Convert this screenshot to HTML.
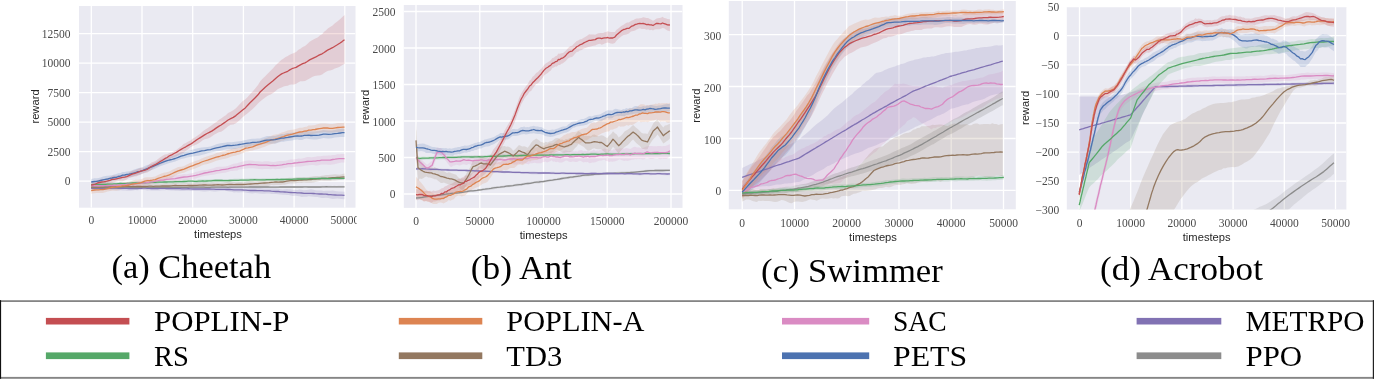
<!DOCTYPE html>
<html><head><meta charset="utf-8"><title>figure</title>
<style>html,body{margin:0;padding:0;background:#fff;width:1376px;height:383px;overflow:hidden}svg{display:block;filter:blur(0.6px)}</style>
</head><body>
<svg width="1376" height="383" viewBox="0 0 1376 383"><defs>
<clipPath id="clipa"><rect x="79.0" y="6.0" width="276.5" height="201.7"/></clipPath>
<clipPath id="clipb"><rect x="403.8" y="5.0" width="278.7" height="202.9"/></clipPath>
<clipPath id="clipc"><rect x="728.8" y="1.0" width="287.0" height="208.3"/></clipPath>
<clipPath id="clipd"><rect x="1066.8" y="7.0" width="279.6" height="202.6"/></clipPath>
<clipPath id="cliptxt"><rect x="0" y="0" width="356.8" height="383"/></clipPath>
</defs>
<rect x="79.0" y="6.0" width="276.5" height="201.7" fill="#EAEAF2"/>
<g clip-path="url(#clipa)">
<line x1="91.3" y1="6.0" x2="91.3" y2="207.7" stroke="#fff" stroke-width="1.3"/>
<line x1="142.0" y1="6.0" x2="142.0" y2="207.7" stroke="#fff" stroke-width="1.3"/>
<line x1="192.7" y1="6.0" x2="192.7" y2="207.7" stroke="#fff" stroke-width="1.3"/>
<line x1="243.4" y1="6.0" x2="243.4" y2="207.7" stroke="#fff" stroke-width="1.3"/>
<line x1="294.1" y1="6.0" x2="294.1" y2="207.7" stroke="#fff" stroke-width="1.3"/>
<line x1="344.8" y1="6.0" x2="344.8" y2="207.7" stroke="#fff" stroke-width="1.3"/>
<line x1="79.0" y1="181.1" x2="355.5" y2="181.1" stroke="#fff" stroke-width="1.3"/>
<line x1="79.0" y1="151.6" x2="355.5" y2="151.6" stroke="#fff" stroke-width="1.3"/>
<line x1="79.0" y1="122.1" x2="355.5" y2="122.1" stroke="#fff" stroke-width="1.3"/>
<line x1="79.0" y1="92.6" x2="355.5" y2="92.6" stroke="#fff" stroke-width="1.3"/>
<line x1="79.0" y1="63.1" x2="355.5" y2="63.1" stroke="#fff" stroke-width="1.3"/>
<line x1="79.0" y1="33.6" x2="355.5" y2="33.6" stroke="#fff" stroke-width="1.3"/>
<polygon points="91.2,186.9 94.4,187.0 96.5,186.9 98.6,186.7 100.7,186.4 103.1,186.0 105.4,186.1 107.8,185.9 110.2,185.9 112.3,185.6 114.4,185.7 116.5,185.8 118.6,185.9 120.7,185.8 122.8,185.6 124.9,185.6 126.9,186.0 129.0,186.0 131.0,186.3 133.1,186.5 135.1,186.4 137.2,186.2 139.2,185.9 141.2,186.1 143.2,185.9 145.2,186.2 147.3,186.6 149.3,186.8 151.3,186.7 153.3,186.2 155.5,186.1 157.8,186.0 160.0,186.0 162.2,186.3 164.4,186.2 166.7,186.2 168.9,186.4 171.1,186.6 173.3,186.7 175.5,186.5 177.6,186.2 179.8,186.5 182.0,186.8 184.2,187.2 186.3,187.3 188.5,186.9 190.7,186.8 192.8,186.6 194.9,186.8 197.0,187.0 199.2,187.2 201.3,187.0 203.4,186.8 205.5,186.9 207.7,187.3 209.7,187.5 211.8,187.7 213.9,187.7 215.9,187.8 218.0,187.5 220.1,187.3 222.1,187.1 224.5,187.0 226.9,186.8 229.3,186.8 231.6,187.0 234.0,187.4 236.4,187.8 238.7,187.9 241.0,187.9 243.4,188.0 245.7,188.4 248.0,188.3 250.4,188.0 252.7,187.6 255.1,187.5 257.4,187.5 259.7,187.7 262.1,188.2 264.4,188.5 266.7,188.5 269.1,188.4 271.4,188.6 273.7,188.5 276.0,188.6 278.4,188.7 280.7,189.3 282.7,189.4 284.8,189.2 286.8,188.9 288.8,189.2 290.8,189.3 293.0,189.8 295.2,189.8 297.4,189.9 299.5,189.6 301.7,189.8 304.0,190.2 306.4,190.1 308.7,189.7 311.0,189.3 313.4,189.8 315.4,190.3 317.5,190.5 319.6,190.5 321.7,190.6 323.8,190.9 325.8,190.8 328.2,190.7 330.5,190.7 332.8,190.6 335.2,190.9 337.2,191.2 339.3,191.6 341.4,191.6 344.5,191.7 344.5,199.3 341.4,199.0 339.3,198.7 337.2,198.6 335.2,198.8 332.8,199.1 330.5,198.5 328.2,198.1 325.8,197.8 323.8,198.0 321.7,198.0 319.6,197.6 317.5,197.1 315.4,197.0 313.4,196.8 311.0,196.6 308.7,196.2 306.4,196.7 304.0,196.8 301.7,197.0 299.5,196.2 297.4,196.0 295.2,195.8 293.0,195.9 290.8,195.4 288.8,195.1 286.8,194.9 284.8,194.8 282.7,194.8 280.7,194.6 278.4,194.3 276.0,194.0 273.7,193.9 271.4,193.9 269.1,193.5 266.7,193.6 264.4,193.7 262.1,193.8 259.7,193.5 257.4,193.3 255.1,193.1 252.7,193.4 250.4,193.3 248.0,193.1 245.7,192.6 243.4,192.3 241.0,192.2 238.7,192.4 236.4,192.3 234.0,192.5 231.6,191.8 229.3,191.4 226.9,191.0 224.5,191.1 222.1,191.0 220.1,190.9 218.0,191.2 215.9,191.5 213.9,191.6 211.8,191.2 209.7,191.1 207.7,191.3 205.5,191.5 203.4,191.5 201.3,191.3 199.2,191.1 197.0,191.0 194.9,191.0 192.8,191.0 190.7,191.0 188.5,190.8 186.3,190.8 184.2,191.0 182.0,191.1 179.8,191.1 177.6,190.8 175.5,190.8 173.3,190.6 171.1,190.5 168.9,190.3 166.7,190.1 164.4,190.3 162.2,190.3 160.0,190.6 157.8,190.5 155.5,190.4 153.3,190.5 151.3,190.6 149.3,190.3 147.3,190.4 145.2,190.0 143.2,190.0 141.2,189.9 139.2,189.9 137.2,190.2 135.1,190.1 133.1,190.5 131.0,190.7 129.0,190.7 126.9,190.8 124.9,190.5 122.8,190.5 120.7,190.3 118.6,190.5 116.5,190.2 114.4,190.2 112.3,189.9 110.2,190.2 107.8,190.0 105.4,190.1 103.1,190.0 100.7,190.0 98.6,190.3 96.5,190.6 94.4,190.7 91.2,190.5" fill="#8172B3" fill-opacity="0.18"/>
<polygon points="91.2,186.5 93.2,186.6 95.2,186.7 97.2,186.6 99.2,186.6 101.3,186.5 103.3,186.6 105.3,186.5 107.3,186.5 109.3,186.4 111.3,186.5 113.3,186.5 115.3,186.5 117.3,186.5 119.3,186.5 121.4,186.5 123.4,186.4 125.4,186.4 127.4,186.4 129.4,186.5 131.4,186.5 133.4,186.4 135.4,186.4 137.4,186.3 139.4,186.3 141.5,186.4 143.5,186.4 145.5,186.3 147.5,186.2 149.5,186.2 151.5,186.3 153.5,186.4 155.5,186.4 157.5,186.4 159.6,186.4 161.6,186.4 163.6,186.4 165.6,186.3 167.6,186.4 169.6,186.3 171.6,186.4 173.6,186.4 175.6,186.5 177.6,186.4 179.7,186.4 181.7,186.5 183.7,186.5 185.7,186.4 187.7,186.2 189.7,186.2 191.7,186.2 193.7,186.2 195.7,186.1 197.7,186.2 199.8,186.2 201.8,186.2 203.8,186.3 205.8,186.3 207.8,186.4 209.8,186.3 211.8,186.2 213.8,186.2 215.8,186.2 217.9,186.1 219.9,186.0 221.9,186.0 223.9,186.1 225.9,186.2 227.9,186.2 229.9,186.1 231.9,186.1 233.9,186.2 235.9,186.1 238.0,186.1 240.0,186.1 242.0,186.1 244.0,186.2 246.0,186.1 248.0,186.2 250.0,186.1 252.0,186.0 254.0,185.9 256.0,186.0 258.1,186.0 260.1,186.0 262.1,185.9 264.1,185.9 266.1,185.9 268.1,185.9 270.1,186.0 272.1,186.0 274.1,186.2 276.1,186.1 278.2,186.1 280.2,185.9 282.2,185.9 284.2,185.9 286.2,186.0 288.2,186.1 290.2,186.1 292.2,186.1 294.2,186.1 296.3,186.2 298.3,186.1 300.3,186.1 302.3,185.9 304.3,185.9 306.3,185.9 308.3,186.0 310.3,186.0 312.3,186.0 314.3,185.9 316.4,185.9 318.4,185.9 320.4,186.0 322.4,185.8 324.4,185.8 326.4,185.7 328.4,185.8 330.4,185.8 332.4,185.9 334.4,185.8 336.5,185.9 338.5,185.8 340.5,185.8 342.5,185.7 344.5,185.7 344.5,187.6 342.5,187.7 340.5,187.8 338.5,187.8 336.5,187.9 334.4,187.7 332.4,187.8 330.4,187.8 328.4,187.8 326.4,187.7 324.4,187.7 322.4,187.8 320.4,188.0 318.4,188.0 316.4,188.0 314.3,187.9 312.3,188.0 310.3,187.9 308.3,187.9 306.3,188.0 304.3,187.9 302.3,188.0 300.3,188.0 298.3,188.1 296.3,188.1 294.2,188.0 292.2,187.9 290.2,188.0 288.2,187.9 286.2,187.9 284.2,187.9 282.2,188.1 280.2,188.1 278.2,188.0 276.1,188.1 274.1,188.1 272.1,188.0 270.1,188.0 268.1,188.0 266.1,188.1 264.1,188.0 262.1,187.9 260.1,187.9 258.1,188.0 256.0,188.1 254.0,188.1 252.0,188.1 250.0,188.0 248.0,188.0 246.0,188.0 244.0,188.0 242.0,188.0 240.0,188.0 238.0,188.1 235.9,188.1 233.9,188.0 231.9,188.1 229.9,188.2 227.9,188.3 225.9,188.2 223.9,188.1 221.9,188.1 219.9,188.2 217.9,188.2 215.8,188.2 213.8,188.1 211.8,188.2 209.8,188.2 207.8,188.4 205.8,188.3 203.8,188.3 201.8,188.3 199.8,188.3 197.7,188.3 195.7,188.2 193.7,188.1 191.7,188.1 189.7,188.2 187.7,188.4 185.7,188.5 183.7,188.5 181.7,188.4 179.7,188.4 177.6,188.3 175.6,188.3 173.6,188.4 171.6,188.4 169.6,188.4 167.6,188.3 165.6,188.3 163.6,188.4 161.6,188.6 159.6,188.5 157.5,188.4 155.5,188.3 153.5,188.3 151.5,188.3 149.5,188.3 147.5,188.3 145.5,188.4 143.5,188.3 141.5,188.4 139.4,188.4 137.4,188.4 135.4,188.3 133.4,188.4 131.4,188.4 129.4,188.4 127.4,188.4 125.4,188.4 123.4,188.5 121.4,188.5 119.3,188.5 117.3,188.4 115.3,188.4 113.3,188.4 111.3,188.4 109.3,188.4 107.3,188.4 105.3,188.4 103.3,188.6 101.3,188.6 99.2,188.7 97.2,188.6 95.2,188.7 93.2,188.6 91.2,188.5" fill="#8C8C8C" fill-opacity="0.18"/>
<polygon points="91.2,185.6 94.4,185.3 96.5,185.2 98.6,185.3 100.7,185.7 103.1,185.2 105.4,184.8 107.8,184.7 110.2,185.2 112.3,185.3 114.4,184.8 116.5,184.4 118.6,184.0 120.7,184.0 122.8,184.3 124.9,184.4 126.9,184.7 129.0,184.4 131.0,184.8 133.1,184.5 135.1,184.5 137.2,184.2 139.2,184.5 141.2,184.4 143.2,184.4 145.2,184.2 147.3,184.0 149.3,183.7 151.3,183.4 153.3,183.6 155.5,183.4 157.8,183.6 160.0,183.8 162.2,183.7 164.4,183.3 166.7,183.1 168.9,183.5 171.1,183.4 173.3,183.1 175.5,182.6 177.6,183.1 179.8,183.3 182.0,183.3 184.2,182.9 186.3,182.8 188.5,182.9 190.7,183.1 192.8,183.0 194.9,182.7 197.0,182.6 199.2,182.6 201.3,182.7 203.4,182.2 205.5,182.6 207.7,182.7 209.7,182.9 211.8,182.6 213.9,182.4 215.9,182.4 218.0,182.5 220.1,182.7 222.1,182.5 224.5,182.3 226.9,181.9 229.3,181.6 231.6,181.7 234.0,181.9 236.4,182.2 238.7,182.0 241.0,182.1 243.4,182.0 245.7,181.8 248.0,181.2 250.4,181.0 252.7,181.0 255.1,181.3 257.4,181.0 259.7,180.8 262.1,180.3 264.4,180.3 266.7,179.9 269.1,179.7 271.4,179.3 273.7,179.6 276.0,179.3 278.4,179.4 280.7,179.2 282.7,179.6 284.8,179.1 286.8,178.3 288.8,177.9 290.8,178.2 293.0,178.4 295.2,177.8 297.4,177.5 299.5,177.2 301.7,177.5 304.0,177.3 306.4,177.5 308.7,176.9 311.0,176.8 313.4,176.2 315.4,176.1 317.5,175.9 319.6,176.2 321.7,175.8 323.8,175.4 325.8,175.0 328.2,174.9 330.5,174.7 332.8,174.4 335.2,174.2 337.2,174.4 339.3,174.7 341.4,174.3 344.5,173.6 344.5,179.1 341.4,179.7 339.3,180.1 337.2,180.3 335.2,180.4 332.8,180.6 330.5,180.9 328.2,181.0 325.8,181.0 323.8,181.1 321.7,180.7 319.6,181.1 317.5,181.4 315.4,182.0 313.4,182.5 311.0,182.8 308.7,182.8 306.4,182.8 304.0,182.6 301.7,182.9 299.5,182.7 297.4,183.1 295.2,183.4 293.0,183.5 290.8,183.6 288.8,183.8 286.8,184.2 284.8,184.7 282.7,184.7 280.7,184.9 278.4,185.1 276.0,184.9 273.7,185.2 271.4,185.1 269.1,185.7 266.7,185.9 264.4,185.9 262.1,186.1 259.7,186.1 257.4,186.1 255.1,186.2 252.7,186.2 250.4,186.8 248.0,187.0 245.7,187.5 243.4,187.2 241.0,186.8 238.7,186.4 236.4,186.5 234.0,186.8 231.6,186.8 229.3,186.7 226.9,187.1 224.5,187.5 222.1,187.5 220.1,187.3 218.0,187.0 215.9,187.6 213.9,187.3 211.8,187.9 209.7,187.6 207.7,187.4 205.5,187.4 203.4,187.5 201.3,187.8 199.2,187.8 197.0,188.0 194.9,188.3 192.8,188.4 190.7,187.9 188.5,188.1 186.3,188.2 184.2,188.6 182.0,188.7 179.8,188.2 177.6,188.2 175.5,187.7 173.3,188.1 171.1,187.9 168.9,188.1 166.7,188.1 164.4,188.5 162.2,188.3 160.0,188.3 157.8,188.0 155.5,188.3 153.3,188.3 151.3,188.1 149.3,188.1 147.3,188.0 145.2,188.3 143.2,188.3 141.2,188.2 139.2,188.4 137.2,188.6 135.1,189.1 133.1,188.8 131.0,188.7 129.0,188.4 126.9,188.3 124.9,188.3 122.8,188.3 120.7,188.7 118.6,188.8 116.5,188.8 114.4,188.8 112.3,188.8 110.2,188.9 107.8,188.9 105.4,189.0 103.1,189.0 100.7,189.3 98.6,189.0 96.5,189.3 94.4,189.1 91.2,189.3" fill="#937860" fill-opacity="0.18"/>
<polygon points="91.2,183.4 94.3,183.3 96.4,183.2 98.5,183.3 100.6,183.1 103.0,182.9 105.3,182.6 107.7,182.5 110.0,182.5 112.1,182.6 114.2,182.6 116.3,182.5 118.4,182.2 120.5,182.1 122.6,182.0 124.6,181.9 126.7,181.9 128.7,181.7 130.8,181.5 132.8,181.4 134.9,181.4 136.9,181.3 138.9,181.2 140.9,181.3 142.9,181.4 145.0,181.3 147.0,181.3 149.0,181.2 151.0,181.1 153.0,181.0 155.2,180.8 157.5,180.6 159.7,180.4 161.9,180.6 164.2,180.5 166.4,180.5 168.6,180.5 170.9,180.4 173.1,180.3 175.2,180.1 177.4,180.2 179.6,180.1 181.8,180.1 184.0,179.8 186.2,179.8 188.3,179.8 190.5,179.7 192.6,179.7 194.6,179.7 196.7,179.9 198.7,179.6 200.8,179.6 202.8,179.4 204.9,179.6 206.9,179.5 208.9,179.5 211.0,179.3 213.0,179.1 215.2,179.0 217.3,178.9 219.4,178.9 221.5,179.0 223.6,179.0 225.7,179.1 227.9,179.1 230.0,179.1 232.1,179.0 234.2,178.8 236.3,178.8 238.4,178.7 240.4,178.7 242.5,178.6 244.5,178.7 246.5,178.5 248.5,178.5 250.5,178.2 252.6,178.3 254.6,178.2 256.6,178.3 258.6,178.4 260.6,178.4 262.7,178.3 264.7,178.2 266.7,178.2 268.8,178.2 270.8,178.2 272.9,178.1 275.0,178.1 277.1,177.9 279.1,178.0 281.2,178.0 283.3,178.1 285.4,177.9 287.4,177.9 289.5,177.8 291.6,177.8 293.7,177.7 295.7,177.6 297.8,177.5 299.9,177.5 302.1,177.3 304.2,177.3 306.3,177.3 308.4,177.4 310.5,177.1 312.7,177.1 314.8,177.0 316.9,177.0 319.0,176.9 321.2,176.8 323.4,176.8 325.6,176.9 327.8,177.1 330.0,177.2 332.3,177.0 334.5,176.9 336.7,176.7 339.3,176.8 341.9,176.8 344.5,177.1 344.5,179.8 341.9,179.7 339.3,179.7 336.7,179.6 334.5,179.7 332.3,179.8 330.0,180.0 327.8,180.1 325.6,180.0 323.4,180.1 321.2,179.8 319.0,180.0 316.9,180.1 314.8,180.2 312.7,180.2 310.5,180.2 308.4,180.4 306.3,180.4 304.2,180.6 302.1,180.4 299.9,180.5 297.8,180.4 295.7,180.7 293.7,180.8 291.6,180.9 289.5,180.9 287.4,180.9 285.4,180.7 283.3,181.0 281.2,181.0 279.1,181.1 277.1,181.1 275.0,181.3 272.9,181.2 270.8,181.0 268.8,181.0 266.7,181.1 264.7,181.3 262.7,181.3 260.6,181.3 258.6,181.3 256.6,181.1 254.6,181.0 252.6,181.2 250.5,181.4 248.5,181.6 246.5,181.7 244.5,181.6 242.5,181.7 240.4,181.6 238.4,181.8 236.3,181.8 234.2,181.8 232.1,181.9 230.0,182.1 227.9,182.2 225.7,182.2 223.6,182.1 221.5,182.1 219.4,181.9 217.3,181.9 215.2,182.0 213.0,182.3 211.0,182.4 208.9,182.4 206.9,182.4 204.9,182.6 202.8,182.5 200.8,182.7 198.7,182.7 196.7,182.9 194.6,182.8 192.6,182.8 190.5,182.7 188.3,182.8 186.2,182.9 184.0,183.0 181.8,183.2 179.6,183.1 177.4,183.1 175.2,183.2 173.1,183.4 170.9,183.5 168.6,183.4 166.4,183.4 164.2,183.4 161.9,183.5 159.7,183.5 157.5,183.8 155.2,183.9 153.0,184.1 151.0,184.1 149.0,184.3 147.0,184.4 145.0,184.4 142.9,184.4 140.9,184.3 138.9,184.5 136.9,184.6 134.9,184.6 132.8,184.7 130.8,184.7 128.7,184.9 126.7,184.9 124.6,185.1 122.6,185.0 120.5,185.1 118.4,185.1 116.3,185.4 114.2,185.5 112.1,185.5 110.0,185.4 107.7,185.5 105.3,185.7 103.0,185.8 100.6,185.9 98.5,186.1 96.4,186.1 94.3,186.3 91.2,186.5" fill="#55A868" fill-opacity="0.18"/>
<polygon points="91.2,183.7 94.4,183.6 96.5,183.7 98.6,184.0 100.7,183.6 103.1,183.2 105.4,182.9 107.8,183.0 110.2,183.0 112.3,183.2 114.4,183.4 116.5,183.5 118.6,183.3 120.7,183.1 122.8,182.8 125.0,182.5 127.2,182.0 129.3,182.0 131.5,182.2 133.7,181.9 135.9,181.3 138.2,180.7 140.4,180.7 142.7,180.5 145.1,180.1 147.5,179.3 149.9,179.4 152.7,179.4 155.4,179.1 158.1,178.3 160.9,177.7 163.7,177.5 166.6,177.1 169.4,176.5 172.3,175.8 175.2,175.5 178.2,174.9 181.1,174.5 184.1,174.1 187.0,174.2 189.9,173.4 192.9,173.0 195.8,171.9 198.8,171.2 201.7,170.5 204.6,169.9 207.6,169.8 210.5,168.9 213.4,168.2 216.4,167.1 219.3,166.8 222.2,166.7 225.2,166.6 227.8,166.1 230.5,165.0 232.8,164.1 235.2,163.5 237.2,163.2 239.2,162.6 242.8,161.5 246.1,160.7 249.4,160.6 252.5,160.7 255.5,161.3 258.8,161.3 262.5,161.7 264.5,161.3 266.6,161.3 268.8,161.2 270.9,161.7 273.1,161.9 275.3,161.7 277.5,161.2 279.6,161.1 281.8,161.1 284.0,161.0 286.1,160.7 288.2,159.9 290.4,159.6 292.5,159.4 294.6,159.2 296.7,159.1 298.8,158.5 300.9,158.7 303.0,158.2 305.0,157.8 307.1,157.0 309.2,156.9 311.3,157.3 313.4,157.0 315.4,156.8 317.5,156.3 319.6,156.3 321.7,156.1 323.8,155.8 325.8,155.8 328.2,155.5 330.5,155.4 332.8,155.1 335.2,154.9 337.2,154.2 339.3,154.3 341.4,154.1 344.5,154.1 344.5,162.5 341.4,162.6 339.3,163.0 337.2,163.5 335.2,164.1 332.8,164.5 330.5,164.7 328.2,164.8 325.8,164.4 323.8,164.4 321.7,164.4 319.6,165.1 317.5,165.4 315.4,165.5 313.4,165.1 311.3,165.1 309.2,165.2 307.1,165.6 305.0,165.7 303.0,166.2 300.9,166.5 298.8,166.5 296.7,166.6 294.6,167.0 292.5,167.3 290.4,167.3 288.2,167.2 286.1,167.8 284.0,168.3 281.8,168.6 279.6,169.1 277.5,168.9 275.3,169.2 273.1,168.8 270.9,169.2 268.8,168.9 266.6,168.9 264.5,169.0 262.5,169.2 258.8,169.1 255.5,168.4 252.5,168.2 249.4,168.2 246.1,168.5 242.8,168.9 239.2,169.6 237.2,170.5 235.2,170.6 232.8,170.9 230.5,171.1 227.8,172.1 225.2,172.7 222.2,172.9 219.3,173.6 216.4,174.0 213.4,174.7 210.5,175.1 207.6,175.6 204.6,176.0 201.7,176.5 198.8,177.6 195.8,178.5 192.9,179.3 189.9,179.6 187.0,179.9 184.1,180.0 181.1,180.5 178.2,181.2 175.2,181.9 172.3,181.6 169.4,182.0 166.6,182.2 163.7,183.0 160.9,182.9 158.1,183.2 155.4,183.4 152.7,183.9 149.9,184.5 147.5,185.2 145.1,185.8 142.7,185.9 140.4,185.5 138.2,185.9 135.9,186.2 133.7,186.7 131.5,186.6 129.3,186.6 127.2,186.9 125.0,187.4 122.8,187.3 120.7,187.4 118.6,187.5 116.5,188.2 114.4,187.6 112.3,187.4 110.2,187.3 107.8,187.9 105.4,188.2 103.1,188.3 100.7,188.1 98.6,187.8 96.5,187.7 94.4,187.8 91.2,187.9" fill="#DA8BC3" fill-opacity="0.18"/>
<polygon points="91.2,187.7 94.3,187.3 96.4,186.7 98.5,187.0 100.6,186.5 103.0,186.3 105.3,185.5 107.7,185.2 110.0,184.8 112.1,184.3 114.2,183.8 116.3,183.8 118.4,183.4 120.5,183.3 122.6,182.4 124.7,182.3 126.9,182.1 129.1,181.9 131.2,181.2 133.4,180.2 135.6,179.7 137.9,179.7 140.1,179.5 142.4,178.7 144.8,177.6 147.3,177.2 149.7,177.3 152.4,177.1 155.2,176.6 158.0,175.1 160.8,173.7 163.7,172.8 166.5,172.2 169.4,171.6 172.3,169.8 175.2,168.6 178.2,167.1 181.1,166.8 184.1,165.9 187.0,164.6 189.9,162.9 192.9,161.9 195.8,160.7 198.8,160.0 201.7,158.4 204.6,157.2 207.6,156.3 210.5,155.3 213.4,154.4 216.4,153.1 219.3,152.5 222.2,151.4 225.2,150.9 227.2,150.0 229.2,149.6 231.2,148.9 233.3,148.4 235.3,148.3 237.4,148.1 239.5,147.5 241.6,146.4 243.8,145.3 245.9,144.4 248.1,143.8 250.2,143.5 252.6,143.1 254.9,142.4 257.3,141.2 259.8,140.2 262.4,139.4 264.9,138.5 266.9,137.7 268.9,136.8 271.0,135.9 273.0,135.1 275.2,134.6 277.4,134.2 279.5,133.6 281.7,132.6 283.7,132.1 285.8,131.2 287.8,130.6 289.8,130.1 292.3,129.7 294.9,129.3 297.4,128.5 299.7,127.7 302.1,127.7 304.4,127.0 306.6,126.8 308.7,125.6 310.9,125.5 313.0,125.2 315.1,125.0 317.2,124.3 319.3,123.8 321.4,123.5 323.5,123.4 325.5,123.5 327.5,123.7 329.6,123.9 332.6,124.0 335.5,123.4 337.8,123.1 340.0,123.1 343.0,123.1 344.5,122.7 344.5,131.2 343.0,131.6 340.0,132.0 337.8,132.2 335.5,132.2 332.6,132.6 329.6,132.6 327.5,132.5 325.5,131.9 323.5,132.0 321.4,132.6 319.3,132.8 317.2,133.1 315.1,133.6 313.0,133.9 310.9,134.8 308.7,134.6 306.6,135.5 304.4,135.3 302.1,136.0 299.7,136.3 297.4,136.8 294.9,137.4 292.3,138.0 289.8,138.6 287.8,139.2 285.8,139.6 283.7,140.5 281.7,140.8 279.5,141.8 277.4,142.6 275.2,143.3 273.0,143.8 271.0,144.3 268.9,145.0 266.9,145.8 264.9,146.7 262.4,147.6 259.8,148.5 257.3,149.2 254.9,149.8 252.6,150.5 250.2,150.8 248.1,151.5 245.9,151.8 243.8,152.8 241.6,153.5 239.5,154.4 237.4,154.9 235.3,155.8 233.3,156.0 231.2,156.6 229.2,157.4 227.2,158.2 225.2,158.8 222.2,159.2 219.3,160.0 216.4,160.7 213.4,162.0 210.5,162.9 207.6,164.0 204.6,164.5 201.7,165.6 198.8,167.1 195.8,168.3 192.9,169.3 189.9,170.2 187.0,171.3 184.1,172.8 181.1,173.3 178.2,174.3 175.2,175.7 172.3,177.5 169.4,178.7 166.5,179.7 163.7,180.4 160.8,181.5 158.0,182.0 155.2,182.8 152.4,183.1 149.7,183.7 147.3,183.8 144.8,184.3 142.4,185.1 140.1,186.3 137.9,186.6 135.6,186.7 133.4,187.1 131.2,188.0 129.1,188.7 126.9,188.7 124.7,189.0 122.6,189.2 120.5,190.1 118.4,190.2 116.3,190.7 114.2,190.6 112.1,190.7 110.0,190.9 107.7,191.4 105.3,192.2 103.0,192.9 100.6,193.1 98.5,193.1 96.4,193.0 94.3,193.2 91.2,193.7" fill="#DD8452" fill-opacity="0.18"/>
<polygon points="91.2,178.9 94.3,178.3 96.4,178.2 98.5,177.9 100.6,177.6 103.0,176.6 105.3,176.1 107.7,175.8 110.0,175.4 112.1,175.2 114.2,174.4 116.3,174.1 118.4,173.2 120.5,172.9 122.6,172.1 124.7,171.9 126.9,171.6 129.1,171.3 131.2,170.8 133.4,169.8 135.6,168.9 137.9,168.3 140.1,167.8 142.4,167.2 144.8,165.9 147.3,165.0 149.7,164.5 152.4,163.7 155.2,162.5 158.0,160.9 160.8,159.3 163.7,158.3 166.5,157.3 169.4,156.9 172.3,155.9 175.2,155.0 178.2,153.7 181.1,152.3 184.1,151.8 187.0,151.0 189.9,150.5 192.9,149.6 195.8,148.7 198.8,148.0 201.7,147.4 204.6,147.2 207.6,146.9 210.5,146.4 213.4,145.5 216.4,144.3 219.3,143.5 222.2,143.1 225.2,142.7 227.2,142.3 229.2,142.2 231.2,142.3 233.3,142.1 235.3,141.7 237.4,141.5 239.5,141.2 241.6,141.1 243.8,140.3 245.9,139.9 248.1,139.4 250.2,139.1 252.6,138.7 254.9,138.7 257.3,138.6 259.8,138.6 262.4,137.4 264.9,136.7 266.9,136.1 268.9,136.0 271.0,136.2 273.0,136.1 275.2,136.1 277.4,135.2 279.5,134.7 281.7,134.1 283.7,134.2 285.8,133.6 287.8,133.1 289.8,133.0 292.3,132.7 294.9,132.3 297.4,131.8 299.7,131.9 302.1,131.8 304.4,131.0 306.6,131.1 308.7,131.1 310.9,131.5 313.7,131.4 316.6,131.2 319.0,131.0 321.4,130.5 323.4,130.1 325.4,130.2 328.7,130.4 331.8,130.6 334.8,129.9 337.6,129.3 340.4,128.9 342.4,128.7 343.8,128.9 344.5,129.1 344.5,137.1 343.8,136.9 342.4,137.1 340.4,137.0 337.6,137.2 334.8,137.5 331.8,138.3 328.7,138.6 325.4,138.3 323.4,138.0 321.4,138.5 319.0,139.1 316.6,139.5 313.7,139.5 310.9,139.2 308.7,138.9 306.6,138.5 304.4,138.9 302.1,139.9 299.7,140.0 297.4,139.6 294.9,139.8 292.3,140.6 289.8,140.8 287.8,141.0 285.8,141.3 283.7,141.8 281.7,141.8 279.5,142.3 277.4,143.0 275.2,143.7 273.0,143.6 271.0,143.7 268.9,143.6 266.9,143.6 264.9,143.8 262.4,144.3 259.8,145.2 257.3,145.4 254.9,145.5 252.6,145.4 250.2,146.0 248.1,146.7 245.9,147.5 243.8,147.5 241.6,147.6 239.5,147.8 237.4,148.3 235.3,148.9 233.3,149.0 231.2,149.3 229.2,149.1 227.2,149.2 225.2,149.5 222.2,150.2 219.3,150.9 216.4,151.3 213.4,151.9 210.5,152.5 207.6,153.2 204.6,154.3 201.7,154.9 198.8,155.7 195.8,156.0 192.9,156.5 189.9,157.0 187.0,157.5 184.1,158.4 181.1,159.1 178.2,160.3 175.2,161.4 172.3,162.3 169.4,163.1 166.5,164.1 163.7,165.0 160.8,166.1 158.0,167.2 155.2,168.8 152.4,169.8 149.7,170.7 147.3,171.4 144.8,172.5 142.4,173.8 140.1,174.5 137.9,175.0 135.6,175.8 133.4,176.3 131.2,176.9 129.1,177.2 126.9,177.3 124.7,178.2 122.6,178.2 120.5,179.4 118.4,179.4 116.3,180.2 114.2,180.4 112.1,181.2 110.0,181.6 107.7,182.3 105.3,182.2 103.0,182.9 100.6,183.2 98.5,183.8 96.4,184.5 94.3,184.6 91.2,185.0" fill="#4C72B0" fill-opacity="0.18"/>
<polygon points="91.2,182.3 93.3,181.5 95.4,180.9 97.5,179.9 99.6,179.8 101.7,178.8 103.8,178.9 105.8,178.8 107.9,178.0 110.0,177.3 112.1,175.7 114.2,175.6 116.3,175.8 118.4,174.9 120.5,175.0 122.6,174.7 124.7,175.2 126.8,174.2 128.9,172.7 130.9,171.5 132.9,170.7 134.9,170.2 136.9,169.3 138.9,168.4 140.9,167.8 142.9,167.8 144.9,167.8 146.9,166.6 149.1,164.5 151.3,162.5 153.6,161.7 155.8,160.8 158.0,159.1 160.3,157.2 162.5,155.7 164.8,154.5 167.1,154.2 169.4,153.1 171.7,152.5 174.1,151.1 176.4,150.0 178.8,148.0 181.1,146.5 183.5,144.1 185.8,142.9 188.2,141.4 190.5,140.4 192.9,138.6 195.2,137.2 197.6,135.5 199.9,134.1 202.3,131.7 204.6,129.9 207.0,128.5 209.3,127.0 211.7,125.3 214.0,123.4 216.4,121.9 218.7,120.1 221.1,118.6 223.4,116.7 225.8,115.3 228.1,113.1 230.7,111.8 233.3,110.2 235.9,108.2 239.9,104.1 242.6,101.2 245.3,99.3 247.7,97.0 250.0,94.3 252.4,91.8 255.2,88.4 258.0,85.0 260.1,81.5 262.3,79.1 265.2,76.2 268.1,73.3 270.6,70.8 273.1,68.3 275.6,65.2 277.6,63.4 279.6,61.6 281.6,59.8 283.6,58.5 285.6,56.9 287.7,56.0 289.8,54.8 291.9,53.8 294.0,53.0 296.1,52.0 298.1,50.0 300.4,48.7 302.7,47.1 305.0,45.9 307.3,44.0 309.6,41.8 311.7,40.6 313.8,39.3 315.9,38.2 318.0,37.3 320.1,35.2 322.1,34.2 324.1,31.8 326.1,30.3 328.1,28.2 330.1,27.0 332.5,25.6 334.9,23.3 337.3,21.5 339.7,19.4 342.1,17.3 344.5,15.0 344.5,63.7 342.1,65.3 339.7,66.7 337.3,67.8 334.9,68.5 332.5,69.8 330.1,70.4 328.1,70.8 326.1,71.8 324.1,73.0 322.1,74.6 320.1,75.3 318.0,75.4 315.9,75.8 313.8,76.2 311.7,77.3 309.6,78.4 307.3,79.8 305.0,81.1 302.7,81.3 300.4,81.3 298.1,82.4 296.1,83.8 294.0,84.6 291.9,84.6 289.8,84.7 287.7,85.8 285.6,86.0 283.6,86.6 281.6,87.4 279.6,88.3 277.6,89.3 275.6,90.9 273.1,93.0 270.6,94.6 268.1,95.5 265.2,97.5 262.3,99.7 260.1,101.4 258.0,103.6 255.2,106.5 252.4,109.2 250.0,111.3 247.7,113.2 245.3,115.1 242.6,117.3 239.9,120.1 235.9,123.2 233.3,124.5 230.7,124.8 228.1,126.3 225.8,128.3 223.4,130.2 221.1,131.8 218.7,132.3 216.4,133.6 214.0,134.7 211.7,136.5 209.3,138.0 207.0,138.7 204.6,139.3 202.3,140.5 199.9,142.5 197.6,144.1 195.2,145.0 192.9,146.1 190.5,147.2 188.2,149.2 185.8,150.9 183.5,152.7 181.1,153.8 178.8,155.1 176.4,156.2 174.1,157.1 171.7,158.3 169.4,159.3 167.1,161.1 164.8,161.8 162.5,163.7 160.3,164.6 158.0,165.9 155.8,166.6 153.6,167.9 151.3,169.9 149.1,171.6 146.9,172.8 144.9,172.9 142.9,173.5 140.9,174.6 138.9,175.3 136.9,176.2 134.9,176.4 132.9,176.9 130.9,177.5 128.9,178.0 126.8,179.5 124.7,180.4 122.6,181.3 120.5,181.3 118.4,181.0 116.3,181.5 114.2,182.2 112.1,183.0 110.0,183.5 107.9,183.9 105.8,183.9 103.8,184.8 101.7,185.1 99.6,186.0 97.5,186.4 95.4,187.1 93.3,188.0 91.2,188.6" fill="#C44E52" fill-opacity="0.18"/>
<polyline points="91.2,188.4 94.4,188.4 96.5,188.4 98.6,188.4 100.7,188.4 103.1,188.3 105.4,188.3 107.8,188.3 110.2,188.3 112.3,188.2 114.4,188.2 116.5,188.2 118.6,188.4 120.7,188.4 122.8,188.3 124.9,188.3 126.9,188.4 129.0,188.5 131.0,188.5 133.1,188.5 135.1,188.4 137.2,188.5 139.2,188.3 141.2,188.4 143.2,188.2 145.2,188.2 147.3,188.4 149.3,188.4 151.3,188.5 153.3,188.4 155.5,188.5 157.8,188.5 160.0,188.4 162.2,188.4 164.4,188.3 166.7,188.5 168.9,188.5 171.1,188.6 173.3,188.6 175.5,188.6 177.6,188.6 179.8,188.7 182.0,188.8 184.2,188.8 186.3,188.8 188.5,188.7 190.7,188.9 192.8,189.0 194.9,188.9 197.0,189.0 199.2,188.9 201.3,189.0 203.4,188.9 205.5,189.0 207.7,189.0 209.7,188.9 211.8,189.1 213.9,189.1 215.9,189.3 218.0,189.4 220.1,189.3 222.1,189.4 224.5,189.4 226.9,189.5 229.3,189.5 231.6,189.6 234.0,189.8 236.4,189.9 238.7,189.9 241.0,189.8 243.4,190.0 245.7,190.1 248.0,190.3 250.4,190.5 252.7,190.5 255.1,190.5 257.4,190.6 259.7,190.6 262.1,190.7 264.4,190.8 266.7,190.9 269.1,190.9 271.4,191.2 273.7,191.3 276.0,191.5 278.4,191.5 280.7,191.8 282.7,191.9 284.8,192.0 286.8,192.1 288.8,192.3 290.8,192.5 293.0,192.7 295.2,192.7 297.4,192.8 299.5,192.8 301.7,193.0 304.0,193.3 306.4,193.4 308.7,193.3 311.0,193.3 313.4,193.5 315.4,193.7 317.5,193.8 319.6,194.0 321.7,194.0 323.8,194.1 325.8,194.2 328.2,194.5 330.5,194.7 332.8,194.9 335.2,195.0 337.2,195.1 339.3,195.2 341.4,195.2 344.5,195.3" fill="none" stroke="#8172B3" stroke-width="1.30" stroke-linejoin="round"/>
<polyline points="91.2,187.6 93.2,187.6 95.2,187.7 97.2,187.6 99.2,187.6 101.3,187.5 103.3,187.6 105.3,187.5 107.3,187.6 109.3,187.5 111.3,187.6 113.3,187.6 115.3,187.5 117.3,187.5 119.3,187.5 121.4,187.4 123.4,187.4 125.4,187.4 127.4,187.4 129.4,187.4 131.4,187.4 133.4,187.5 135.4,187.4 137.4,187.5 139.4,187.4 141.5,187.4 143.5,187.3 145.5,187.3 147.5,187.3 149.5,187.4 151.5,187.4 153.5,187.4 155.5,187.4 157.5,187.4 159.6,187.4 161.6,187.4 163.6,187.4 165.6,187.4 167.6,187.4 169.6,187.4 171.6,187.4 173.6,187.3 175.6,187.4 177.6,187.4 179.7,187.4 181.7,187.4 183.7,187.4 185.7,187.3 187.7,187.3 189.7,187.2 191.7,187.2 193.7,187.2 195.7,187.2 197.7,187.2 199.8,187.2 201.8,187.2 203.8,187.2 205.8,187.3 207.8,187.3 209.8,187.3 211.8,187.2 213.8,187.1 215.8,187.2 217.9,187.1 219.9,187.1 221.9,187.1 223.9,187.2 225.9,187.2 227.9,187.3 229.9,187.2 231.9,187.2 233.9,187.2 235.9,187.2 238.0,187.1 240.0,187.1 242.0,187.1 244.0,187.1 246.0,187.1 248.0,187.1 250.0,187.0 252.0,187.0 254.0,187.0 256.0,187.0 258.1,187.0 260.1,187.0 262.1,186.9 264.1,187.0 266.1,187.0 268.1,187.0 270.1,187.1 272.1,187.1 274.1,187.1 276.1,187.1 278.2,187.1 280.2,187.0 282.2,187.0 284.2,187.0 286.2,187.0 288.2,187.0 290.2,187.0 292.2,187.0 294.2,187.0 296.3,187.0 298.3,187.0 300.3,187.0 302.3,187.0 304.3,186.9 306.3,186.9 308.3,187.0 310.3,187.0 312.3,187.0 314.3,187.0 316.4,187.0 318.4,186.9 320.4,187.0 322.4,186.9 324.4,186.8 326.4,186.7 328.4,186.8 330.4,186.8 332.4,186.8 334.4,186.8 336.5,186.9 338.5,186.9 340.5,186.9 342.5,186.8 344.5,186.8" fill="none" stroke="#8C8C8C" stroke-width="1.30" stroke-linejoin="round"/>
<polyline points="91.2,187.0 94.4,187.1 96.5,187.2 98.6,187.2 100.7,187.2 103.1,187.1 105.4,186.8 107.8,186.8 110.2,186.9 112.3,186.8 114.4,186.8 116.5,186.6 118.6,186.7 120.7,186.6 122.8,186.5 124.9,186.4 126.9,186.4 129.0,186.4 131.0,186.6 133.1,186.5 135.1,186.7 137.2,186.4 139.2,186.5 141.2,186.4 143.2,186.5 145.2,186.5 147.3,186.3 149.3,186.1 151.3,186.1 153.3,186.3 155.5,186.2 157.8,186.1 160.0,186.1 162.2,186.0 164.4,186.0 166.7,185.9 168.9,186.0 171.1,185.9 173.3,185.6 175.5,185.4 177.6,185.6 179.8,185.6 182.0,185.7 184.2,185.7 186.3,185.7 188.5,185.5 190.7,185.5 192.8,185.5 194.9,185.4 197.0,185.3 199.2,185.2 201.3,185.2 203.4,184.9 205.5,185.0 207.7,185.1 209.7,185.2 211.8,185.2 213.9,185.0 215.9,184.8 218.0,184.6 220.1,184.8 222.1,185.0 224.5,184.9 226.9,184.7 229.3,184.5 231.6,184.4 234.0,184.6 236.4,184.4 238.7,184.5 241.0,184.4 243.4,184.5 245.7,184.4 248.0,184.2 250.4,184.0 252.7,183.8 255.1,183.6 257.4,183.6 259.7,183.4 262.1,183.2 264.4,183.0 266.7,182.9 269.1,182.7 271.4,182.3 273.7,182.2 276.0,182.0 278.4,182.1 280.7,182.0 282.7,182.0 284.8,181.6 286.8,181.2 288.8,180.8 290.8,180.7 293.0,180.7 295.2,180.6 297.4,180.4 299.5,180.1 301.7,180.0 304.0,179.9 306.4,179.9 308.7,179.7 311.0,179.6 313.4,179.2 315.4,179.1 317.5,178.8 319.6,178.8 321.7,178.5 323.8,178.5 325.8,178.3 328.2,178.1 330.5,177.8 332.8,177.6 335.2,177.6 337.2,177.5 339.3,177.4 341.4,177.2 344.5,176.9" fill="none" stroke="#937860" stroke-width="1.30" stroke-linejoin="round"/>
<polyline points="91.2,184.9 94.3,184.7 96.4,184.6 98.5,184.6 100.6,184.5 103.0,184.4 105.3,184.3 107.7,184.2 110.0,184.1 112.1,184.1 114.2,183.9 116.3,183.8 118.4,183.6 120.5,183.5 122.6,183.6 124.6,183.6 126.7,183.5 128.7,183.3 130.8,183.1 132.8,183.0 134.9,183.0 136.9,183.0 138.9,182.9 140.9,182.8 142.9,182.9 145.0,182.8 147.0,182.7 149.0,182.6 151.0,182.4 153.0,182.4 155.2,182.3 157.5,182.2 159.7,182.1 161.9,182.1 164.2,182.0 166.4,182.0 168.6,181.9 170.9,181.9 173.1,181.8 175.2,181.6 177.4,181.7 179.6,181.7 181.8,181.7 184.0,181.5 186.2,181.4 188.3,181.2 190.5,181.2 192.6,181.2 194.6,181.3 196.7,181.4 198.7,181.1 200.8,181.1 202.8,181.0 204.9,181.1 206.9,181.0 208.9,180.9 211.0,180.8 213.0,180.6 215.2,180.5 217.3,180.5 219.4,180.4 221.5,180.5 223.6,180.6 225.7,180.6 227.9,180.6 230.0,180.5 232.1,180.4 234.2,180.3 236.3,180.3 238.4,180.3 240.4,180.2 242.5,180.1 244.5,180.2 246.5,180.1 248.5,180.1 250.5,179.9 252.6,179.9 254.6,179.7 256.6,179.8 258.6,179.9 260.6,179.9 262.7,179.8 264.7,179.8 266.7,179.6 268.8,179.6 270.8,179.6 272.9,179.6 275.0,179.6 277.1,179.5 279.1,179.6 281.2,179.5 283.3,179.5 285.4,179.4 287.4,179.4 289.5,179.3 291.6,179.3 293.7,179.2 295.7,179.1 297.8,179.0 299.9,179.0 302.1,178.9 304.2,179.0 306.3,178.8 308.4,178.8 310.5,178.6 312.7,178.7 314.8,178.7 316.9,178.7 319.0,178.5 321.2,178.4 323.4,178.4 325.6,178.5 327.8,178.6 330.0,178.6 332.3,178.4 334.5,178.4 336.7,178.2 339.3,178.4 341.9,178.3 344.5,178.4" fill="none" stroke="#55A868" stroke-width="1.30" stroke-linejoin="round"/>
<polyline points="91.2,185.7 94.4,185.7 96.5,185.7 98.6,185.7 100.7,185.7 103.1,185.6 105.4,185.6 107.8,185.6 110.2,185.4 112.3,185.3 114.4,185.2 116.5,185.5 118.6,185.1 120.7,185.0 122.8,184.8 125.0,184.6 127.2,184.1 129.3,184.1 131.5,184.3 133.7,184.2 135.9,183.6 138.2,183.2 140.4,183.0 142.7,183.1 145.1,182.8 147.5,182.5 149.9,182.2 152.7,181.8 155.4,181.2 158.1,180.7 160.9,180.1 163.7,180.0 166.6,179.4 169.4,179.2 172.3,178.8 175.2,178.6 178.2,178.0 181.1,177.5 184.1,177.0 187.0,176.8 189.9,176.3 192.9,175.9 195.8,175.3 198.8,174.6 201.7,173.8 204.6,173.0 207.6,172.5 210.5,171.8 213.4,171.4 216.4,170.6 219.3,170.3 222.2,169.7 225.2,169.3 227.8,168.9 230.5,168.1 232.8,167.7 235.2,167.1 237.2,166.8 239.2,166.3 242.8,165.6 246.1,164.9 249.4,164.5 252.5,164.6 255.5,164.7 258.8,165.1 262.5,165.1 264.5,165.2 266.6,165.2 268.8,165.3 270.9,165.7 273.1,165.5 275.3,165.6 277.5,165.3 279.6,165.2 281.8,164.9 284.0,164.4 286.1,164.2 288.2,163.7 290.4,163.6 292.5,163.4 294.6,163.0 296.7,162.8 298.8,162.5 300.9,162.4 303.0,162.1 305.0,161.8 307.1,161.5 309.2,161.4 311.3,161.4 313.4,161.2 315.4,161.1 317.5,160.7 319.6,160.7 321.7,160.2 323.8,160.1 325.8,160.1 328.2,160.1 330.5,160.0 332.8,159.5 335.2,159.2 337.2,158.8 339.3,158.7 341.4,158.7 344.5,158.6" fill="none" stroke="#DA8BC3" stroke-width="1.30" stroke-linejoin="round"/>
<polyline points="91.2,190.6 94.3,190.0 96.4,189.9 98.5,189.9 100.6,189.7 103.0,189.5 105.3,189.1 107.7,188.6 110.0,188.0 112.1,187.4 114.2,187.1 116.3,186.9 118.4,186.5 120.5,186.4 122.6,185.9 124.7,185.8 126.9,185.5 129.1,185.0 131.2,184.4 133.4,183.8 135.6,183.6 137.9,183.4 140.1,183.0 142.4,182.1 144.8,181.2 147.3,180.7 149.7,180.6 152.4,180.2 155.2,179.6 158.0,178.4 160.8,177.5 163.7,176.5 166.5,175.8 169.4,174.8 172.3,173.5 175.2,172.1 178.2,170.8 181.1,170.0 184.1,169.2 187.0,167.8 189.9,166.6 192.9,165.6 195.8,164.4 198.8,163.3 201.7,162.0 204.6,161.0 207.6,160.1 210.5,159.1 213.4,158.2 216.4,157.1 219.3,156.5 222.2,155.5 225.2,154.9 227.2,154.0 229.2,153.5 231.2,152.9 233.3,152.3 235.3,152.1 237.4,151.4 239.5,151.1 241.6,150.1 243.8,149.2 245.9,148.2 248.1,147.8 250.2,147.3 252.6,146.9 254.9,145.9 257.3,144.9 259.8,144.2 262.4,143.4 264.9,142.7 266.9,141.8 268.9,141.0 271.0,140.1 273.0,139.7 275.2,139.2 277.4,138.5 279.5,137.9 281.7,137.1 283.7,136.6 285.8,135.7 287.8,135.1 289.8,134.7 292.3,134.1 294.9,133.4 297.4,132.6 299.7,132.0 302.1,131.8 304.4,131.1 306.6,131.0 308.7,130.2 310.9,130.2 313.0,129.7 315.1,129.5 317.2,129.0 319.3,128.6 321.4,128.3 323.5,128.0 325.5,127.9 327.5,128.0 329.6,128.3 332.6,128.4 335.5,127.9 337.8,127.5 340.0,127.4 343.0,127.2 344.5,127.1" fill="none" stroke="#DD8452" stroke-width="1.30" stroke-linejoin="round"/>
<polyline points="91.2,182.0 94.3,181.5 96.4,181.3 98.5,181.0 100.6,180.5 103.0,179.9 105.3,179.4 107.7,179.0 110.0,178.4 112.1,178.0 114.2,177.5 116.3,177.3 118.4,176.5 120.5,176.1 122.6,175.2 124.7,175.0 126.9,174.4 129.1,174.1 131.2,173.7 133.4,173.2 135.6,172.5 137.9,171.7 140.1,171.3 142.4,170.7 144.8,169.7 147.3,168.6 149.7,167.7 152.4,166.7 155.2,165.4 158.0,164.2 160.8,163.0 163.7,161.9 166.5,160.9 169.4,160.0 172.3,159.3 175.2,158.5 178.2,157.4 181.1,156.2 184.1,155.3 187.0,154.3 189.9,153.7 192.9,153.1 195.8,152.3 198.8,151.7 201.7,150.9 204.6,150.6 207.6,149.9 210.5,149.6 213.4,148.7 216.4,147.9 219.3,147.3 222.2,146.7 225.2,146.0 227.2,145.5 229.2,145.5 231.2,145.6 233.3,145.4 235.3,145.2 237.4,144.9 239.5,144.5 241.6,144.2 243.8,143.8 245.9,143.4 248.1,143.1 250.2,142.8 252.6,142.4 254.9,142.4 257.3,142.2 259.8,141.9 262.4,141.1 264.9,140.5 266.9,140.2 268.9,140.1 271.0,139.9 273.0,139.8 275.2,139.7 277.4,139.2 279.5,138.6 281.7,138.1 283.7,138.1 285.8,137.7 287.8,137.4 289.8,137.0 292.3,136.6 294.9,136.2 297.4,136.0 299.7,136.1 302.1,136.0 304.4,135.3 306.6,135.3 308.7,135.2 310.9,135.5 313.7,135.4 316.6,135.4 319.0,135.1 321.4,134.6 323.4,134.2 325.4,134.2 328.7,134.4 331.8,134.2 334.8,133.7 337.6,133.4 340.4,133.0 342.4,132.7 343.8,132.6 344.5,132.6" fill="none" stroke="#4C72B0" stroke-width="1.30" stroke-linejoin="round"/>
<polyline points="91.2,185.2 93.3,184.6 95.4,184.0 97.5,183.0 99.6,182.5 101.7,182.0 103.8,181.8 105.8,181.5 107.9,180.8 110.0,180.4 112.1,179.4 114.2,179.3 116.3,178.8 118.4,178.4 120.5,177.8 122.6,177.4 124.7,177.2 126.8,176.7 128.9,175.7 130.9,174.7 132.9,173.9 134.9,173.3 136.9,172.7 138.9,171.9 140.9,171.1 142.9,170.7 144.9,170.2 146.9,169.5 149.1,167.9 151.3,166.5 153.6,165.3 155.8,164.4 158.0,163.0 160.3,161.5 162.5,160.2 164.8,158.7 167.1,157.5 169.4,155.8 171.7,154.9 174.1,153.5 176.4,152.4 178.8,150.7 181.1,149.4 183.5,148.0 185.8,146.8 188.2,145.4 190.5,144.2 192.9,142.6 195.2,140.9 197.6,139.3 199.9,137.9 202.3,136.4 204.6,134.9 207.0,133.5 209.3,132.4 211.7,131.1 214.0,129.6 216.4,127.9 218.7,126.4 221.1,125.0 223.4,123.4 225.8,121.7 228.1,120.0 230.7,118.7 233.3,117.4 235.9,115.6 239.9,112.3 242.6,110.0 245.3,107.9 247.7,105.3 250.0,102.8 252.4,100.5 255.2,97.7 258.0,94.8 260.1,92.0 262.3,90.0 265.2,87.3 268.1,84.8 270.6,82.8 273.1,80.8 275.6,78.5 277.6,76.8 279.6,75.3 281.6,73.9 283.6,73.0 285.6,72.2 287.7,71.3 289.8,69.9 291.9,68.7 294.0,68.0 296.1,67.4 298.1,66.1 300.4,64.9 302.7,63.7 305.0,62.9 307.3,61.5 309.6,59.9 311.7,58.9 313.8,57.9 315.9,56.9 318.0,55.7 320.1,54.7 322.1,53.8 324.1,52.5 326.1,51.1 328.1,49.8 330.1,48.9 332.5,47.7 334.9,46.2 337.3,44.8 339.7,43.3 342.1,41.6 344.5,39.8" fill="none" stroke="#C44E52" stroke-width="1.30" stroke-linejoin="round"/>
</g>
<g clip-path="url(#cliptxt)">
<text x="91.3" y="224.3" text-anchor="middle" fill="#4a4a4a" font-family="Liberation Serif, serif" font-size="11.5">0</text>
<text x="142.0" y="224.3" text-anchor="middle" fill="#4a4a4a" font-family="Liberation Serif, serif" font-size="11.5">10000</text>
<text x="192.7" y="224.3" text-anchor="middle" fill="#4a4a4a" font-family="Liberation Serif, serif" font-size="11.5">20000</text>
<text x="243.4" y="224.3" text-anchor="middle" fill="#4a4a4a" font-family="Liberation Serif, serif" font-size="11.5">30000</text>
<text x="294.1" y="224.3" text-anchor="middle" fill="#4a4a4a" font-family="Liberation Serif, serif" font-size="11.5">40000</text>
<text x="344.8" y="224.3" text-anchor="middle" fill="#4a4a4a" font-family="Liberation Serif, serif" font-size="11.5">50000</text>
</g>
<text x="70.5" y="185.1" text-anchor="end" fill="#4a4a4a" font-family="Liberation Serif, serif" font-size="11.5">0</text>
<text x="70.5" y="155.6" text-anchor="end" fill="#4a4a4a" font-family="Liberation Serif, serif" font-size="11.5">2500</text>
<text x="70.5" y="126.1" text-anchor="end" fill="#4a4a4a" font-family="Liberation Serif, serif" font-size="11.5">5000</text>
<text x="70.5" y="96.6" text-anchor="end" fill="#4a4a4a" font-family="Liberation Serif, serif" font-size="11.5">7500</text>
<text x="70.5" y="67.1" text-anchor="end" fill="#4a4a4a" font-family="Liberation Serif, serif" font-size="11.5">10000</text>
<text x="70.5" y="37.6" text-anchor="end" fill="#4a4a4a" font-family="Liberation Serif, serif" font-size="11.5">12500</text>
<text x="218.0" y="238.3" text-anchor="middle" fill="#262626" font-family="Liberation Sans, sans-serif" font-size="11.2">timesteps</text>
<text transform="translate(34.7,106.5) rotate(-90)" text-anchor="middle" fill="#262626" font-family="Liberation Sans, sans-serif" font-size="11.2" y="4">reward</text>
<rect x="403.8" y="5.0" width="278.7" height="202.9" fill="#EAEAF2"/>
<g clip-path="url(#clipb)">
<line x1="416.0" y1="5.0" x2="416.0" y2="207.9" stroke="#fff" stroke-width="1.3"/>
<line x1="479.8" y1="5.0" x2="479.8" y2="207.9" stroke="#fff" stroke-width="1.3"/>
<line x1="543.5" y1="5.0" x2="543.5" y2="207.9" stroke="#fff" stroke-width="1.3"/>
<line x1="607.2" y1="5.0" x2="607.2" y2="207.9" stroke="#fff" stroke-width="1.3"/>
<line x1="671.0" y1="5.0" x2="671.0" y2="207.9" stroke="#fff" stroke-width="1.3"/>
<line x1="403.8" y1="194.0" x2="682.5" y2="194.0" stroke="#fff" stroke-width="1.3"/>
<line x1="403.8" y1="157.5" x2="682.5" y2="157.5" stroke="#fff" stroke-width="1.3"/>
<line x1="403.8" y1="121.0" x2="682.5" y2="121.0" stroke="#fff" stroke-width="1.3"/>
<line x1="403.8" y1="84.5" x2="682.5" y2="84.5" stroke="#fff" stroke-width="1.3"/>
<line x1="403.8" y1="48.0" x2="682.5" y2="48.0" stroke="#fff" stroke-width="1.3"/>
<line x1="403.8" y1="11.5" x2="682.5" y2="11.5" stroke="#fff" stroke-width="1.3"/>
<polygon points="416.0,196.9 418.1,196.6 420.2,196.2 422.4,196.1 424.5,195.8 426.6,195.5 428.8,195.3 430.9,194.9 433.0,194.6 435.1,194.3 437.2,194.0 439.4,193.7 441.5,193.4 443.6,193.2 445.8,192.9 447.9,192.6 450.0,192.4 452.1,192.1 454.2,192.0 456.4,191.6 458.5,191.5 460.6,191.3 462.6,191.1 464.7,190.7 466.8,190.3 468.8,189.9 470.9,189.8 472.9,189.7 475.0,189.5 477.0,189.2 479.0,188.9 481.0,188.7 483.0,188.3 485.0,188.0 487.0,187.7 489.0,187.6 491.0,187.1 493.2,186.7 495.4,186.3 497.6,186.2 499.9,185.9 502.1,185.7 504.3,185.3 506.5,185.1 508.6,185.0 510.8,184.8 512.9,184.5 515.1,184.0 517.2,183.6 519.4,183.4 521.5,183.2 523.7,182.7 525.8,182.5 528.0,182.3 530.2,182.1 532.4,181.7 534.5,181.2 536.8,181.0 539.0,180.6 541.2,180.5 543.4,180.4 545.6,180.0 547.9,179.5 550.2,179.2 552.5,178.9 554.8,178.5 557.2,178.1 559.5,177.8 561.9,177.3 564.2,177.0 566.4,176.6 568.6,176.4 570.6,176.1 572.7,175.9 574.7,175.6 577.5,175.2 580.3,174.7 582.8,174.4 585.3,174.1 587.9,173.8 590.5,173.7 593.2,173.4 595.9,173.2 598.7,172.8 601.5,172.5 604.4,172.4 607.3,172.2 610.1,172.2 613.0,172.0 615.9,172.0 618.8,171.8 621.6,171.6 624.5,171.5 627.4,171.3 630.3,171.2 632.8,171.1 635.3,171.0 637.5,170.9 639.6,170.8 643.2,170.2 646.1,169.8 649.5,169.4 653.3,169.5 655.5,169.3 657.7,169.2 660.1,169.2 662.6,169.3 666.2,169.1 668.7,169.0 669.9,168.9 669.9,171.4 668.7,171.5 666.2,171.7 662.6,172.0 660.1,171.9 657.7,171.8 655.5,171.8 653.3,171.8 649.5,171.9 646.1,172.1 643.2,172.5 639.6,173.0 637.5,173.1 635.3,173.4 632.8,173.5 630.3,173.6 627.4,173.7 624.5,174.0 621.6,174.1 618.8,174.4 615.9,174.5 613.0,174.5 610.1,174.5 607.3,174.6 604.4,174.9 601.5,175.1 598.7,175.2 595.9,175.5 593.2,175.7 590.5,176.1 587.9,176.2 585.3,176.5 582.8,176.6 580.3,177.2 577.5,177.6 574.7,178.0 572.7,178.3 570.6,178.5 568.6,178.9 566.4,179.1 564.2,179.5 561.9,179.7 559.5,180.2 557.2,180.5 554.8,181.0 552.5,181.3 550.2,181.5 547.9,181.9 545.6,182.2 543.4,182.7 541.2,183.0 539.0,183.4 536.8,183.4 534.5,183.5 532.4,183.8 530.2,184.3 528.0,184.6 525.8,184.9 523.7,185.3 521.5,185.8 519.4,185.9 517.2,186.2 515.1,186.4 512.9,186.8 510.8,186.9 508.6,187.2 506.5,187.5 504.3,187.9 502.1,188.1 499.9,188.3 497.6,188.5 495.4,188.9 493.2,189.4 491.0,189.8 489.0,190.1 487.0,190.2 485.0,190.4 483.0,190.7 481.0,191.0 479.0,191.1 477.0,191.5 475.0,191.8 472.9,192.0 470.9,192.0 468.8,192.2 466.8,192.6 464.7,192.9 462.6,193.3 460.6,193.6 458.5,194.1 456.4,194.4 454.2,194.5 452.1,194.5 450.0,194.8 447.9,195.1 445.8,195.5 443.6,195.6 441.5,195.9 439.4,196.3 437.2,196.5 435.1,196.8 433.0,196.8 430.9,197.2 428.8,197.4 426.6,197.7 424.5,198.0 422.4,198.5 420.2,198.8 418.1,199.2 416.0,199.4" fill="#8C8C8C" fill-opacity="0.18"/>
<polygon points="416.0,167.6 418.1,167.5 420.2,167.5 422.4,167.6 424.5,167.8 426.6,167.8 428.8,167.9 430.9,167.9 433.0,168.1 435.1,168.0 437.2,168.2 439.4,168.4 441.5,168.6 443.6,168.7 445.8,168.7 447.9,168.7 450.0,169.0 452.1,169.0 454.2,169.0 456.4,168.9 458.5,169.0 460.6,169.1 462.6,169.2 464.7,169.2 466.8,169.3 468.8,169.3 470.9,169.4 472.9,169.6 475.0,169.7 477.0,169.8 479.0,169.8 481.0,170.0 483.0,170.1 485.0,170.1 487.0,170.1 489.0,170.1 491.0,170.3 493.2,170.3 495.4,170.5 497.6,170.4 499.9,170.6 502.1,170.6 504.3,170.9 506.5,170.8 508.6,170.9 510.8,170.9 512.9,171.2 515.1,171.2 517.2,171.2 519.4,171.2 521.5,171.4 523.6,171.4 525.7,171.5 527.9,171.4 530.0,171.6 532.1,171.4 534.2,171.6 536.4,171.8 538.5,172.0 540.6,171.9 542.7,171.7 544.8,171.8 547.0,171.9 549.1,171.9 551.2,171.8 553.3,171.8 555.4,171.9 557.5,172.1 559.6,172.0 561.7,172.0 563.9,171.9 566.0,172.0 568.1,172.2 570.2,172.1 572.3,172.2 574.4,172.2 576.5,172.4 578.6,172.2 580.7,172.3 582.8,172.4 584.9,172.5 587.0,172.4 589.1,172.2 591.2,172.2 593.3,172.2 595.4,172.3 597.5,172.3 599.6,172.4 601.7,172.4 603.8,172.3 605.9,172.2 608.0,172.3 610.1,172.3 612.2,172.2 614.3,172.4 616.4,172.5 618.5,172.7 620.6,172.6 622.7,172.5 624.8,172.5 627.0,172.4 629.1,172.5 631.3,172.6 633.4,172.6 635.6,172.6 637.7,172.7 639.9,172.9 642.0,172.7 644.1,172.5 646.3,172.3 648.5,172.3 650.8,172.6 653.0,172.7 655.3,172.7 657.5,172.6 659.8,172.5 662.0,172.7 664.7,172.7 667.3,172.9 669.9,172.7 669.9,175.2 667.3,175.3 664.7,175.2 662.0,175.0 659.8,174.9 657.5,174.8 655.3,175.1 653.0,175.0 650.8,175.2 648.5,174.9 646.3,174.9 644.1,175.0 642.0,175.2 639.9,175.4 637.7,175.3 635.6,175.1 633.4,175.0 631.3,175.0 629.1,175.1 627.0,175.0 624.8,175.0 622.7,174.7 620.6,174.6 618.5,174.7 616.4,174.7 614.3,174.7 612.2,174.7 610.1,174.7 608.0,174.6 605.9,174.4 603.8,174.6 601.7,174.9 599.6,174.9 597.5,174.9 595.4,174.7 593.3,174.8 591.2,174.7 589.1,174.9 587.0,174.9 584.9,174.9 582.8,174.7 580.7,174.7 578.6,174.7 576.5,174.7 574.4,174.5 572.3,174.5 570.2,174.6 568.1,174.7 566.0,174.5 563.9,174.4 561.7,174.3 559.6,174.5 557.5,174.5 555.4,174.5 553.3,174.3 551.2,174.2 549.1,174.1 547.0,174.0 544.8,174.1 542.7,174.1 540.6,174.2 538.5,174.2 536.4,174.3 534.2,174.2 532.1,174.2 530.0,174.0 527.9,173.9 525.7,173.8 523.6,174.0 521.5,173.8 519.4,173.6 517.2,173.4 515.1,173.4 512.9,173.3 510.8,173.2 508.6,173.1 506.5,173.1 504.3,173.2 502.1,173.1 499.9,172.9 497.6,172.9 495.4,172.8 493.2,172.7 491.0,172.7 489.0,172.5 487.0,172.5 485.0,172.2 483.0,172.4 481.0,172.4 479.0,172.3 477.0,172.2 475.0,172.0 472.9,171.9 470.9,171.7 468.8,171.7 466.8,171.7 464.7,171.6 462.6,171.5 460.6,171.5 458.5,171.4 456.4,171.3 454.2,171.2 452.1,171.2 450.0,171.2 447.9,171.2 445.8,171.1 443.6,171.1 441.5,170.9 439.4,170.6 437.2,170.5 435.1,170.5 433.0,170.6 430.9,170.5 428.8,170.3 426.6,170.1 424.5,169.9 422.4,169.8 420.2,169.9 418.1,170.1 416.0,170.3" fill="#8172B3" fill-opacity="0.18"/>
<polygon points="416.0,156.6 418.1,156.7 420.2,156.7 422.4,156.5 424.5,156.6 426.6,156.7 428.8,156.6 430.9,156.4 433.0,156.3 435.1,156.2 437.2,156.3 439.4,156.1 441.5,156.2 443.6,156.1 445.8,156.2 447.9,155.8 450.0,156.0 452.1,155.8 454.2,155.9 456.4,155.9 458.5,155.7 460.6,155.6 462.6,155.4 464.7,155.4 466.8,155.4 468.8,155.6 470.9,155.5 472.9,155.4 475.0,155.2 477.0,155.3 479.0,155.4 481.0,155.4 483.0,155.2 485.0,155.1 487.0,155.1 489.0,154.8 491.0,154.8 493.2,154.7 495.4,154.7 497.6,154.5 499.9,154.5 502.1,154.6 504.3,154.6 506.5,154.5 508.6,154.2 510.8,154.1 512.9,154.1 515.1,154.2 517.2,154.3 519.4,154.0 521.5,153.9 523.6,153.7 525.7,153.7 527.9,153.8 530.0,154.0 532.1,153.9 534.2,153.7 536.4,153.5 538.5,153.6 540.6,153.8 542.7,153.8 544.8,153.9 547.0,153.6 549.1,153.5 551.2,153.3 553.3,153.4 555.4,153.3 557.5,153.3 559.6,153.4 561.7,153.4 563.9,153.2 566.0,153.2 568.1,153.3 570.2,153.4 572.3,153.2 574.4,153.1 576.5,153.2 578.6,153.1 580.7,153.3 582.8,153.0 584.9,153.1 587.0,152.9 589.1,152.9 591.2,152.6 593.3,152.4 595.4,152.5 597.5,152.7 599.6,153.0 601.7,152.7 603.8,152.7 605.9,152.4 608.0,152.4 610.1,152.5 612.2,152.7 614.3,152.7 616.4,152.7 618.5,152.7 620.6,152.7 622.7,152.5 624.8,152.4 627.0,152.3 629.1,152.4 631.3,152.3 633.4,152.4 635.6,152.2 637.7,152.2 639.9,152.2 642.0,152.2 644.1,152.3 646.3,152.3 648.5,152.1 650.8,152.0 653.0,151.7 655.3,151.9 657.5,151.8 659.8,152.1 662.0,152.0 664.7,152.0 667.3,151.9 669.9,152.0 669.9,155.2 667.3,155.0 664.7,154.8 662.0,154.7 659.8,154.8 657.5,154.9 655.3,155.1 653.0,155.0 650.8,155.0 648.5,154.9 646.3,155.1 644.1,155.3 642.0,155.3 639.9,155.2 637.7,155.1 635.6,155.0 633.4,155.2 631.3,155.3 629.1,155.6 627.0,155.4 624.8,155.5 622.7,155.6 620.6,155.9 618.5,155.8 616.4,155.6 614.3,155.5 612.2,155.6 610.1,155.5 608.0,155.4 605.9,155.3 603.8,155.7 601.7,155.7 599.6,155.8 597.5,155.6 595.4,155.5 593.3,155.5 591.2,155.5 589.1,155.9 587.0,155.9 584.9,156.1 582.8,156.0 580.7,156.2 578.6,156.0 576.5,156.2 574.4,156.1 572.3,156.4 570.2,156.5 568.1,156.5 566.0,156.5 563.9,156.4 561.7,156.4 559.6,156.3 557.5,156.3 555.4,156.3 553.3,156.5 551.2,156.4 549.1,156.5 547.0,156.5 544.8,156.6 542.7,156.6 540.6,156.6 538.5,156.5 536.4,156.5 534.2,156.6 532.1,157.0 530.0,157.0 527.9,157.0 525.7,156.8 523.6,156.9 521.5,157.0 519.4,157.1 517.2,157.2 515.1,157.1 512.9,157.0 510.8,157.0 508.6,157.0 506.5,157.4 504.3,157.5 502.1,157.8 499.9,157.6 497.6,157.6 495.4,157.6 493.2,157.7 491.0,157.6 489.0,157.7 487.0,158.0 485.0,158.2 483.0,158.3 481.0,158.2 479.0,158.3 477.0,158.4 475.0,158.5 472.9,158.5 470.9,158.4 468.8,158.2 466.8,158.2 464.7,158.3 462.6,158.4 460.6,158.5 458.5,158.4 456.4,158.6 454.2,158.9 452.1,159.0 450.0,158.9 447.9,158.9 445.8,159.2 443.6,159.2 441.5,159.3 439.4,159.4 437.2,159.6 435.1,159.5 433.0,159.4 430.9,159.4 428.8,159.5 426.6,159.6 424.5,159.7 422.4,159.9 420.2,159.9 418.1,159.7 416.0,159.5" fill="#55A868" fill-opacity="0.18"/>
<polygon points="416.0,154.3 418.0,156.3 420.0,158.7 421.8,159.7 423.5,161.6 425.2,162.9 427.0,164.7 428.7,163.4 430.3,162.0 432.0,160.7 433.7,156.2 435.3,151.7 437.0,147.6 439.0,148.0 441.0,148.1 442.7,150.3 444.3,151.7 446.0,154.4 448.0,156.3 450.0,158.5 451.5,158.0 453.1,156.9 454.6,156.4 456.2,155.6 457.7,155.8 459.2,156.3 460.8,157.0 462.3,156.4 463.8,155.7 465.4,155.9 466.9,156.6 468.5,156.5 470.0,156.3 471.5,155.8 473.0,156.2 474.5,155.3 476.0,155.9 477.5,155.4 479.0,155.6 480.5,155.5 482.0,155.3 483.5,155.9 485.0,155.7 486.5,156.0 488.0,155.8 489.5,155.4 491.0,155.9 492.5,155.8 494.0,156.2 495.5,155.0 497.0,154.3 498.5,153.7 500.0,154.3 501.5,154.4 503.0,154.6 504.6,154.5 506.1,155.2 507.6,154.6 509.1,154.2 510.6,153.5 512.1,154.2 513.7,154.2 515.2,154.6 516.7,154.2 518.2,153.5 519.7,152.7 521.2,153.0 522.8,153.0 524.3,152.7 525.8,153.0 527.3,153.5 528.8,153.6 530.3,152.7 531.9,152.8 533.4,152.9 534.9,152.6 536.4,151.8 537.9,151.5 539.4,151.3 541.0,151.5 542.5,150.8 544.0,150.4 545.5,150.6 547.0,152.0 548.5,152.5 550.1,151.5 551.6,150.9 553.1,151.0 554.6,150.9 556.1,150.8 557.6,151.0 559.1,151.9 560.6,152.2 562.2,151.9 563.7,150.9 565.2,150.6 566.7,150.6 568.2,151.3 569.7,151.1 571.2,151.5 572.8,150.9 574.3,151.6 575.8,151.1 577.3,151.8 578.8,150.6 580.3,150.3 581.8,150.0 583.4,151.3 584.9,150.8 586.4,151.2 587.9,150.5 589.4,151.7 590.9,150.9 592.4,150.4 593.9,149.6 595.5,150.7 597.0,150.4 598.5,150.5 600.0,149.9 601.5,149.8 603.0,149.3 604.6,148.2 606.1,149.1 607.6,148.8 609.1,150.3 610.6,149.7 612.2,150.6 613.7,149.1 615.2,149.3 616.7,148.5 618.2,148.9 619.8,148.1 621.3,148.4 622.8,148.3 624.3,148.7 625.8,148.0 627.4,148.2 628.9,148.4 630.4,148.9 631.9,148.1 633.4,147.0 635.0,146.7 636.5,147.3 638.0,147.4 639.5,147.6 641.0,148.2 642.5,148.0 644.1,147.6 645.6,146.7 647.1,146.3 648.6,146.1 650.1,146.0 651.7,146.1 653.2,146.2 654.7,146.3 656.2,146.2 657.7,145.9 659.3,146.0 660.8,146.0 662.3,146.2 663.8,146.0 665.3,145.9 666.9,145.6 668.4,144.7 669.9,144.2 669.9,156.5 668.4,157.6 666.9,158.9 665.3,159.0 663.8,158.9 662.3,158.7 660.8,159.2 659.3,159.0 657.7,158.0 656.2,158.1 654.7,158.3 653.2,159.0 651.7,159.1 650.1,158.9 648.6,158.2 647.1,157.8 645.6,158.2 644.1,159.3 642.5,159.4 641.0,158.7 639.5,159.0 638.0,158.8 636.5,159.3 635.0,159.1 633.4,159.5 631.9,159.6 630.4,160.3 628.9,160.6 627.4,160.9 625.8,160.5 624.3,161.0 622.8,160.4 621.3,159.9 619.8,159.2 618.2,160.1 616.7,160.7 615.2,161.3 613.7,161.4 612.2,161.7 610.6,161.4 609.1,161.9 607.6,161.2 606.1,161.0 604.6,159.8 603.0,160.1 601.5,160.6 600.0,160.5 598.5,161.0 597.0,161.5 595.5,162.2 593.9,162.5 592.4,162.6 590.9,163.0 589.4,163.2 587.9,162.1 586.4,162.2 584.9,162.0 583.4,162.4 581.8,161.5 580.3,160.7 578.8,160.9 577.3,161.9 575.8,162.1 574.3,161.8 572.8,161.5 571.2,161.9 569.7,162.0 568.2,161.3 566.7,160.5 565.2,160.7 563.7,161.8 562.2,162.5 560.6,162.6 559.1,162.5 557.6,161.7 556.1,162.3 554.6,161.5 553.1,161.8 551.6,160.3 550.1,161.3 548.5,162.0 547.0,162.4 545.5,161.5 544.0,161.9 542.5,162.3 541.0,163.2 539.4,163.3 537.9,163.2 536.4,163.2 534.9,162.7 533.4,163.1 531.9,163.2 530.3,163.2 528.8,164.2 527.3,163.9 525.8,163.8 524.3,163.1 522.8,164.0 521.2,163.4 519.7,164.0 518.2,163.6 516.7,164.7 515.2,164.5 513.7,164.5 512.1,164.1 510.6,163.4 509.1,163.5 507.6,163.4 506.1,164.0 504.6,163.9 503.0,164.7 501.5,164.8 500.0,164.7 498.5,164.0 497.0,164.3 495.5,164.6 494.0,165.6 492.5,165.5 491.0,166.0 489.5,165.7 488.0,165.3 486.5,165.6 485.0,165.4 483.5,165.6 482.0,164.5 480.5,164.4 479.0,165.1 477.5,165.3 476.0,164.8 474.5,164.5 473.0,165.3 471.5,164.9 470.0,164.3 468.5,163.9 466.9,165.1 465.4,164.7 463.8,164.3 462.3,164.5 460.8,165.2 459.2,165.4 457.7,165.1 456.2,164.7 454.6,165.6 453.1,165.8 451.5,166.9 450.0,166.4 448.0,163.8 446.0,161.2 444.3,159.2 442.7,157.6 441.0,155.9 439.0,156.0 437.0,156.9 435.3,161.0 433.7,165.6 432.0,170.1 430.3,171.7 428.7,172.7 427.0,173.0 425.2,171.1 423.5,168.8 421.8,167.2 420.0,166.2 418.0,164.3 416.0,162.0" fill="#DA8BC3" fill-opacity="0.18"/>
<polygon points="416.0,122.0 416.1,124.2 416.2,126.8 416.3,129.4 416.4,130.0 416.6,131.1 416.7,132.6 416.8,135.0 416.9,136.3 417.0,138.4 417.1,140.8 417.2,142.4 417.3,143.7 417.4,145.0 417.6,147.1 417.7,148.5 417.8,150.8 417.9,153.2 418.0,155.7 419.8,159.4 421.5,161.7 423.2,163.6 425.0,167.0 426.6,166.8 428.2,167.3 429.8,167.2 431.4,167.4 432.9,167.9 434.5,167.1 436.1,167.7 437.7,168.8 439.3,170.5 440.8,171.3 442.4,171.1 443.9,171.3 445.4,172.0 447.0,172.9 448.5,172.2 450.0,172.5 451.5,173.3 453.1,173.8 454.6,174.3 456.2,174.8 457.7,176.8 459.3,178.2 460.9,178.4 462.4,178.6 464.0,178.2 465.5,175.3 467.0,172.3 468.5,169.9 470.0,167.5 471.5,163.9 473.0,160.4 474.7,160.3 476.4,159.4 478.2,159.3 479.9,157.3 481.6,157.1 483.3,157.2 485.0,157.4 486.8,158.3 488.5,158.4 490.2,159.8 491.9,156.9 493.7,154.5 495.4,152.0 497.2,150.1 498.9,148.2 500.8,146.7 502.7,146.3 504.6,146.0 506.3,146.8 508.0,146.5 509.8,147.2 511.5,148.4 513.2,150.8 515.1,149.3 517.1,147.1 519.0,145.1 520.7,145.8 522.4,146.4 524.2,146.2 525.9,146.8 527.6,147.8 529.3,145.8 531.0,142.9 532.8,140.8 534.5,139.7 536.2,138.4 537.8,139.5 539.3,140.6 540.9,142.0 542.4,142.2 544.0,142.9 545.8,141.8 547.6,142.5 549.4,141.6 551.2,141.2 553.1,140.2 555.0,138.6 556.9,137.9 558.7,138.2 560.5,139.7 562.3,139.4 564.1,140.3 565.9,138.9 567.7,139.3 569.5,138.1 571.3,138.2 573.1,136.3 574.9,135.4 576.7,132.9 578.5,130.9 580.3,132.3 582.1,134.1 583.9,135.3 585.7,135.7 587.4,136.0 589.1,135.7 590.9,136.2 592.6,134.8 594.3,134.6 596.1,135.2 597.9,136.3 599.7,135.8 601.5,135.2 603.4,135.7 605.3,136.9 607.2,138.2 609.1,135.6 611.1,134.1 613.0,131.2 614.9,133.2 616.8,134.6 618.7,137.5 620.6,135.9 622.6,134.1 624.5,131.6 626.2,130.6 627.9,129.6 629.7,128.3 631.4,126.6 633.1,125.0 634.8,126.4 636.5,128.0 638.3,129.5 640.0,131.2 641.7,133.0 643.6,133.4 645.6,133.6 647.5,134.0 649.4,130.5 651.3,127.4 653.2,123.6 655.4,121.1 657.5,119.6 659.4,122.8 661.4,125.2 663.3,127.4 664.9,125.4 666.6,125.3 668.2,124.6 669.9,123.8 669.9,138.6 668.2,140.3 666.6,141.2 664.9,142.4 663.3,143.4 661.4,140.4 659.4,137.1 657.5,134.4 655.4,137.2 653.2,139.2 651.3,142.0 649.4,145.0 647.5,149.3 645.6,149.5 643.6,148.9 641.7,148.4 640.0,146.0 638.3,144.7 636.5,143.2 634.8,141.6 633.1,139.5 631.4,141.1 629.7,143.1 627.9,144.9 626.2,146.0 624.5,147.2 622.6,148.8 620.6,150.9 618.7,153.5 616.8,151.5 614.9,149.0 613.0,146.8 611.1,149.7 609.1,151.7 607.2,153.7 605.3,152.4 603.4,151.2 601.5,149.6 599.7,149.3 597.9,149.3 596.1,148.9 594.3,148.3 592.6,148.8 590.9,150.1 589.1,150.7 587.4,150.3 585.7,149.1 583.9,147.0 582.1,146.1 580.3,145.0 578.5,143.9 576.7,146.4 574.9,148.2 573.1,150.5 571.3,151.7 569.5,152.3 567.7,152.2 565.9,152.6 564.1,153.1 562.3,152.4 560.5,151.4 558.7,150.5 556.9,149.6 555.0,150.4 553.1,151.8 551.2,152.9 549.4,153.0 547.6,153.0 545.8,153.1 544.0,155.0 542.4,154.5 540.9,154.7 539.3,153.6 537.8,152.6 536.2,150.9 534.5,152.5 532.8,154.7 531.0,156.5 529.3,158.2 527.6,159.8 525.9,160.1 524.2,158.8 522.4,158.9 520.7,158.1 519.0,157.4 517.1,159.0 515.1,160.6 513.2,163.0 511.5,161.8 509.8,160.4 508.0,158.7 506.3,158.2 504.6,157.6 502.7,158.7 500.8,159.2 498.9,159.7 497.2,161.7 495.4,163.9 493.7,166.8 491.9,169.3 490.2,170.3 488.5,168.5 486.8,168.4 485.0,169.2 483.3,169.5 481.6,168.4 479.9,168.4 478.2,169.8 476.4,170.8 474.7,172.3 473.0,172.8 471.5,175.1 470.0,177.9 468.5,181.3 467.0,184.2 465.5,187.1 464.0,189.7 462.4,190.2 460.9,189.4 459.3,187.7 457.7,186.1 456.2,185.7 454.6,185.3 453.1,185.7 451.5,184.9 450.0,185.1 448.5,184.6 447.0,183.7 445.4,183.3 443.9,182.4 442.4,183.1 440.8,183.0 439.3,181.7 437.7,180.5 436.1,179.3 434.5,179.2 432.9,178.4 431.4,178.0 429.8,177.6 428.2,177.5 426.6,176.5 425.0,177.0 423.2,178.2 421.5,179.0 419.8,178.5 418.0,180.8 417.9,180.1 417.8,178.6 417.7,176.8 417.6,175.3 417.4,174.1 417.3,172.3 417.2,171.1 417.1,171.0 417.0,170.2 416.9,168.2 416.8,166.4 416.7,165.1 416.6,164.6 416.4,163.8 416.3,161.7 416.2,160.6 416.1,158.7 416.0,158.0" fill="#937860" fill-opacity="0.18"/>
<polygon points="416.0,176.8 417.2,178.3 419.5,181.0 421.2,182.7 423.0,185.1 424.5,187.1 426.1,189.4 427.6,190.7 429.4,191.3 431.1,192.2 432.9,193.1 434.8,194.1 436.8,193.4 438.7,194.0 440.3,193.8 442.0,194.2 443.6,193.2 445.2,192.2 446.9,191.1 448.7,189.8 450.5,190.1 452.2,188.9 453.9,188.5 455.5,186.1 457.2,186.5 458.8,186.7 460.4,186.5 461.9,185.9 463.5,184.8 465.0,184.7 466.9,184.0 468.8,181.9 470.8,181.4 472.5,179.2 474.3,177.9 476.0,176.5 477.7,175.8 479.3,175.0 481.0,172.9 482.5,172.1 484.0,171.4 485.5,171.4 487.5,170.2 489.6,168.7 491.5,165.9 493.3,164.1 495.2,162.4 497.1,162.8 498.9,161.9 500.4,162.3 501.9,160.9 503.4,159.8 504.9,159.2 506.4,159.1 508.0,159.1 509.6,157.8 511.1,157.6 512.7,156.9 514.2,157.1 515.8,155.6 517.4,154.1 519.0,154.0 520.6,154.3 522.3,155.1 523.9,154.3 525.5,152.2 527.1,150.8 528.6,150.0 530.1,150.3 531.6,149.1 533.2,148.2 534.7,147.7 536.2,147.5 537.7,147.1 539.4,146.4 541.0,146.4 542.7,146.3 544.3,146.1 546.0,145.0 547.6,144.4 549.2,143.0 550.7,143.6 552.3,143.5 553.8,143.1 555.4,141.6 556.9,140.2 558.7,138.9 560.4,137.8 562.1,136.7 563.8,135.3 565.6,134.5 567.3,133.5 569.1,133.5 570.8,132.4 572.6,132.1 574.4,131.9 576.2,131.8 578.0,130.5 579.8,130.0 581.6,128.9 583.4,128.6 584.9,128.1 586.4,127.9 587.9,126.7 589.5,125.0 591.0,123.3 592.5,123.0 594.1,122.5 595.6,123.0 597.2,121.8 598.8,120.7 600.3,119.7 601.9,119.1 603.6,118.5 605.4,117.0 607.2,116.6 608.9,116.3 610.7,115.7 612.3,115.7 614.0,115.4 615.6,114.9 617.3,114.1 618.9,111.8 620.5,111.2 622.0,110.2 623.6,110.9 625.1,110.6 626.7,110.0 628.5,109.1 630.2,108.6 632.0,108.3 633.8,108.6 635.6,108.1 637.3,107.0 639.1,105.3 640.8,104.3 642.5,104.3 644.2,104.6 645.9,105.4 647.6,105.0 649.2,105.1 650.8,104.7 652.5,104.4 654.1,104.2 655.7,103.6 657.2,104.0 658.8,102.9 660.4,103.5 662.0,103.2 663.6,103.3 665.2,103.3 666.7,103.0 668.3,103.6 669.9,102.8 669.9,122.6 668.3,122.8 666.7,122.6 665.2,121.3 663.6,121.4 662.0,121.2 660.4,121.7 658.8,120.5 657.2,119.4 655.7,119.7 654.1,120.4 652.5,120.8 650.8,121.1 649.2,121.5 647.6,122.3 645.9,121.8 644.2,121.9 642.5,122.0 640.8,122.2 639.1,121.3 637.3,122.1 635.6,123.1 633.8,124.3 632.0,125.0 630.2,124.8 628.5,125.8 626.7,125.0 625.1,126.1 623.6,126.5 622.0,126.5 620.5,126.7 618.9,125.9 617.3,127.7 615.6,128.6 614.0,128.9 612.3,129.8 610.7,129.6 608.9,131.6 607.2,131.6 605.4,132.1 603.6,132.7 601.9,133.2 600.3,134.3 598.8,135.1 597.2,136.8 595.6,136.7 594.1,136.9 592.5,136.4 591.0,137.8 589.5,138.3 587.9,139.5 586.4,140.3 584.9,140.3 583.4,141.2 581.6,142.2 579.8,143.7 578.0,143.2 576.2,143.2 574.4,143.1 572.6,144.7 570.8,145.8 569.1,147.1 567.3,147.3 565.6,147.8 563.8,148.3 562.1,149.7 560.4,150.4 558.7,151.0 556.9,151.6 555.4,152.6 553.8,153.7 552.3,153.6 550.7,154.3 549.2,154.4 547.6,156.3 546.0,156.5 544.3,157.8 542.7,157.7 541.0,158.4 539.4,158.6 537.7,159.8 536.2,159.9 534.7,159.9 533.2,160.2 531.6,160.5 530.1,161.4 528.6,161.0 527.1,162.0 525.5,163.3 523.9,164.6 522.3,165.2 520.6,164.4 519.0,164.5 517.4,165.2 515.8,166.8 514.2,167.9 512.7,167.9 511.1,168.1 509.6,168.3 508.0,169.8 506.4,170.0 504.9,170.2 503.4,169.7 501.9,171.0 500.4,171.9 498.9,172.3 497.1,172.1 495.2,172.4 493.3,173.3 491.5,176.2 489.6,179.1 487.5,181.7 485.5,182.9 484.0,183.3 482.5,184.1 481.0,184.9 479.3,186.5 477.7,186.9 476.0,187.7 474.3,188.6 472.5,189.3 470.8,190.7 468.8,191.8 466.9,193.8 465.0,195.5 463.5,195.7 461.9,196.5 460.4,195.8 458.8,195.6 457.2,196.0 455.5,197.0 453.9,199.2 452.2,199.8 450.5,200.7 448.7,200.1 446.9,201.7 445.2,202.5 443.6,203.6 442.0,202.8 440.3,202.6 438.7,202.7 436.8,204.0 434.8,204.1 432.9,204.1 431.1,202.6 429.4,201.7 427.6,202.0 426.1,201.3 424.5,201.6 423.0,200.8 421.2,200.1 419.5,199.0 417.2,197.6 416.0,196.8" fill="#DD8452" fill-opacity="0.18"/>
<polygon points="416.0,144.3 417.7,144.3 419.4,143.7 421.0,143.7 422.7,143.4 424.4,143.7 426.0,144.5 427.7,145.0 429.4,145.8 431.1,146.4 432.8,146.9 434.4,146.9 436.1,147.6 437.8,147.7 439.5,148.1 441.2,147.9 442.9,147.9 444.5,148.3 446.2,147.9 447.9,148.7 449.6,148.3 451.3,148.8 453.0,148.3 454.7,147.8 456.4,147.6 458.1,147.0 459.8,147.1 461.5,146.3 463.2,145.9 464.8,145.6 466.5,145.8 468.2,145.6 469.9,145.0 471.5,144.2 473.2,143.8 474.8,143.0 476.5,142.7 478.1,142.1 479.8,141.9 481.4,141.0 483.0,140.5 484.6,139.6 486.2,139.2 488.0,138.8 489.7,138.2 491.4,137.7 493.1,137.2 494.9,136.6 496.7,135.2 498.5,134.5 500.3,133.0 501.8,133.1 503.3,133.0 504.8,133.5 506.3,133.4 507.8,132.7 509.4,131.7 511.0,130.2 512.6,128.9 514.2,129.0 515.8,129.2 517.5,129.2 519.2,128.3 521.0,127.1 522.7,126.9 524.2,126.6 525.7,127.2 527.2,127.0 528.7,127.3 530.4,126.5 532.1,126.3 533.8,125.8 535.8,126.6 537.8,126.6 539.7,126.9 541.5,127.0 543.2,128.2 544.9,129.2 547.8,129.9 550.2,130.1 552.2,129.6 554.2,129.7 556.0,128.9 557.8,128.6 559.6,127.7 561.3,126.9 563.0,126.6 564.7,126.4 566.4,126.2 568.1,124.5 569.7,123.5 571.4,122.0 573.0,121.8 574.7,121.5 576.5,121.4 578.2,120.2 580.0,119.8 581.8,119.0 583.6,119.1 585.2,118.2 586.8,117.4 588.4,116.4 589.9,115.9 591.5,116.4 593.1,116.0 594.8,115.2 596.5,115.0 598.2,114.7 599.9,114.5 601.6,113.4 603.3,112.5 604.8,111.8 606.3,110.7 607.9,110.2 609.4,110.4 611.0,110.5 612.5,110.4 614.0,109.3 615.5,108.8 617.1,109.0 618.6,109.4 620.1,109.7 621.6,110.0 623.1,109.1 624.6,109.3 626.3,107.9 628.1,108.7 629.8,107.8 631.5,108.2 633.2,107.0 635.0,106.0 636.6,106.1 638.3,106.6 640.0,107.1 641.7,106.8 643.4,106.0 645.1,106.6 646.7,105.5 648.4,105.9 650.0,104.9 651.7,105.1 653.4,105.5 655.0,105.8 656.9,106.1 658.7,105.6 660.6,105.4 662.5,104.9 664.1,104.4 665.8,104.2 667.4,104.1 669.9,103.9 669.9,111.3 667.4,111.7 665.8,111.6 664.1,111.2 662.5,111.2 660.6,112.1 658.7,112.7 656.9,113.2 655.0,112.7 653.4,112.5 651.7,112.5 650.0,112.4 648.4,112.4 646.7,112.5 645.1,113.4 643.4,113.1 641.7,113.3 640.0,113.4 638.3,113.6 636.6,113.5 635.0,113.4 633.2,114.1 631.5,114.6 629.8,114.4 628.1,114.9 626.3,114.9 624.6,116.2 623.1,115.9 621.6,116.1 620.1,115.7 618.6,116.3 617.1,116.0 615.5,116.3 614.0,116.5 612.5,118.0 611.0,118.3 609.4,118.4 607.9,117.8 606.3,118.2 604.8,119.2 603.3,120.1 601.6,121.2 599.9,121.2 598.2,121.3 596.5,120.7 594.8,121.0 593.1,121.7 591.5,122.5 589.9,123.1 588.4,123.8 586.8,124.7 585.2,124.9 583.6,125.4 581.8,125.8 580.0,126.0 578.2,126.3 576.5,126.6 574.7,127.4 573.0,127.8 571.4,129.3 569.7,130.8 568.1,131.7 566.4,132.6 564.7,132.7 563.0,133.3 561.3,133.8 559.6,134.5 557.8,135.0 556.0,135.4 554.2,136.2 552.2,136.8 550.2,137.1 547.8,136.4 544.9,135.9 543.2,134.7 541.5,134.2 539.7,134.0 537.8,134.0 535.8,133.7 533.8,133.3 532.1,133.4 530.4,133.5 528.7,134.1 527.2,134.2 525.7,134.6 524.2,133.9 522.7,134.2 521.0,134.4 519.2,135.2 517.5,135.8 515.8,136.0 514.2,135.9 512.6,135.9 511.0,136.9 509.4,138.5 507.8,139.4 506.3,139.5 504.8,139.7 503.3,139.8 501.8,140.2 500.3,139.6 498.5,140.9 496.7,142.3 494.9,143.6 493.1,144.5 491.4,145.1 489.7,146.1 488.0,146.4 486.2,146.4 484.6,146.9 483.0,147.4 481.4,148.4 479.8,148.6 478.1,149.1 476.5,149.9 474.8,150.0 473.2,151.1 471.5,150.9 469.9,152.0 468.2,152.0 466.5,152.8 464.8,152.6 463.2,152.9 461.5,153.4 459.8,154.2 458.1,154.0 456.4,154.4 454.7,154.6 453.0,155.7 451.3,155.6 449.6,155.6 447.9,155.3 446.2,155.1 444.5,155.5 442.9,155.0 441.2,155.2 439.5,154.6 437.8,154.6 436.1,154.3 434.4,154.1 432.8,153.7 431.1,153.1 429.4,152.9 427.7,152.9 426.0,152.9 424.4,151.7 422.7,151.2 421.0,150.9 419.4,151.2 417.7,151.5 416.0,151.5" fill="#4C72B0" fill-opacity="0.18"/>
<polygon points="416.0,189.0 417.6,189.4 419.1,188.8 420.6,189.2 422.2,189.4 423.8,190.9 425.3,191.1 426.9,190.8 428.4,191.2 430.0,190.8 431.6,191.4 433.3,190.5 435.0,191.0 436.6,190.8 438.3,190.3 440.0,189.6 441.7,188.2 443.2,188.1 444.8,186.5 446.4,186.1 447.9,185.0 449.5,184.8 451.1,184.1 452.6,183.3 454.2,182.2 455.8,180.5 457.3,179.6 458.8,178.7 460.4,179.0 461.9,177.6 463.5,176.9 465.0,175.5 466.6,175.4 468.1,175.0 469.6,174.3 471.1,173.7 472.6,172.4 474.2,171.6 475.7,169.6 477.2,168.1 478.7,166.5 480.4,165.3 482.1,164.9 483.8,164.1 485.5,162.8 487.0,160.5 488.5,158.5 490.0,155.6 491.5,153.2 493.0,150.0 494.5,148.3 496.3,146.0 498.1,143.2 500.3,139.5 502.5,135.0 504.6,130.5 506.7,126.8 508.8,123.2 510.9,119.8 513.0,114.8 515.2,109.3 517.4,103.1 519.5,97.0 521.1,93.8 522.7,91.1 524.3,88.4 526.1,86.0 527.8,83.9 529.6,80.5 531.1,79.4 532.6,76.8 534.2,75.4 536.1,73.1 538.0,71.9 539.7,70.1 541.4,68.7 544.1,65.0 546.0,63.3 547.8,62.3 549.3,61.3 550.8,60.3 552.3,58.1 553.8,57.7 555.4,56.3 556.9,55.7 558.4,53.4 559.9,53.8 561.4,53.2 563.0,53.0 564.5,51.8 566.0,50.4 567.5,48.7 569.1,47.0 570.6,46.0 572.1,45.7 573.6,44.0 575.2,42.5 576.7,40.9 578.2,40.6 579.7,39.5 581.8,38.9 583.8,37.7 585.6,36.7 587.5,35.4 589.1,34.2 590.7,34.4 593.4,34.5 595.2,34.8 597.1,33.7 598.6,33.3 600.1,33.0 601.6,33.1 603.1,32.9 604.7,32.2 606.2,32.0 607.7,31.3 609.3,31.7 610.8,31.9 612.8,32.0 614.8,31.9 616.5,29.7 618.3,28.5 621.2,25.9 623.6,24.7 625.3,23.6 627.0,22.6 628.8,22.5 630.3,21.6 631.9,20.6 633.5,20.1 635.1,19.0 636.7,18.6 638.3,18.6 639.9,18.3 641.5,18.1 643.1,17.2 644.8,17.5 646.5,17.9 648.2,18.0 649.8,19.1 651.4,19.7 653.0,20.8 654.6,19.9 656.1,18.7 657.7,18.3 659.3,17.9 660.9,17.8 662.5,16.7 664.1,17.9 665.8,18.2 667.4,19.0 669.9,19.2 669.9,31.2 667.4,30.5 665.8,29.6 664.1,28.3 662.5,27.9 660.9,28.8 659.3,29.3 657.7,29.2 656.1,29.2 654.6,29.6 653.0,30.5 651.4,29.7 649.8,30.3 648.2,29.3 646.5,29.7 644.8,29.1 643.1,28.9 641.5,29.0 639.9,28.3 638.3,28.8 636.7,29.6 635.1,30.5 633.5,31.1 631.9,31.3 630.3,32.1 628.8,33.6 627.0,34.2 625.3,34.7 623.6,35.1 621.2,36.4 618.3,39.0 616.5,40.8 614.8,43.0 612.8,43.8 610.8,43.4 609.3,43.1 607.7,42.6 606.2,42.9 604.7,43.5 603.1,44.2 601.6,44.7 600.1,43.8 598.6,44.0 597.1,44.4 595.2,45.6 593.4,45.8 590.7,46.5 589.1,46.7 587.5,47.3 585.6,48.1 583.8,48.5 581.8,49.9 579.7,50.6 578.2,51.7 576.7,51.9 575.2,53.4 573.6,55.4 572.1,57.0 570.6,57.3 569.1,57.8 567.5,59.1 566.0,60.7 564.5,62.1 563.0,63.3 561.4,63.8 559.9,65.0 558.4,65.0 556.9,66.5 555.4,66.4 553.8,67.6 552.3,68.1 550.8,70.5 549.3,71.6 547.8,73.1 546.0,74.1 544.1,75.5 541.4,79.6 539.7,81.2 538.0,83.2 536.1,84.0 534.2,86.4 532.6,88.5 531.1,91.1 529.6,91.5 527.8,94.4 526.1,96.3 524.3,98.8 522.7,101.8 521.1,104.5 519.5,108.7 517.4,114.2 515.2,120.9 513.0,125.9 510.9,130.4 508.8,134.1 506.7,137.8 504.6,142.2 502.5,146.1 500.3,150.1 498.1,153.7 496.3,157.5 494.5,160.4 493.0,161.8 491.5,164.2 490.0,166.4 488.5,169.8 487.0,171.5 485.5,173.7 483.8,175.1 482.1,176.6 480.4,177.5 478.7,178.4 477.2,179.9 475.7,181.3 474.2,183.2 472.6,184.2 471.1,184.9 469.6,185.6 468.1,185.4 466.6,186.8 465.0,187.0 463.5,189.5 461.9,189.8 460.4,191.1 458.8,190.6 457.3,191.4 455.8,192.0 454.2,193.3 452.6,193.7 451.1,194.2 449.5,195.2 447.9,195.7 446.4,197.6 444.8,197.9 443.2,200.1 441.7,199.3 440.0,200.5 438.3,200.6 436.6,201.0 435.0,201.4 433.3,201.6 431.6,203.1 430.0,202.6 428.4,201.6 426.9,201.0 425.3,201.1 423.8,201.4 422.2,200.0 420.6,199.8 419.1,199.6 417.6,200.2 416.0,199.9" fill="#C44E52" fill-opacity="0.18"/>
<polyline points="416.0,198.0 418.1,197.9 420.2,197.6 422.4,197.4 424.5,196.9 426.6,196.6 428.8,196.3 430.9,196.0 433.0,195.7 435.1,195.6 437.2,195.3 439.4,195.2 441.5,194.8 443.6,194.5 445.8,194.2 447.9,193.8 450.0,193.6 452.1,193.3 454.2,193.2 456.4,193.0 458.5,192.8 460.6,192.5 462.6,192.3 464.7,191.9 466.8,191.6 468.8,191.2 470.9,190.9 472.9,190.8 475.0,190.6 477.0,190.4 479.0,190.0 481.0,189.9 483.0,189.4 485.0,189.2 487.0,188.9 489.0,188.7 491.0,188.4 493.2,187.9 495.4,187.6 497.6,187.3 499.9,187.2 502.1,186.9 504.3,186.6 506.5,186.2 508.6,186.0 510.8,185.8 512.9,185.6 515.1,185.2 517.2,184.9 519.4,184.7 521.5,184.5 523.7,184.1 525.8,183.7 528.0,183.5 530.2,183.3 532.4,182.8 534.5,182.4 536.8,182.1 539.0,182.0 541.2,181.7 543.4,181.5 545.6,181.1 547.9,180.7 550.2,180.3 552.5,180.1 554.8,179.7 557.2,179.4 559.5,179.0 561.9,178.5 564.2,178.1 566.4,177.8 568.6,177.5 570.6,177.2 572.7,177.0 574.7,176.7 577.5,176.3 580.3,175.9 582.8,175.4 585.3,175.2 587.9,175.0 590.5,174.9 593.2,174.5 595.9,174.2 598.7,174.0 601.5,173.9 604.4,173.7 607.3,173.5 610.1,173.3 613.0,173.3 615.9,173.1 618.8,173.1 621.6,172.9 624.5,172.8 627.4,172.6 630.3,172.5 632.8,172.3 635.3,172.1 637.5,171.9 639.6,171.7 643.2,171.3 646.1,171.0 649.5,170.7 653.3,170.6 655.5,170.5 657.7,170.5 660.1,170.5 662.6,170.5 666.2,170.4 668.7,170.4 669.9,170.4" fill="none" stroke="#8C8C8C" stroke-width="1.30" stroke-linejoin="round"/>
<polyline points="416.0,168.9 418.1,168.8 420.2,168.8 422.4,168.7 424.5,168.8 426.6,168.9 428.8,169.1 430.9,169.3 433.0,169.4 435.1,169.3 437.2,169.4 439.4,169.6 441.5,169.8 443.6,169.9 445.8,169.9 447.9,170.0 450.0,170.1 452.1,170.1 454.2,170.2 456.4,170.2 458.5,170.3 460.6,170.3 462.6,170.4 464.7,170.4 466.8,170.5 468.8,170.6 470.9,170.6 472.9,170.7 475.0,170.8 477.0,170.9 479.0,171.0 481.0,171.1 483.0,171.2 485.0,171.2 487.0,171.3 489.0,171.4 491.0,171.5 493.2,171.6 495.4,171.7 497.6,171.7 499.9,171.8 502.1,172.0 504.3,172.0 506.5,172.0 508.6,172.0 510.8,172.1 512.9,172.3 515.1,172.3 517.2,172.4 519.4,172.4 521.5,172.6 523.6,172.7 525.7,172.7 527.9,172.7 530.0,172.8 532.1,172.8 534.2,172.9 536.4,172.9 538.5,173.0 540.6,173.0 542.7,173.0 544.8,172.9 547.0,173.0 549.1,173.0 551.2,173.1 553.3,173.1 555.4,173.3 557.5,173.3 559.6,173.3 561.7,173.2 563.9,173.2 566.0,173.3 568.1,173.4 570.2,173.4 572.3,173.4 574.4,173.4 576.5,173.5 578.6,173.5 580.7,173.4 582.8,173.5 584.9,173.6 587.0,173.6 589.1,173.6 591.2,173.5 593.3,173.5 595.4,173.5 597.5,173.7 599.6,173.7 601.7,173.6 603.8,173.5 605.9,173.4 608.0,173.5 610.1,173.5 612.2,173.5 614.3,173.5 616.4,173.6 618.5,173.6 620.6,173.6 622.7,173.7 624.8,173.8 627.0,173.6 629.1,173.7 631.3,173.6 633.4,173.8 635.6,173.8 637.7,173.9 639.9,174.0 642.0,173.8 644.1,173.7 646.3,173.7 648.5,173.7 650.8,173.8 653.0,173.8 655.3,173.8 657.5,173.7 659.8,173.7 662.0,173.8 664.7,173.9 667.3,174.0 669.9,173.9" fill="none" stroke="#8172B3" stroke-width="1.30" stroke-linejoin="round"/>
<polyline points="416.0,158.0 418.1,158.2 420.2,158.3 422.4,158.2 424.5,158.2 426.6,158.1 428.8,158.0 430.9,157.8 433.0,157.8 435.1,157.8 437.2,157.9 439.4,157.7 441.5,157.7 443.6,157.5 445.8,157.7 447.9,157.4 450.0,157.4 452.1,157.3 454.2,157.3 456.4,157.3 458.5,157.1 460.6,157.0 462.6,156.8 464.7,156.8 466.8,156.8 468.8,156.9 470.9,157.0 472.9,157.0 475.0,156.8 477.0,156.8 479.0,156.7 481.0,156.8 483.0,156.8 485.0,156.7 487.0,156.6 489.0,156.3 491.0,156.2 493.2,156.3 495.4,156.3 497.6,156.2 499.9,156.2 502.1,156.2 504.3,156.0 506.5,155.9 508.6,155.6 510.8,155.6 512.9,155.6 515.1,155.7 517.2,155.8 519.4,155.6 521.5,155.5 523.6,155.4 525.7,155.3 527.9,155.4 530.0,155.5 532.1,155.4 534.2,155.2 536.4,155.0 538.5,155.1 540.6,155.1 542.7,155.2 544.8,155.2 547.0,155.1 549.1,155.0 551.2,154.8 553.3,155.0 555.4,154.8 557.5,154.8 559.6,154.8 561.7,154.8 563.9,154.8 566.0,154.7 568.1,154.7 570.2,154.9 572.3,154.7 574.4,154.7 576.5,154.7 578.6,154.6 580.7,154.7 582.8,154.5 584.9,154.6 587.0,154.3 589.1,154.4 591.2,154.1 593.3,154.1 595.4,154.2 597.5,154.3 599.6,154.4 601.7,154.2 603.8,154.1 605.9,153.9 608.0,154.0 610.1,154.1 612.2,154.1 614.3,154.1 616.4,154.1 618.5,154.1 620.6,154.2 622.7,153.9 624.8,153.8 627.0,153.7 629.1,153.9 631.3,153.8 633.4,153.8 635.6,153.7 637.7,153.7 639.9,153.6 642.0,153.6 644.1,153.7 646.3,153.7 648.5,153.6 650.8,153.6 653.0,153.4 655.3,153.5 657.5,153.4 659.8,153.5 662.0,153.4 664.7,153.3 667.3,153.4 669.9,153.5" fill="none" stroke="#55A868" stroke-width="1.30" stroke-linejoin="round"/>
<polyline points="416.0,157.6 418.0,159.8 420.0,162.1 421.8,163.8 423.5,165.2 425.2,167.0 427.0,168.2 428.7,167.6 430.3,166.4 432.0,165.5 433.7,160.9 435.3,156.6 437.0,152.4 439.0,152.2 441.0,151.8 442.7,153.6 444.3,155.2 446.0,157.7 448.0,159.6 450.0,161.9 451.5,161.9 453.1,161.6 454.6,161.4 456.2,160.9 457.7,161.2 459.2,161.2 460.8,161.0 462.3,160.3 463.8,159.7 465.4,160.1 466.9,160.3 468.5,160.1 470.0,160.3 471.5,160.6 473.0,160.9 474.5,160.3 476.0,160.3 477.5,160.3 479.0,160.3 480.5,159.9 482.0,159.9 483.5,160.5 485.0,160.6 486.5,160.6 488.0,160.1 489.5,159.8 491.0,160.0 492.5,160.2 494.0,160.0 495.5,159.7 497.0,159.5 498.5,159.6 500.0,159.4 501.5,159.7 503.0,159.9 504.6,160.0 506.1,159.8 507.6,159.3 509.1,159.2 510.6,158.8 512.1,159.0 513.7,158.6 515.2,159.0 516.7,159.1 518.2,158.9 519.7,158.7 521.2,158.6 522.8,158.7 524.3,158.2 525.8,158.3 527.3,158.3 528.8,158.1 530.3,157.5 531.9,157.7 533.4,157.7 534.9,157.7 536.4,157.4 537.9,157.8 539.4,157.9 541.0,157.8 542.5,157.0 544.0,156.5 545.5,156.7 547.0,157.2 548.5,157.2 550.1,156.4 551.6,155.9 553.1,156.6 554.6,156.7 556.1,157.0 557.6,157.0 559.1,157.3 560.6,157.5 562.2,156.9 563.7,156.5 565.2,155.8 566.7,156.1 568.2,156.1 569.7,156.8 571.2,156.7 572.8,156.8 574.3,156.6 575.8,156.2 577.3,156.4 578.8,155.8 580.3,156.3 581.8,156.6 583.4,157.2 584.9,156.5 586.4,156.5 587.9,156.1 589.4,156.8 590.9,156.5 592.4,156.5 593.9,156.3 595.5,156.5 597.0,156.0 598.5,155.6 600.0,155.3 601.5,155.4 603.0,155.6 604.6,155.1 606.1,155.3 607.6,154.9 609.1,155.5 610.6,155.4 612.2,155.7 613.7,155.0 615.2,154.8 616.7,154.5 618.2,154.7 619.8,154.1 621.3,154.6 622.8,154.6 624.3,154.7 625.8,153.9 627.4,154.0 628.9,154.3 630.4,154.8 631.9,154.2 633.4,153.7 635.0,153.2 636.5,153.6 638.0,153.3 639.5,153.5 641.0,153.5 642.5,153.9 644.1,153.4 645.6,152.5 647.1,151.9 648.6,152.4 650.1,152.7 651.7,152.9 653.2,152.6 654.7,152.4 656.2,152.4 657.7,152.4 659.3,152.7 660.8,152.7 662.3,152.7 663.8,152.6 665.3,152.6 666.9,152.5 668.4,151.7 669.9,150.9" fill="none" stroke="#DA8BC3" stroke-width="1.30" stroke-linejoin="round"/>
<polyline points="416.0,140.4 416.1,141.6 416.2,143.2 416.3,145.2 416.4,146.6 416.6,148.0 416.7,149.2 416.8,151.1 416.9,152.6 417.0,154.0 417.1,155.3 417.2,156.5 417.3,158.1 417.4,159.6 417.6,161.1 417.7,162.7 417.8,164.5 417.9,166.0 418.0,167.7 419.8,169.1 421.5,170.4 423.2,171.3 425.0,172.1 426.6,172.4 428.2,172.6 429.8,172.8 431.4,172.9 432.9,173.6 434.5,173.8 436.1,174.4 437.7,174.9 439.3,175.7 440.8,176.5 442.4,176.7 443.9,177.1 445.4,177.5 447.0,178.2 448.5,178.4 450.0,178.9 451.5,178.9 453.1,179.4 454.6,179.9 456.2,180.7 457.7,181.7 459.3,182.3 460.9,182.9 462.4,183.0 464.0,183.0 465.5,180.3 467.0,178.0 468.5,175.5 470.0,172.5 471.5,169.4 473.0,166.7 474.7,166.2 476.4,165.4 478.2,164.5 479.9,163.4 481.6,163.0 483.3,163.8 485.0,163.9 486.8,163.8 488.5,164.1 490.2,165.0 491.9,163.0 493.7,160.6 495.4,158.3 497.2,156.4 498.9,154.4 500.8,153.4 502.7,152.4 504.6,151.2 506.3,151.8 508.0,152.6 509.8,153.5 511.5,154.7 513.2,155.9 515.1,154.2 517.1,152.4 519.0,150.5 520.7,151.4 522.4,152.1 524.2,152.6 525.9,153.8 527.6,154.7 529.3,152.6 531.0,150.1 532.8,148.2 534.5,146.4 536.2,144.8 537.8,145.3 539.3,146.5 540.9,147.4 542.4,148.2 544.0,148.9 545.8,147.8 547.6,147.4 549.4,146.9 551.2,146.5 553.1,145.8 555.0,144.8 556.9,144.3 558.7,145.2 560.5,145.9 562.3,146.3 564.1,147.0 565.9,146.3 567.7,145.9 569.5,145.0 571.3,144.4 573.1,142.4 574.9,140.8 576.7,139.3 578.5,137.3 580.3,138.8 582.1,139.9 583.9,141.5 585.7,142.9 587.4,142.9 589.1,142.8 590.9,142.7 592.6,142.1 594.3,141.6 596.1,141.8 597.9,142.2 599.7,142.5 601.5,142.5 603.4,143.8 605.3,145.2 607.2,146.5 609.1,144.3 611.1,141.8 613.0,139.2 614.9,141.1 616.8,143.5 618.7,145.7 620.6,144.0 622.6,141.6 624.5,139.7 626.2,137.9 627.9,136.2 629.7,135.1 631.4,133.6 633.1,132.1 634.8,133.3 636.5,134.6 638.3,136.3 640.0,138.2 641.7,140.1 643.6,140.8 645.6,141.3 647.5,142.0 649.4,138.3 651.3,134.6 653.2,131.0 655.4,129.1 657.5,127.0 659.4,130.1 661.4,132.8 663.3,135.7 664.9,134.2 666.6,133.1 668.2,131.9 669.9,130.7" fill="none" stroke="#937860" stroke-width="1.30" stroke-linejoin="round"/>
<polyline points="416.0,186.9 417.2,187.5 419.5,188.9 421.2,190.2 423.0,191.9 424.5,193.7 426.1,195.0 427.6,196.1 429.4,196.5 431.1,197.4 432.9,198.7 434.8,199.1 436.8,199.2 438.7,198.8 440.3,198.8 442.0,198.4 443.6,198.4 445.2,197.3 446.9,196.6 448.7,195.3 450.5,195.3 452.2,194.5 453.9,193.9 455.5,192.4 457.2,191.8 458.8,191.6 460.4,191.4 461.9,191.3 463.5,190.8 465.0,189.8 466.9,188.8 468.8,186.8 470.8,186.2 472.5,184.6 474.3,183.6 476.0,182.4 477.7,181.7 479.3,180.9 481.0,179.2 482.5,178.1 484.0,177.5 485.5,177.0 487.5,175.6 489.6,173.4 491.5,171.4 493.3,169.1 495.2,168.1 497.1,167.7 498.9,167.2 500.4,166.7 501.9,165.5 503.4,164.4 504.9,164.3 506.4,164.1 508.0,164.4 509.6,163.6 511.1,163.3 512.7,162.2 514.2,161.7 515.8,160.4 517.4,159.7 519.0,159.8 520.6,160.0 522.3,160.0 523.9,158.7 525.5,157.4 527.1,156.3 528.6,155.9 530.1,156.0 531.6,155.4 533.2,155.0 534.7,154.5 536.2,153.9 537.7,153.3 539.4,152.8 541.0,152.7 542.7,152.1 544.3,151.5 546.0,150.9 547.6,150.2 549.2,149.0 550.7,148.7 552.3,148.6 553.8,148.5 555.4,147.4 556.9,146.1 558.7,144.5 560.4,143.6 562.1,143.3 563.8,142.3 565.6,141.9 567.3,141.2 569.1,140.9 570.8,139.3 572.6,138.6 574.4,137.6 576.2,137.5 578.0,136.5 579.8,136.0 581.6,134.9 583.4,134.5 584.9,134.1 586.4,134.0 587.9,133.0 589.5,131.7 591.0,130.4 592.5,129.4 594.1,129.4 595.6,129.1 597.2,129.0 598.8,128.2 600.3,127.8 601.9,127.0 603.6,125.8 605.4,124.9 607.2,123.8 608.9,123.4 610.7,122.1 612.3,122.2 614.0,121.5 615.6,121.0 617.3,120.5 618.9,119.5 620.5,119.7 622.0,119.1 623.6,118.7 625.1,118.0 626.7,117.4 628.5,117.7 630.2,117.1 632.0,116.5 633.8,116.0 635.6,115.2 637.3,115.2 639.1,114.0 640.8,113.8 642.5,112.9 644.2,113.4 645.9,113.3 647.6,113.6 649.2,112.8 650.8,112.9 652.5,112.7 654.1,112.4 655.7,112.0 657.2,112.0 658.8,112.0 660.4,112.1 662.0,111.6 663.6,111.7 665.2,111.8 666.7,112.4 668.3,112.9 669.9,112.9" fill="none" stroke="#DD8452" stroke-width="1.30" stroke-linejoin="round"/>
<polyline points="416.0,147.3 417.7,147.7 419.4,147.8 421.0,147.8 422.7,147.9 424.4,148.2 426.0,148.7 427.7,149.0 429.4,149.5 431.1,150.1 432.8,150.4 434.4,150.4 436.1,150.6 437.8,151.1 439.5,151.4 441.2,151.7 442.9,151.5 444.5,151.7 446.2,151.4 447.9,151.8 449.6,151.9 451.3,152.2 453.0,151.9 454.7,151.3 456.4,151.2 458.1,150.9 459.8,150.8 461.5,149.9 463.2,149.4 464.8,149.4 466.5,149.5 468.2,149.1 469.9,148.7 471.5,147.7 473.2,147.3 474.8,146.4 476.5,146.0 478.1,145.4 479.8,145.2 481.4,144.9 483.0,144.2 484.6,143.1 486.2,142.5 488.0,142.3 489.7,142.0 491.4,141.3 493.1,140.7 494.9,139.7 496.7,138.6 498.5,137.6 500.3,136.8 501.8,137.1 503.3,136.7 504.8,136.7 506.3,136.2 507.8,136.0 509.4,135.1 511.0,134.0 512.6,132.9 514.2,132.9 515.8,132.7 517.5,132.6 519.2,131.8 521.0,130.9 522.7,130.5 524.2,130.6 525.7,130.9 527.2,130.9 528.7,130.9 530.4,130.4 532.1,130.0 533.8,129.5 535.8,130.3 537.8,130.5 539.7,130.7 541.5,130.4 543.2,131.4 544.9,132.3 547.8,133.0 550.2,133.5 552.2,133.3 554.2,133.2 556.0,132.1 557.8,131.6 559.6,131.0 561.3,130.4 563.0,129.9 564.7,129.3 566.4,128.9 568.1,128.0 569.7,127.1 571.4,126.1 573.0,125.2 574.7,124.7 576.5,124.0 578.2,123.3 580.0,123.0 581.8,122.7 583.6,122.3 585.2,121.7 586.8,121.1 588.4,120.0 589.9,119.5 591.5,119.4 593.1,119.1 594.8,118.3 596.5,118.0 598.2,118.1 599.9,117.7 601.6,117.0 603.3,116.2 604.8,115.9 606.3,115.1 607.9,114.5 609.4,114.4 611.0,114.6 612.5,114.4 614.0,113.6 615.5,112.9 617.1,112.5 618.6,112.4 620.1,112.3 621.6,112.5 623.1,112.0 624.6,112.2 626.3,111.4 628.1,111.8 629.8,110.9 631.5,110.9 633.2,110.3 635.0,109.8 636.6,109.8 638.3,110.0 640.0,110.1 641.7,109.9 643.4,109.4 645.1,109.9 646.7,109.2 648.4,109.0 650.0,108.3 651.7,108.7 653.4,108.9 655.0,109.4 656.9,109.2 658.7,108.8 660.6,108.7 662.5,108.2 664.1,108.0 665.8,107.9 667.4,108.1 669.9,108.1" fill="none" stroke="#4C72B0" stroke-width="1.30" stroke-linejoin="round"/>
<polyline points="416.0,194.6 417.6,194.9 419.1,194.5 420.6,194.5 422.2,194.4 423.8,195.4 425.3,195.6 426.9,195.6 428.4,196.0 430.0,196.2 431.6,196.6 433.3,195.8 435.0,195.8 436.6,195.4 438.3,194.8 440.0,194.6 441.7,193.4 443.2,193.6 444.8,191.9 446.4,191.9 447.9,190.5 449.5,189.9 451.1,188.7 452.6,188.1 454.2,187.6 455.8,186.5 457.3,185.7 458.8,184.7 460.4,184.8 461.9,183.8 463.5,183.1 465.0,181.4 466.6,181.3 468.1,180.3 469.6,179.9 471.1,178.8 472.6,178.0 474.2,177.2 475.7,175.6 477.2,174.3 478.7,172.5 480.4,171.4 482.1,171.0 483.8,169.8 485.5,168.5 487.0,166.2 488.5,164.1 490.0,161.4 491.5,158.8 493.0,156.4 494.5,154.7 496.3,152.1 498.1,148.8 500.3,144.8 502.5,140.6 504.6,136.4 506.7,132.3 508.8,128.6 510.9,124.5 513.0,119.7 515.2,114.4 517.4,108.3 519.5,103.0 521.1,99.3 522.7,96.5 524.3,93.3 526.1,91.0 527.8,88.9 529.6,86.0 531.1,84.9 532.6,82.8 534.2,81.2 536.1,79.2 538.0,77.5 539.7,75.6 541.4,73.7 544.1,70.1 546.0,68.3 547.8,67.3 549.3,66.1 550.8,65.2 552.3,63.4 553.8,62.9 555.4,61.7 556.9,61.3 558.4,59.5 559.9,59.6 561.4,58.3 563.0,57.8 564.5,56.7 566.0,55.2 567.5,53.4 569.1,52.0 570.6,51.3 572.1,51.1 573.6,49.5 575.2,48.3 576.7,46.8 578.2,46.0 579.7,44.9 581.8,44.2 583.8,42.9 585.6,42.0 587.5,41.2 589.1,40.3 590.7,40.4 593.4,39.8 595.2,39.6 597.1,38.4 598.6,38.1 600.1,38.1 601.6,38.6 603.1,38.2 604.7,37.8 606.2,37.8 607.7,37.5 609.3,38.1 610.8,37.9 612.8,38.0 614.8,37.1 616.5,35.0 618.3,33.4 621.2,30.9 623.6,29.5 625.3,29.1 627.0,28.4 628.8,28.4 630.3,27.3 631.9,26.1 633.5,25.6 635.1,24.5 636.7,24.2 638.3,23.7 639.9,23.5 641.5,23.6 643.1,23.5 644.8,23.9 646.5,24.6 648.2,24.3 649.8,24.8 651.4,24.8 653.0,25.5 654.6,24.5 656.1,23.5 657.7,23.3 659.3,23.6 660.9,23.8 662.5,23.0 664.1,23.6 665.8,24.2 667.4,24.8 669.9,25.0" fill="none" stroke="#C44E52" stroke-width="1.30" stroke-linejoin="round"/>
</g>
<g>
<text x="416.0" y="224.6" text-anchor="middle" fill="#4a4a4a" font-family="Liberation Serif, serif" font-size="11.5">0</text>
<text x="479.8" y="224.6" text-anchor="middle" fill="#4a4a4a" font-family="Liberation Serif, serif" font-size="11.5">50000</text>
<text x="543.5" y="224.6" text-anchor="middle" fill="#4a4a4a" font-family="Liberation Serif, serif" font-size="11.5">100000</text>
<text x="607.2" y="224.6" text-anchor="middle" fill="#4a4a4a" font-family="Liberation Serif, serif" font-size="11.5">150000</text>
<text x="671.0" y="224.6" text-anchor="middle" fill="#4a4a4a" font-family="Liberation Serif, serif" font-size="11.5">200000</text>
</g>
<text x="395.5" y="198.4" text-anchor="end" fill="#4a4a4a" font-family="Liberation Serif, serif" font-size="11.5">0</text>
<text x="395.5" y="161.9" text-anchor="end" fill="#4a4a4a" font-family="Liberation Serif, serif" font-size="11.5">500</text>
<text x="395.5" y="125.5" text-anchor="end" fill="#4a4a4a" font-family="Liberation Serif, serif" font-size="11.5">1000</text>
<text x="395.5" y="89.0" text-anchor="end" fill="#4a4a4a" font-family="Liberation Serif, serif" font-size="11.5">1500</text>
<text x="395.5" y="52.5" text-anchor="end" fill="#4a4a4a" font-family="Liberation Serif, serif" font-size="11.5">2000</text>
<text x="395.5" y="15.9" text-anchor="end" fill="#4a4a4a" font-family="Liberation Serif, serif" font-size="11.5">2500</text>
<text x="543.6" y="238.9" text-anchor="middle" fill="#262626" font-family="Liberation Sans, sans-serif" font-size="11.2">timesteps</text>
<text transform="translate(364.6,107.0) rotate(-90)" text-anchor="middle" fill="#262626" font-family="Liberation Sans, sans-serif" font-size="11.2" y="4">reward</text>
<rect x="728.8" y="1.0" width="287.0" height="208.3" fill="#EAEAF2"/>
<g clip-path="url(#clipc)">
<line x1="742.2" y1="1.0" x2="742.2" y2="209.3" stroke="#fff" stroke-width="1.3"/>
<line x1="794.5" y1="1.0" x2="794.5" y2="209.3" stroke="#fff" stroke-width="1.3"/>
<line x1="846.7" y1="1.0" x2="846.7" y2="209.3" stroke="#fff" stroke-width="1.3"/>
<line x1="899.0" y1="1.0" x2="899.0" y2="209.3" stroke="#fff" stroke-width="1.3"/>
<line x1="951.2" y1="1.0" x2="951.2" y2="209.3" stroke="#fff" stroke-width="1.3"/>
<line x1="1003.5" y1="1.0" x2="1003.5" y2="209.3" stroke="#fff" stroke-width="1.3"/>
<line x1="728.8" y1="190.4" x2="1015.8" y2="190.4" stroke="#fff" stroke-width="1.3"/>
<line x1="728.8" y1="138.5" x2="1015.8" y2="138.5" stroke="#fff" stroke-width="1.3"/>
<line x1="728.8" y1="86.5" x2="1015.8" y2="86.5" stroke="#fff" stroke-width="1.3"/>
<line x1="728.8" y1="34.6" x2="1015.8" y2="34.6" stroke="#fff" stroke-width="1.3"/>
<polygon points="742.2,185.6 744.3,183.9 746.3,182.1 748.4,181.2 750.4,180.0 752.5,179.0 754.5,177.0 756.6,175.9 758.7,174.3 760.7,173.1 762.8,171.1 764.8,169.6 766.9,167.6 768.9,166.7 771.0,165.3 773.1,164.6 775.1,163.2 777.2,161.6 779.3,160.3 781.4,158.8 783.4,158.5 785.5,157.1 787.6,156.2 789.6,155.2 791.7,154.9 793.8,154.1 795.9,152.4 797.9,150.8 800.0,149.7 802.0,148.6 804.0,148.0 806.0,146.6 808.0,145.9 810.0,144.7 812.0,144.0 814.0,143.2 816.0,141.9 818.0,141.0 820.0,138.9 822.0,138.3 824.0,136.2 826.0,135.7 828.0,134.1 830.0,133.7 832.0,132.4 834.0,131.1 836.0,130.0 838.0,129.1 840.0,128.6 842.0,126.7 844.1,124.7 846.1,123.1 848.1,121.3 850.2,120.2 852.2,117.9 854.2,116.3 856.3,115.0 858.3,114.2 860.3,113.0 862.4,111.2 864.4,109.6 866.4,108.1 868.5,106.3 870.5,104.6 872.5,103.0 874.6,101.9 876.6,100.0 878.6,97.9 880.7,95.8 882.7,93.9 884.7,92.1 886.8,90.7 888.8,89.4 890.8,87.5 892.9,85.7 894.9,83.4 897.0,84.2 899.0,83.7 901.1,83.9 903.2,83.5 905.2,84.1 907.3,84.4 909.4,85.2 911.5,85.8 913.5,86.0 915.6,86.0 917.7,85.9 919.7,86.3 921.8,86.0 923.9,86.4 925.9,87.0 928.0,86.9 930.1,86.4 932.2,86.0 934.2,86.3 936.3,86.6 938.4,87.3 940.4,87.3 942.5,87.9 944.5,86.7 946.5,86.2 948.5,85.7 950.5,85.1 952.5,84.7 954.6,83.4 956.6,82.9 958.6,82.3 960.6,81.8 962.6,81.1 964.6,81.1 966.6,80.8 968.6,80.3 970.6,79.7 972.6,79.5 974.7,79.3 976.7,78.6 978.7,78.2 980.7,77.7 982.7,77.4 984.7,76.4 986.7,75.4 988.7,74.4 990.7,74.2 992.8,74.0 994.8,73.4 996.8,72.9 998.8,72.6 1000.8,72.0 1002.8,70.6 1002.8,97.1 1000.8,97.7 998.7,98.6 996.7,98.8 994.6,100.1 992.6,101.0 990.6,101.9 988.5,102.9 986.5,104.5 984.5,106.0 982.4,107.4 980.4,108.3 978.3,109.3 976.3,110.5 974.3,111.1 972.2,111.8 970.2,112.4 968.2,113.4 966.1,115.0 964.1,115.9 962.0,117.3 960.0,117.9 958.0,118.8 955.9,119.3 953.9,120.1 951.9,121.5 949.8,121.9 947.8,122.9 945.8,123.9 943.7,125.7 941.7,125.9 939.6,126.8 937.6,126.8 935.6,127.9 933.5,127.8 931.5,129.5 929.5,128.0 927.4,126.7 925.4,125.0 923.4,123.8 921.3,123.1 919.3,121.3 917.3,119.4 915.2,117.8 913.2,117.2 911.2,119.0 909.1,120.1 907.1,121.2 905.1,123.9 903.0,125.7 901.0,127.5 899.0,129.3 896.9,131.7 894.9,133.6 892.9,135.6 890.8,136.8 888.8,138.8 886.8,140.5 884.7,143.0 882.7,144.3 880.7,146.4 878.6,148.5 876.6,151.2 874.6,152.5 872.5,154.1 870.5,155.8 868.5,157.3 866.4,158.9 864.4,160.0 862.4,162.3 860.3,163.9 858.3,166.6 856.3,168.3 854.2,170.7 852.2,172.1 850.2,174.4 848.1,175.5 846.1,177.7 844.1,179.0 842.0,181.5 840.0,182.9 838.0,183.3 836.0,183.5 834.0,183.4 832.0,183.7 830.0,183.2 828.0,183.8 826.0,183.7 824.0,184.4 822.0,184.8 820.0,184.2 818.0,184.5 816.0,184.3 814.0,184.5 812.0,184.5 810.0,185.1 808.0,185.3 806.0,185.5 804.0,185.0 802.0,185.1 800.0,185.2 797.9,185.6 795.9,186.4 793.8,186.0 791.7,186.0 789.6,186.5 787.6,187.3 785.5,187.6 783.4,187.9 781.4,187.8 779.3,188.6 777.2,188.3 775.1,188.6 773.1,188.7 771.0,188.9 768.9,190.0 766.9,190.3 764.8,191.7 762.8,191.8 760.7,192.7 758.7,192.3 756.6,193.0 754.5,193.3 752.5,193.9 750.4,194.5 748.4,194.9 746.3,195.3 744.3,195.5 742.2,196.1" fill="#DA8BC3" fill-opacity="0.18"/>
<polygon points="742.2,168.0 744.2,167.0 746.2,166.1 748.3,164.9 750.3,164.1 752.3,163.3 754.4,162.3 756.4,161.4 758.4,160.1 760.4,159.3 762.5,158.1 764.5,157.4 766.5,156.0 768.5,154.9 770.5,153.6 772.6,152.9 774.6,151.9 776.6,151.2 778.6,150.0 780.7,149.1 782.7,147.8 784.7,146.7 786.8,145.6 788.8,144.8 790.8,144.0 792.8,142.9 794.9,141.9 796.9,140.8 798.9,139.8 801.0,137.8 803.0,135.9 805.1,134.5 807.1,132.8 809.2,131.1 811.2,129.0 813.3,127.1 815.3,125.2 817.4,123.5 819.5,122.0 821.5,120.4 823.6,118.8 825.6,117.1 827.7,115.2 829.7,113.1 831.8,110.8 833.8,108.8 835.9,107.0 837.9,105.5 840.0,104.1 842.0,102.5 844.1,100.7 846.1,98.7 848.1,97.2 850.2,95.6 852.2,93.9 854.2,91.7 856.3,90.1 858.3,88.3 860.3,87.0 862.4,84.8 864.4,83.3 866.4,81.3 868.5,80.0 870.5,78.1 872.5,76.2 874.6,74.1 876.6,72.7 878.6,72.4 880.7,72.0 882.7,71.2 884.7,70.1 886.8,69.2 888.8,68.2 890.8,67.8 892.9,67.0 894.9,66.6 896.9,65.5 899.0,64.9 901.0,64.1 903.0,63.7 905.1,63.0 907.1,62.1 909.1,61.3 911.2,60.8 913.2,60.3 915.2,59.6 917.3,59.3 919.3,58.7 921.3,58.3 923.4,57.6 925.4,57.4 927.4,57.1 929.5,56.9 931.5,56.6 933.5,56.4 935.6,56.0 937.6,55.2 939.6,54.7 941.7,54.1 943.7,53.8 945.7,53.1 947.8,53.0 949.8,52.8 951.8,52.5 953.9,52.0 955.9,51.7 958.0,51.7 960.0,51.3 962.0,50.9 964.1,50.6 966.1,50.4 968.1,49.8 970.2,49.4 972.2,49.1 974.3,48.7 976.3,48.1 978.3,47.9 980.4,47.5 982.4,47.3 984.5,47.1 986.5,47.0 988.5,46.7 990.6,46.5 992.6,45.9 994.6,45.5 996.7,45.3 998.7,45.4 1000.8,45.4 1002.8,45.0 1002.8,92.7 1000.8,93.4 998.7,93.8 996.7,94.1 994.6,94.4 992.6,95.0 990.6,95.6 988.5,96.6 986.5,97.6 984.5,98.8 982.4,99.5 980.4,100.0 978.3,100.5 976.3,100.9 974.3,101.6 972.2,102.3 970.2,103.3 968.1,104.2 966.1,104.6 964.1,105.1 962.0,105.5 960.0,106.3 958.0,107.0 955.9,107.6 953.9,108.2 951.8,108.6 949.8,109.6 947.8,111.1 945.7,112.3 943.7,113.4 941.7,114.2 939.6,115.2 937.6,115.8 935.6,116.9 933.5,118.0 931.5,119.3 929.5,120.3 927.4,121.1 925.4,122.2 923.4,123.0 921.3,124.4 919.3,125.2 917.3,126.2 915.2,127.1 913.2,128.3 911.2,129.2 909.1,130.2 907.1,130.9 905.1,132.1 903.0,132.7 901.0,133.8 899.0,134.8 896.9,136.0 894.9,136.8 892.9,137.6 890.8,138.2 888.8,139.4 886.8,140.6 884.7,141.6 882.7,142.2 880.7,143.1 878.6,144.0 876.6,145.0 874.6,145.8 872.5,146.5 870.5,147.2 868.5,147.7 866.4,148.9 864.4,150.1 862.4,151.3 860.3,152.0 858.3,152.8 856.3,153.3 854.2,153.9 852.2,154.8 850.2,155.6 848.1,156.7 846.1,157.3 844.1,158.3 842.0,159.2 840.0,160.1 837.9,161.3 835.9,162.1 833.8,163.5 831.8,164.2 829.7,165.4 827.7,166.1 825.6,167.5 823.6,169.1 821.5,170.1 819.5,171.0 817.4,171.9 815.3,173.3 813.3,174.7 811.2,175.7 809.2,176.7 807.1,177.6 805.1,178.9 803.0,180.1 801.0,181.2 798.9,182.0 796.9,182.1 794.9,182.5 792.8,182.8 790.8,183.3 788.8,183.2 786.8,183.4 784.7,183.4 782.7,184.0 780.7,184.4 778.6,184.6 776.6,184.6 774.6,184.9 772.6,185.5 770.5,186.0 768.5,186.2 766.5,186.1 764.5,186.2 762.5,186.3 760.4,186.6 758.4,187.1 756.4,187.1 754.4,187.4 752.3,187.2 750.3,187.7 748.3,188.2 746.2,188.7 744.2,189.1 742.2,189.3" fill="#8172B3" fill-opacity="0.18"/>
<polygon points="742.2,191.5 744.6,191.4 746.9,191.4 749.3,191.4 751.7,191.0 754.0,190.5 756.4,190.3 758.7,190.2 761.1,190.2 763.5,189.7 765.8,189.4 768.1,189.1 770.4,189.1 772.7,189.0 775.0,188.7 777.2,188.2 779.4,187.7 781.6,187.4 783.8,187.2 785.9,186.8 788.1,186.8 790.2,186.6 792.3,186.3 794.4,185.8 796.5,185.3 798.5,184.9 800.6,184.6 803.2,184.1 805.8,183.7 808.4,183.0 810.9,182.1 813.4,181.3 815.9,180.7 818.3,180.2 820.7,179.2 823.1,178.5 825.3,177.5 827.6,176.7 829.8,175.5 832.3,174.5 834.8,173.6 837.2,172.9 839.9,171.9 842.5,171.0 845.2,169.9 847.3,169.1 849.4,168.2 851.6,167.5 853.7,166.9 856.0,166.3 858.3,165.6 860.6,164.8 862.9,163.9 865.2,162.9 867.5,162.0 869.7,161.3 872.0,160.5 874.3,159.6 876.6,158.9 878.9,158.0 881.2,157.3 883.5,156.2 885.8,155.4 888.0,154.5 890.3,153.4 892.6,152.3 894.9,151.2 897.2,150.2 899.5,149.2 901.8,148.0 904.0,147.2 906.3,146.2 908.6,145.3 910.9,144.2 913.2,142.8 915.5,141.3 917.8,140.0 920.1,138.8 922.4,137.5 924.6,136.3 926.9,135.1 929.2,133.7 931.5,132.5 933.8,131.1 936.1,130.0 938.4,128.5 940.6,127.2 942.9,125.8 945.2,124.3 947.5,123.0 949.8,121.4 952.1,120.1 954.4,118.7 956.7,117.7 959.0,116.4 961.2,115.0 963.5,113.5 965.8,112.2 968.1,111.2 970.4,109.9 972.7,108.5 975.3,107.0 977.9,105.6 980.6,104.0 982.8,102.8 985.0,101.7 987.2,100.7 989.9,99.2 992.5,97.7 994.6,96.5 996.6,95.0 999.7,92.9 1001.8,91.8 1002.8,91.6 1002.8,105.2 1001.8,105.6 999.7,106.8 996.6,108.6 994.6,109.7 992.5,110.9 989.9,112.2 987.2,113.8 985.0,115.0 982.8,116.3 980.6,117.5 977.9,118.7 975.3,120.4 972.7,122.0 970.4,123.3 968.1,124.4 965.8,125.6 963.5,127.0 961.2,128.4 959.0,129.6 956.7,131.0 954.4,132.2 952.1,133.4 949.8,134.4 947.5,135.6 945.2,137.0 942.9,138.4 940.6,139.7 938.4,141.1 936.1,142.6 933.8,144.1 931.5,145.1 929.2,146.3 926.9,147.5 924.6,148.9 922.4,150.2 920.1,151.4 917.8,152.8 915.5,154.1 913.2,155.1 910.9,156.1 908.6,157.2 906.3,158.4 904.0,159.3 901.8,160.1 899.5,160.9 897.2,161.7 894.9,162.5 892.6,163.6 890.3,164.5 888.0,165.6 885.8,166.4 883.5,167.2 881.2,167.9 878.9,168.6 876.6,169.3 874.3,170.1 872.0,170.7 869.7,171.2 867.5,172.0 865.2,172.8 862.9,173.5 860.6,174.0 858.3,174.7 856.0,175.2 853.7,175.9 851.6,176.2 849.4,176.9 847.3,177.5 845.2,178.2 842.5,178.9 839.9,179.8 837.2,180.5 834.8,181.5 832.3,182.5 829.8,183.6 827.6,184.5 825.3,185.1 823.1,186.0 820.7,186.6 818.3,187.3 815.9,188.0 813.4,188.3 810.9,189.0 808.4,189.4 805.8,190.2 803.2,190.5 800.6,191.1 798.5,191.4 796.5,192.0 794.4,192.2 792.3,192.2 790.2,192.1 788.1,192.5 785.9,192.9 783.8,193.4 781.6,193.5 779.4,193.5 777.2,193.6 775.0,193.6 772.7,194.0 770.4,194.4 768.1,194.8 765.8,194.7 763.5,194.7 761.1,194.6 758.7,194.7 756.4,194.9 754.0,195.1 751.7,195.4 749.3,195.4 746.9,195.4 744.6,195.7 742.2,196.0" fill="#8C8C8C" fill-opacity="0.26"/>
<polygon points="742.2,189.6 744.3,189.8 746.3,189.8 748.4,189.3 750.5,188.6 752.5,188.8 754.6,189.8 756.7,190.2 758.7,189.9 760.8,188.9 762.8,189.5 764.9,189.7 767.0,190.3 769.0,189.3 771.1,188.7 773.2,187.9 775.2,188.4 777.3,188.7 779.4,188.9 781.4,189.7 783.5,189.7 785.5,189.9 787.6,189.6 789.7,189.6 791.8,189.4 793.8,188.9 795.9,188.2 798.0,187.2 800.1,187.1 802.1,187.1 804.2,187.6 806.3,186.1 808.4,186.1 810.4,185.6 812.5,186.1 814.6,184.9 816.7,185.1 818.8,184.2 820.8,183.7 822.9,183.1 825.0,182.4 827.1,181.8 829.2,180.7 831.2,181.2 833.3,180.4 835.4,179.5 837.5,178.7 839.7,177.6 841.8,176.7 844.0,175.6 846.2,175.3 848.3,174.7 850.5,172.7 852.7,171.9 854.8,170.2 857.2,168.3 859.6,164.9 862.1,162.8 864.5,159.5 866.8,157.1 869.2,154.0 871.5,152.0 873.9,149.6 876.2,148.3 878.5,147.4 880.7,146.7 883.0,146.3 885.3,144.0 887.6,142.5 889.9,140.6 892.2,139.2 894.5,137.5 896.8,136.7 899.0,136.2 901.3,135.1 903.7,133.8 906.1,133.1 908.4,132.7 910.8,131.8 913.2,129.8 915.3,129.2 917.4,128.1 919.5,127.8 921.5,126.3 923.6,126.3 925.7,126.2 927.8,126.1 930.1,125.7 932.4,124.8 934.7,124.9 936.9,124.7 939.2,124.6 941.5,124.4 943.6,125.0 945.8,125.8 947.9,126.0 950.0,124.8 952.2,124.1 954.3,123.4 956.4,123.7 958.5,124.1 960.6,124.7 962.8,124.6 964.9,124.3 967.0,124.3 969.1,125.3 971.2,125.3 973.3,124.1 975.4,123.5 977.5,123.6 979.6,124.5 981.8,124.2 983.9,123.9 986.0,124.1 988.1,123.9 990.2,124.3 992.3,123.2 994.4,124.1 996.5,123.9 998.6,125.0 1000.7,124.3 1002.8,124.0 1002.8,176.5 1000.6,175.8 998.5,175.4 996.3,175.5 994.2,176.5 992.0,176.7 989.8,177.5 987.7,177.2 985.5,177.4 983.4,176.4 981.2,176.1 979.1,175.7 976.9,176.0 974.7,176.6 972.6,177.3 970.4,178.4 968.3,178.2 966.1,177.7 964.0,177.7 961.8,178.0 959.7,178.4 957.6,178.6 955.5,179.4 953.3,179.1 951.2,179.3 949.1,178.4 947.0,178.9 944.9,179.5 942.7,180.8 940.6,181.8 938.5,181.1 936.4,180.6 934.3,180.4 932.2,181.3 930.2,181.4 928.1,181.6 926.0,181.5 923.9,181.8 921.8,181.7 919.8,182.1 917.7,182.6 915.6,183.6 913.5,183.8 911.3,183.9 909.2,183.7 907.0,183.2 904.8,184.0 902.7,184.3 900.5,184.9 898.3,185.0 896.2,184.9 894.0,185.6 892.0,186.5 890.0,187.3 888.0,187.3 886.0,186.8 884.0,187.5 882.0,187.9 880.0,188.1 877.9,188.2 875.8,189.2 873.6,189.8 871.5,190.2 869.4,190.5 867.2,190.8 865.0,190.9 862.6,190.7 860.4,191.9 858.0,192.8 855.8,193.5 853.7,193.7 851.7,194.8 849.7,195.9 847.6,196.3 845.6,195.7 843.6,196.0 841.6,196.3 839.5,197.9 837.5,198.5 835.4,198.2 833.3,198.4 831.2,197.9 829.2,198.4 827.1,198.7 825.0,198.7 822.9,198.6 820.8,198.7 818.8,199.7 816.7,200.8 814.6,200.1 812.5,199.8 810.4,199.2 808.4,199.9 806.3,201.1 804.2,201.6 802.1,202.0 800.1,201.8 798.0,201.4 795.9,201.6 793.8,202.0 791.8,203.2 789.7,203.0 787.6,202.1 785.5,201.0 783.5,200.3 781.4,200.1 779.4,200.9 777.3,201.8 775.2,202.0 773.2,201.7 771.1,201.3 769.0,201.0 767.0,201.1 764.9,200.9 762.8,200.8 760.8,201.0 758.7,200.8 756.7,202.0 754.6,201.5 752.5,201.1 750.5,199.9 748.4,199.4 746.3,199.6 744.3,200.6 742.2,201.6" fill="#937860" fill-opacity="0.18"/>
<polygon points="742.2,191.0 744.2,190.7 746.3,190.4 748.3,190.5 750.4,190.3 752.4,190.2 754.5,190.1 756.5,190.2 758.6,190.0 760.6,189.5 762.6,189.3 764.7,189.3 766.7,189.4 768.8,189.4 770.8,189.2 772.9,189.1 774.9,188.9 776.9,188.8 779.0,188.4 781.0,188.1 783.1,187.9 785.1,188.0 787.2,188.1 789.2,188.1 791.2,188.0 793.3,187.9 795.3,187.8 797.4,187.5 799.4,187.3 801.5,187.1 803.5,187.0 805.6,187.0 807.6,186.7 809.6,186.7 811.7,186.5 813.7,186.3 815.8,186.0 817.8,185.9 819.9,186.1 821.9,186.1 823.9,185.8 826.0,185.4 828.0,185.4 830.0,185.2 832.0,184.9 834.1,184.5 836.1,184.5 838.1,184.4 840.1,184.5 842.1,184.4 844.2,184.5 846.2,184.4 848.2,183.9 850.2,183.8 852.4,183.6 854.6,183.7 856.8,183.5 859.0,183.2 861.3,183.2 863.5,182.9 865.7,183.0 867.9,182.7 870.1,182.7 872.3,182.3 874.6,182.0 876.8,181.8 879.0,181.6 881.3,181.2 883.5,180.8 885.8,180.3 888.2,180.2 890.5,180.0 892.8,179.7 895.2,179.5 897.5,179.2 899.8,178.9 902.2,178.5 904.2,178.5 906.3,178.7 908.3,178.7 910.4,178.5 912.4,178.3 914.4,178.2 916.5,178.3 918.5,178.2 920.6,178.0 922.7,178.0 924.8,177.8 926.9,177.9 929.0,177.7 931.1,177.5 933.2,177.3 935.3,177.2 937.4,177.2 939.6,177.2 941.7,177.1 943.8,177.2 946.0,177.1 948.1,177.2 950.3,176.9 952.4,176.9 954.5,176.6 956.7,176.5 958.8,176.4 961.0,176.4 963.1,176.6 965.2,176.7 967.4,176.7 969.5,176.4 971.7,176.3 973.8,176.3 976.0,176.4 978.1,176.2 980.2,176.1 982.4,176.1 984.5,176.1 986.7,176.0 988.8,175.9 990.9,175.9 993.1,176.1 995.2,175.9 997.4,175.7 999.5,175.4 1001.7,175.3 1003.8,175.2 1003.8,179.5 1001.7,179.8 999.5,180.1 997.4,180.1 995.2,180.2 993.1,180.3 990.9,180.6 988.8,180.6 986.7,180.7 984.5,180.4 982.4,180.4 980.2,180.3 978.1,180.4 976.0,180.6 973.8,180.7 971.7,180.7 969.5,180.8 967.4,181.0 965.2,181.0 963.1,181.0 961.0,180.9 958.8,181.1 956.7,181.2 954.5,181.2 952.4,181.1 950.3,181.3 948.1,181.6 946.0,181.6 943.8,181.6 941.7,181.4 939.6,181.5 937.4,181.6 935.3,181.9 933.2,181.9 931.1,182.0 929.0,182.0 926.9,182.2 924.8,182.1 922.7,182.1 920.6,182.2 918.5,182.4 916.5,182.6 914.4,182.4 912.4,182.6 910.4,182.6 908.3,183.0 906.3,183.1 904.2,183.2 902.2,183.1 899.8,183.3 897.5,183.5 895.2,183.7 892.8,184.0 890.5,184.3 888.2,184.6 885.8,184.9 883.5,185.2 881.3,185.7 879.0,185.9 876.8,186.2 874.6,186.3 872.3,186.5 870.1,186.7 867.9,186.7 865.7,187.0 863.5,186.9 861.3,187.3 859.0,187.6 856.8,188.0 854.6,188.3 852.4,188.2 850.2,188.2 848.2,188.3 846.2,188.8 844.2,189.1 842.1,189.1 840.1,189.2 838.1,189.1 836.1,189.2 834.1,189.1 832.0,189.2 830.0,189.2 828.0,189.6 826.0,189.8 823.9,190.2 821.9,190.4 819.9,190.5 817.8,190.3 815.8,190.4 813.7,190.6 811.7,191.0 809.6,191.0 807.6,191.0 805.6,191.1 803.5,191.2 801.5,191.5 799.4,191.7 797.4,192.0 795.3,192.2 793.3,192.3 791.2,192.3 789.2,192.3 787.2,192.4 785.1,192.4 783.1,192.3 781.0,192.4 779.0,192.9 776.9,193.2 774.9,193.3 772.9,193.1 770.8,193.3 768.8,193.4 766.7,193.6 764.7,193.5 762.6,193.6 760.6,193.9 758.6,194.4 756.5,194.7 754.5,194.7 752.4,194.6 750.4,194.7 748.3,194.8 746.3,194.9 744.2,195.0 742.2,195.1" fill="#55A868" fill-opacity="0.18"/>
<polygon points="742.2,180.9 744.2,178.2 746.3,175.0 748.3,171.7 750.4,168.5 752.4,165.8 754.4,163.5 756.9,160.0 759.4,156.8 761.9,153.1 764.2,149.8 766.5,146.6 768.8,142.8 771.1,139.9 773.3,137.1 775.6,135.2 777.9,132.8 780.2,131.0 782.5,128.3 784.8,125.5 787.0,122.9 789.3,121.0 791.6,118.3 793.9,115.0 796.2,111.0 798.4,108.3 800.6,104.9 802.8,101.9 805.0,98.8 807.1,95.6 809.3,93.3 812.1,88.5 814.9,84.2 817.3,79.5 819.7,75.0 822.2,70.3 824.7,65.5 827.4,61.0 830.0,56.4 832.5,52.7 835.0,49.1 837.4,45.6 839.7,42.5 842.1,40.1 844.5,38.2 846.8,36.4 849.1,34.1 851.5,32.6 853.9,31.3 856.2,30.5 858.5,29.9 860.9,29.1 863.2,28.8 865.6,28.4 867.9,28.1 871.5,26.6 873.8,25.8 876.4,25.0 879.1,24.5 881.7,22.8 883.9,21.9 886.1,20.8 888.4,20.6 890.6,20.2 892.8,19.6 895.0,18.4 897.0,18.1 899.0,17.6 901.0,17.7 903.0,17.2 905.0,17.1 907.0,16.5 909.0,15.9 911.1,15.6 913.1,15.9 915.2,15.3 917.3,15.2 919.4,14.6 921.4,15.0 923.5,14.3 925.6,14.1 927.7,13.8 929.8,14.3 931.8,14.4 933.9,14.8 935.9,14.5 938.0,14.6 940.0,14.2 942.1,13.9 944.1,14.4 946.1,14.6 948.1,14.7 950.2,14.3 952.2,14.3 954.2,15.2 956.6,15.1 959.0,15.2 961.4,14.8 963.5,13.9 965.7,13.2 968.0,13.2 970.2,13.3 972.4,13.1 974.6,12.8 976.9,12.9 979.1,12.1 981.4,12.1 983.6,11.4 985.8,11.9 988.1,11.7 990.3,11.6 992.6,11.8 994.8,11.8 997.1,12.4 999.3,12.3 1001.6,11.7 1003.8,10.9 1003.8,21.7 1001.6,22.3 999.3,22.7 997.1,22.9 994.8,22.6 992.6,23.3 990.3,23.8 988.1,24.5 985.8,24.6 983.6,24.2 981.4,23.7 979.1,23.7 976.9,24.4 974.6,24.8 972.4,24.5 970.2,24.1 968.0,24.3 965.7,25.1 963.5,26.0 961.4,27.0 959.0,27.0 956.6,27.0 954.2,27.1 952.2,26.4 950.2,26.3 948.1,26.2 946.1,26.6 944.1,26.9 942.1,27.6 940.0,27.5 938.0,27.2 935.9,27.3 933.9,27.6 931.8,28.4 929.8,28.6 927.7,28.6 925.6,28.7 923.5,28.9 921.4,29.9 919.4,29.9 917.3,29.9 915.2,29.9 913.1,30.8 911.1,30.9 909.0,31.7 907.0,31.9 905.0,32.8 903.0,33.6 901.0,34.2 899.0,34.3 897.0,34.7 895.0,35.4 892.8,36.3 890.6,36.8 888.4,36.8 886.1,37.9 883.9,38.3 881.7,39.3 879.1,40.7 876.4,42.0 873.8,42.9 871.5,44.1 867.9,45.7 865.6,46.6 863.2,46.9 860.9,47.4 858.5,48.7 856.2,50.1 853.9,51.5 851.5,52.7 849.1,53.8 846.8,55.5 844.5,56.8 842.1,59.6 839.7,62.0 837.4,65.8 835.0,69.8 832.5,74.0 830.0,78.8 827.4,83.2 824.7,88.7 822.2,93.5 819.7,98.9 817.3,104.3 814.9,109.5 812.1,115.0 809.3,119.7 807.1,122.9 805.0,126.4 802.8,129.7 800.6,133.5 798.4,136.4 796.2,140.2 793.9,142.9 791.6,146.4 789.3,149.0 787.0,151.6 784.8,154.1 782.5,157.2 780.2,160.4 777.9,162.5 775.6,164.7 773.3,166.7 771.1,169.7 768.8,172.1 766.5,174.5 764.2,176.6 761.9,178.9 759.4,181.4 756.9,183.2 754.4,185.3 752.4,186.7 750.4,188.9 748.3,190.8 746.3,193.1 744.2,195.4 742.2,197.9" fill="#C44E52" fill-opacity="0.18"/>
<polygon points="742.2,185.8 744.6,183.2 747.0,180.6 749.3,177.5 751.7,174.3 754.1,171.1 756.5,167.8 758.5,165.4 760.5,162.8 762.6,160.1 764.6,157.1 766.9,154.0 769.2,150.9 771.5,147.3 773.8,144.9 776.1,141.9 778.3,139.3 780.6,137.3 783.0,135.9 785.3,134.4 787.5,132.1 789.8,129.5 792.1,127.2 794.4,123.8 796.7,120.5 799.0,117.2 801.0,114.3 803.0,111.4 805.0,108.6 807.7,103.4 810.4,98.7 812.7,93.7 815.0,89.4 818.9,80.0 821.1,75.2 823.2,70.5 825.6,65.7 827.9,61.5 830.3,57.2 832.6,53.6 835.0,50.5 837.4,47.4 839.7,44.1 842.1,40.8 844.4,38.2 846.8,35.9 849.1,34.0 851.5,32.5 853.8,31.6 856.1,30.4 858.5,29.1 860.9,27.9 863.2,27.5 865.6,26.7 867.7,25.9 869.8,25.2 873.2,24.1 876.0,22.8 878.8,21.7 881.3,20.6 883.9,19.6 886.4,18.4 888.5,18.0 890.6,17.9 892.7,18.0 894.7,18.2 896.8,18.3 898.9,18.3 901.0,17.8 903.1,17.5 905.2,17.4 907.3,17.7 909.4,17.6 911.6,17.3 913.7,17.5 915.8,17.7 918.0,17.9 920.1,17.5 922.2,17.0 924.4,17.0 926.5,17.1 928.6,17.6 930.8,17.5 932.9,17.8 935.0,17.8 937.1,18.0 939.1,17.7 941.1,17.8 943.2,17.5 945.2,17.5 947.2,17.1 949.2,16.9 951.3,17.0 953.3,17.4 955.3,17.7 957.4,17.6 959.4,17.5 961.4,17.6 963.5,17.9 965.5,18.1 967.6,17.7 969.7,17.9 971.7,17.6 973.8,18.3 975.9,18.0 977.9,17.9 980.0,17.8 982.1,17.9 984.1,18.6 986.2,18.4 988.3,18.5 990.3,18.2 992.6,18.2 994.8,18.4 997.1,18.9 999.3,19.0 1001.6,18.7 1003.8,18.2 1003.8,22.4 1001.6,22.7 999.3,23.1 997.1,23.4 994.8,23.0 992.6,23.1 990.3,23.3 988.3,23.7 986.2,23.3 984.1,23.0 982.1,22.9 980.0,22.8 977.9,23.1 975.9,23.1 973.8,23.6 971.7,23.1 969.7,23.0 967.6,23.1 965.5,23.6 963.5,23.9 961.4,23.8 959.4,23.8 957.4,23.6 955.3,23.7 953.3,23.5 951.3,23.4 949.2,23.0 947.2,23.0 945.2,23.1 943.2,23.6 941.1,24.1 939.1,24.5 937.1,24.8 935.0,24.9 932.9,24.6 930.8,24.6 928.6,24.6 926.5,24.6 924.4,24.5 922.2,24.6 920.1,25.1 918.0,24.9 915.8,24.8 913.7,24.9 911.6,25.2 909.4,25.7 907.3,25.4 905.2,25.6 903.1,25.6 901.0,26.5 898.9,26.7 896.8,26.9 894.7,27.0 892.7,27.3 890.6,27.2 888.5,27.3 886.4,27.2 883.9,28.8 881.3,29.8 878.8,31.0 876.0,31.9 873.2,32.8 869.8,34.2 867.7,34.9 865.6,36.1 863.2,36.9 860.9,38.0 858.5,39.4 856.1,41.1 853.8,42.8 851.5,44.0 849.1,46.2 846.8,48.4 844.4,51.1 842.1,53.9 839.7,57.2 837.4,60.8 835.0,64.5 832.6,68.0 830.3,72.5 827.9,77.0 825.6,82.2 823.2,86.9 821.1,91.7 818.9,96.5 815.0,107.0 812.7,112.2 810.4,117.6 807.7,122.2 805.0,127.2 803.0,130.4 801.0,134.3 799.0,137.8 796.7,141.1 794.4,143.8 792.1,147.1 789.8,150.1 787.5,152.7 785.3,155.2 783.0,156.7 780.6,158.8 778.3,160.8 776.1,163.3 773.8,166.2 771.5,168.7 769.2,171.8 766.9,174.2 764.6,176.9 762.6,179.3 760.5,181.4 758.5,183.8 756.5,185.6 754.1,188.0 751.7,189.9 749.3,191.9 747.0,193.7 744.6,195.5 742.2,197.5" fill="#4C72B0" fill-opacity="0.18"/>
<polygon points="742.2,181.3 745.6,175.1 747.8,171.3 750.1,167.6 752.3,163.7 754.6,159.9 756.9,156.1 759.1,152.5 761.4,149.4 763.7,146.4 766.0,143.7 768.3,140.6 770.6,137.4 772.8,134.3 775.1,131.5 777.5,129.2 779.8,126.9 782.0,124.6 784.3,121.9 786.6,119.4 788.9,116.0 791.2,113.0 793.5,110.0 795.6,107.7 797.8,104.9 799.9,102.1 801.9,99.4 804.0,96.7 806.0,94.1 808.7,90.0 811.4,85.5 813.8,81.1 816.1,76.1 818.5,71.7 820.9,66.7 823.2,62.2 825.5,57.9 827.9,53.6 830.3,49.0 832.6,45.0 835.0,41.5 837.4,38.9 839.8,35.9 842.1,33.8 844.4,31.0 846.8,28.7 849.1,25.9 851.5,24.9 853.9,23.7 856.2,22.8 858.6,21.8 860.9,20.7 863.2,20.0 865.6,19.5 868.0,19.8 870.3,19.2 872.6,18.3 874.9,17.6 877.2,17.7 879.4,17.7 881.7,17.1 883.9,17.1 886.1,16.5 888.4,16.7 890.6,15.8 892.8,15.8 895.0,15.1 897.2,15.8 899.4,15.7 901.6,15.7 903.8,15.1 905.9,14.3 908.1,13.8 910.3,13.4 912.5,13.0 914.7,13.0 916.8,12.7 919.0,12.8 921.1,12.3 923.3,12.4 925.5,12.3 927.6,12.3 929.8,12.2 931.9,12.2 934.1,11.9 936.2,11.5 938.4,10.8 940.5,11.2 942.6,11.0 944.7,10.9 946.9,10.6 949.0,10.7 951.1,10.4 953.2,10.7 955.4,10.6 957.5,10.8 959.6,10.3 961.7,9.7 963.8,9.6 965.9,9.7 968.0,9.9 970.1,10.3 972.2,10.4 974.3,10.6 976.5,9.9 978.6,9.6 980.7,9.6 982.8,9.9 984.9,9.5 987.0,9.6 989.1,9.2 991.2,9.7 993.3,9.8 995.4,10.2 997.5,10.3 999.6,10.1 1001.7,9.8 1003.8,9.2 1003.8,13.7 1001.7,13.8 999.6,14.1 997.5,14.1 995.4,14.4 993.3,14.2 991.2,14.4 989.1,14.0 987.0,14.0 984.9,14.3 982.8,14.7 980.7,14.8 978.6,14.8 976.5,15.0 974.3,14.9 972.2,14.9 970.1,14.7 968.0,15.1 965.9,15.2 963.8,15.1 961.7,14.5 959.6,14.9 957.5,15.1 955.4,16.0 953.2,15.3 951.1,15.5 949.0,15.4 946.9,15.6 944.7,15.7 942.6,15.8 940.5,16.4 938.4,16.8 936.2,17.4 934.1,17.6 931.9,17.8 929.8,18.0 927.6,18.3 925.5,18.2 923.3,17.9 921.1,17.9 919.0,18.3 916.8,19.1 914.7,19.3 912.5,19.2 910.3,19.0 908.1,19.3 905.9,20.0 903.8,20.4 901.6,20.9 899.4,21.5 897.2,22.4 895.0,22.7 892.8,23.0 890.6,23.4 888.4,24.7 886.1,25.3 883.9,25.9 881.7,26.2 879.4,27.3 877.2,28.4 874.9,29.0 872.6,29.9 870.3,30.7 868.0,32.3 865.6,33.2 863.2,35.1 860.9,35.8 858.6,36.8 856.2,38.3 853.9,40.4 851.5,42.7 849.1,44.2 846.8,46.8 844.4,49.3 842.1,52.7 839.8,55.7 837.4,59.2 835.0,62.3 832.6,66.2 830.3,70.5 827.9,75.2 825.5,79.8 823.2,84.7 820.9,89.6 818.5,95.3 816.1,100.7 813.8,106.1 811.4,110.8 808.7,115.4 806.0,120.1 804.0,122.9 801.9,126.5 799.9,130.1 797.8,133.4 795.6,136.2 793.5,138.6 791.2,141.7 788.9,145.0 786.6,148.1 784.3,150.5 782.0,153.1 779.8,156.2 777.5,159.0 775.1,161.2 772.8,163.8 770.6,166.7 768.3,169.0 766.0,171.2 763.7,173.0 761.4,175.4 759.1,177.5 756.9,180.8 754.6,183.3 752.3,186.6 750.1,189.5 747.8,192.5 745.6,195.2 742.2,199.6" fill="#DD8452" fill-opacity="0.18"/>
<polyline points="742.2,191.8 744.3,191.0 746.4,189.7 748.5,188.8 750.7,187.7 752.8,187.1 754.9,186.7 757.0,185.9 759.0,185.1 761.1,183.9 763.1,183.6 765.2,183.0 767.2,182.4 769.3,181.1 771.3,180.5 773.3,180.4 775.4,180.0 777.4,179.1 779.5,178.5 781.5,177.8 783.5,177.0 785.6,175.9 787.6,175.5 789.7,175.5 791.7,175.0 793.8,174.4 795.8,174.1 798.0,175.1 800.2,175.9 802.4,176.5 804.6,177.7 806.8,178.4 809.0,178.6 811.0,178.6 813.0,179.2 815.0,180.1 817.0,180.3 819.0,180.2 821.0,180.1 823.0,180.0 825.2,177.6 827.4,175.0 829.6,173.1 831.8,171.0 834.0,168.9 836.0,165.5 838.0,162.6 840.0,159.0 842.1,156.2 844.2,152.8 846.3,150.3 848.3,146.8 850.4,143.9 852.5,140.1 854.6,137.3 856.8,134.6 859.0,132.3 861.2,129.8 863.4,126.7 865.6,124.5 867.8,122.7 870.0,121.4 872.2,119.4 874.4,118.2 876.6,117.0 878.8,115.1 881.0,113.4 883.2,111.2 885.4,109.6 887.6,107.3 889.6,106.8 891.7,106.5 893.8,106.2 895.8,105.4 897.9,104.2 899.9,102.7 902.0,101.4 904.0,100.8 906.1,101.9 908.3,103.0 910.4,104.1 912.5,104.7 914.7,105.4 916.8,105.6 918.9,105.9 921.0,107.0 923.1,107.6 925.2,108.5 927.3,108.5 929.4,108.7 931.5,109.1 933.7,108.0 935.9,107.1 938.1,106.6 940.3,105.5 942.5,104.2 944.6,101.8 946.7,99.9 948.8,98.5 950.8,97.5 952.9,96.6 955.0,94.9 957.1,93.4 959.2,91.9 961.3,91.1 963.4,89.9 965.4,88.5 967.5,87.0 969.6,86.1 971.7,85.6 973.8,85.5 975.9,85.4 978.0,85.2 980.1,84.7 982.2,83.6 984.3,83.1 986.4,83.0 988.4,83.3 990.5,83.0 992.5,83.1 994.6,83.1 996.6,83.9 998.7,84.2 1000.8,84.5 1002.8,84.3" fill="none" stroke="#DA8BC3" stroke-width="1.30" stroke-linejoin="round"/>
<polyline points="742.2,177.3 744.2,176.6 746.2,175.9 748.3,175.2 750.3,174.5 752.3,173.8 754.4,173.1 756.4,172.4 758.4,171.8 760.4,171.1 762.5,170.4 764.5,169.7 766.5,169.1 768.5,168.5 770.5,167.7 772.6,166.9 774.6,166.1 776.6,165.5 778.6,164.9 780.7,164.3 782.7,163.6 784.7,162.9 786.8,162.2 788.8,161.6 790.8,160.9 792.8,160.2 794.9,159.5 796.9,158.8 798.9,158.1 801.0,156.9 803.0,155.6 805.1,154.3 807.1,153.1 809.2,151.9 811.2,150.6 813.3,149.4 815.3,148.2 817.4,146.9 819.5,145.7 821.5,144.5 823.6,143.2 825.6,141.9 827.7,140.7 829.7,139.5 831.8,138.3 833.8,137.0 835.9,135.8 837.9,134.5 840.0,133.2 842.0,132.0 844.1,130.9 846.1,129.7 848.1,128.4 850.2,127.1 852.2,125.9 854.2,124.7 856.3,123.6 858.3,122.4 860.3,121.1 862.4,119.8 864.4,118.7 866.4,117.5 868.5,116.2 870.5,114.9 872.5,113.7 874.6,112.6 876.6,111.4 878.6,110.2 880.7,109.1 882.7,108.0 884.7,106.9 886.8,105.8 888.8,104.6 890.8,103.4 892.9,102.3 894.9,101.2 896.9,100.1 899.0,99.0 901.0,98.0 903.0,96.9 905.1,95.8 907.1,94.7 909.1,93.5 911.2,92.3 913.2,91.1 915.2,90.4 917.3,89.6 919.3,88.8 921.3,88.0 923.4,87.1 925.4,86.2 927.4,85.5 929.5,84.7 931.5,83.9 933.5,83.1 935.6,82.3 937.6,81.5 939.6,80.6 941.7,79.9 943.7,79.1 945.7,78.3 947.8,77.5 949.8,76.5 951.8,76.0 953.9,75.4 955.9,74.8 958.0,74.2 960.0,73.6 962.0,72.9 964.1,72.3 966.1,71.8 968.1,71.2 970.2,70.6 972.2,70.1 974.3,69.6 976.3,68.9 978.3,68.3 980.4,67.7 982.4,67.1 984.5,66.5 986.5,65.9 988.5,65.3 990.6,64.8 992.6,64.2 994.6,63.5 996.7,62.8 998.7,62.3 1000.8,61.7 1002.8,61.1" fill="none" stroke="#8172B3" stroke-width="1.30" stroke-linejoin="round"/>
<polyline points="742.2,193.8 744.6,193.6 746.9,193.4 749.3,193.2 751.7,193.1 754.0,192.9 756.4,192.8 758.7,192.6 761.1,192.5 763.5,192.3 765.8,192.1 768.1,191.9 770.4,191.7 772.7,191.5 775.0,191.3 777.2,191.0 779.4,190.7 781.6,190.4 783.8,190.2 785.9,190.0 788.1,189.7 790.2,189.5 792.3,189.3 794.4,189.0 796.5,188.6 798.5,188.2 800.6,187.9 803.2,187.4 805.8,186.9 808.4,186.4 810.9,185.6 813.4,184.9 815.9,184.3 818.3,183.6 820.7,182.8 823.1,182.1 825.3,181.2 827.6,180.4 829.8,179.4 832.3,178.5 834.8,177.5 837.2,176.7 839.9,175.8 842.5,175.0 845.2,174.0 847.3,173.3 849.4,172.6 851.6,172.1 853.7,171.4 856.0,170.7 858.3,169.9 860.6,169.2 862.9,168.6 865.2,167.9 867.5,167.1 869.7,166.3 872.0,165.5 874.3,164.7 876.6,164.0 878.9,163.1 881.2,162.3 883.5,161.5 885.8,160.8 888.0,159.9 890.3,159.0 892.6,158.1 894.9,157.0 897.2,156.2 899.5,155.3 901.8,154.3 904.0,153.2 906.3,152.2 908.6,151.1 910.9,150.0 913.2,148.9 915.5,147.7 917.8,146.6 920.1,145.3 922.4,144.1 924.6,142.8 926.9,141.5 929.2,140.1 931.5,138.8 933.8,137.5 936.1,136.2 938.4,134.8 940.6,133.5 942.9,132.2 945.2,130.8 947.5,129.4 949.8,128.0 952.1,126.8 954.4,125.5 956.7,124.2 959.0,122.9 961.2,121.6 963.5,120.3 965.8,119.0 968.1,117.8 970.4,116.5 972.7,115.2 975.3,113.8 977.9,112.3 980.6,110.9 982.8,109.7 985.0,108.5 987.2,107.2 989.9,105.7 992.5,104.2 994.6,103.1 996.6,101.9 999.7,100.1 1001.8,99.0 1002.8,98.5" fill="none" stroke="#8C8C8C" stroke-width="1.30" stroke-linejoin="round"/>
<polyline points="742.2,195.5 744.3,195.6 746.5,195.5 748.6,195.5 750.8,195.2 752.9,195.4 755.0,195.5 757.2,195.7 759.3,195.2 761.5,194.9 763.6,195.0 765.7,195.2 767.9,195.1 770.0,195.0 772.2,195.1 774.3,195.0 776.4,194.9 778.5,194.7 780.7,194.7 782.8,194.6 784.9,194.6 787.0,194.9 789.2,195.1 791.3,195.3 793.4,195.3 795.4,195.1 797.5,195.0 800.0,195.2 802.4,195.6 804.9,196.0 807.3,195.6 809.5,195.3 811.8,194.7 814.0,194.7 816.3,194.2 818.5,194.4 820.9,194.3 823.2,194.2 825.6,193.6 828.0,193.3 830.4,192.7 832.5,192.4 834.6,191.8 836.7,191.4 838.7,190.9 840.8,190.1 842.9,190.0 845.0,189.2 847.1,188.6 849.2,187.6 851.2,187.1 853.3,186.7 855.4,185.7 857.4,184.7 859.5,183.7 861.5,182.4 863.8,180.5 866.1,178.4 868.4,176.7 871.1,173.5 873.9,170.5 876.3,169.3 878.7,168.4 881.2,167.4 883.5,166.8 885.8,166.0 888.0,165.5 890.3,165.2 892.6,164.6 894.9,163.7 897.2,163.2 899.5,162.9 901.8,162.2 904.0,161.6 906.3,160.7 908.6,160.3 910.9,159.8 913.2,159.5 915.5,159.3 917.8,158.9 920.1,158.5 922.4,157.9 924.4,158.0 926.4,158.1 928.5,158.0 930.5,157.6 932.5,157.3 934.5,157.0 936.6,157.0 938.6,157.0 940.6,156.8 942.7,156.3 944.7,155.9 946.8,155.6 948.8,155.5 950.8,155.4 952.9,155.2 954.9,155.3 956.9,155.0 959.0,154.9 961.0,154.8 963.0,154.7 965.1,154.9 967.1,155.0 969.2,154.9 971.2,154.4 973.2,154.1 975.3,153.8 977.3,154.1 979.4,153.8 981.4,153.6 983.4,153.0 985.5,152.9 987.5,152.9 989.5,152.9 991.8,152.6 994.0,152.5 996.2,152.2 998.4,152.1 1000.6,152.0 1002.8,152.1" fill="none" stroke="#937860" stroke-width="1.30" stroke-linejoin="round"/>
<polyline points="742.2,193.0 744.2,192.8 746.3,192.6 748.3,192.6 750.4,192.5 752.4,192.5 754.5,192.4 756.5,192.4 758.6,192.1 760.6,191.8 762.6,191.6 764.7,191.6 766.7,191.6 768.8,191.5 770.8,191.2 772.9,191.0 774.9,191.0 776.9,191.0 779.0,190.7 781.0,190.4 783.1,190.4 785.1,190.4 787.2,190.2 789.2,190.1 791.2,190.0 793.3,190.1 795.3,189.9 797.4,189.8 799.4,189.4 801.5,189.3 803.5,189.1 805.6,189.1 807.6,188.8 809.6,188.7 811.7,188.7 813.7,188.5 815.8,188.2 817.8,188.0 819.9,188.1 821.9,188.1 823.9,188.1 826.0,187.7 828.0,187.6 830.0,187.3 832.0,187.2 834.1,186.9 836.1,186.9 838.1,186.6 840.1,186.6 842.1,186.5 844.2,186.6 846.2,186.5 848.2,186.2 850.2,186.1 852.4,185.8 854.6,185.9 856.8,185.6 859.0,185.3 861.3,185.1 863.5,184.8 865.7,184.9 867.9,184.7 870.1,184.7 872.3,184.3 874.6,184.1 876.8,183.8 879.0,183.6 881.3,183.4 883.5,183.1 885.8,182.7 888.2,182.4 890.5,182.0 892.8,181.8 895.2,181.5 897.5,181.4 899.8,181.2 902.2,181.0 904.2,181.0 906.3,180.9 908.3,180.9 910.4,180.6 912.4,180.5 914.4,180.3 916.5,180.3 918.5,180.4 920.6,180.2 922.7,180.1 924.8,180.0 926.9,180.0 929.0,179.9 931.1,179.8 933.2,179.7 935.3,179.6 937.4,179.4 939.6,179.4 941.7,179.3 943.8,179.4 946.0,179.4 948.1,179.3 950.3,179.2 952.4,179.1 954.5,179.0 956.7,178.8 958.8,178.8 961.0,178.6 963.1,178.8 965.2,178.9 967.4,179.0 969.5,178.7 971.7,178.6 973.8,178.5 976.0,178.6 978.1,178.5 980.2,178.5 982.4,178.4 984.5,178.3 986.7,178.3 988.8,178.1 990.9,178.2 993.1,178.2 995.2,178.0 997.4,177.9 999.5,177.7 1001.7,177.6 1003.8,177.4" fill="none" stroke="#55A868" stroke-width="1.30" stroke-linejoin="round"/>
<polyline points="742.2,189.3 744.2,186.6 746.3,184.0 748.3,181.4 750.4,179.1 752.4,176.6 754.4,174.5 756.9,171.3 759.4,168.5 761.9,165.5 764.2,163.0 766.5,160.3 768.8,157.4 771.1,154.9 773.3,152.1 775.6,149.9 777.9,147.7 780.2,145.6 782.5,143.1 784.8,140.1 787.0,137.5 789.3,134.9 791.6,132.0 793.9,128.6 796.2,125.3 798.4,122.0 800.6,119.1 802.8,115.9 805.0,112.7 807.1,109.4 809.3,106.2 812.1,101.7 814.9,97.2 817.3,92.6 819.7,87.7 822.2,82.6 824.7,77.5 827.4,72.2 830.0,67.3 832.5,62.9 835.0,59.0 837.4,55.5 839.7,52.2 842.1,49.7 844.5,47.4 846.8,45.8 849.1,43.9 851.5,42.6 853.9,41.5 856.2,40.5 858.5,39.6 860.9,38.7 863.2,37.9 865.6,37.4 867.9,36.6 871.5,35.6 873.8,34.5 876.4,33.8 879.1,32.8 881.7,31.5 883.9,30.4 886.1,29.4 888.4,28.7 890.6,28.3 892.8,27.9 895.0,27.0 897.0,26.5 899.0,26.0 901.0,25.7 903.0,25.3 905.0,24.6 907.0,24.1 909.0,23.5 911.1,23.4 913.1,23.2 915.2,22.8 917.3,22.7 919.4,22.4 921.4,22.2 923.5,21.7 925.6,21.5 927.7,21.4 929.8,21.2 931.8,21.2 933.9,21.0 935.9,20.7 938.0,20.8 940.0,20.6 942.1,20.7 944.1,20.6 946.1,20.7 948.1,20.6 950.2,20.4 952.2,20.6 954.2,21.1 956.6,21.1 959.0,20.9 961.4,20.6 963.5,19.8 965.7,19.2 968.0,18.9 970.2,18.9 972.4,18.8 974.6,18.5 976.9,18.1 979.1,17.8 981.4,17.8 983.6,17.7 985.8,17.6 988.1,17.5 990.3,17.2 992.6,17.4 994.8,17.3 997.1,17.4 999.3,17.2 1001.6,16.9 1003.8,16.5" fill="none" stroke="#C44E52" stroke-width="1.30" stroke-linejoin="round"/>
<polyline points="742.2,192.0 744.6,189.5 747.0,186.9 749.3,184.3 751.7,181.8 754.1,179.4 756.5,176.8 758.5,174.6 760.5,172.5 762.6,170.0 764.6,167.6 766.9,164.4 769.2,161.4 771.5,158.0 773.8,155.5 776.1,152.8 778.3,150.2 780.6,148.4 783.0,146.6 785.3,145.0 787.5,142.5 789.8,139.9 792.1,137.1 794.4,133.9 796.7,130.8 799.0,127.8 801.0,124.5 803.0,121.3 805.0,118.0 807.7,112.8 810.4,108.0 812.7,103.1 815.0,98.3 818.9,88.3 821.1,83.3 823.2,78.5 825.6,73.9 827.9,69.3 830.3,65.1 832.6,60.9 835.0,57.5 837.4,53.9 839.7,50.8 842.1,47.6 844.4,44.8 846.8,42.1 849.1,40.0 851.5,38.2 853.8,37.0 856.1,35.4 858.5,34.1 860.9,32.9 863.2,32.1 865.6,31.2 867.7,30.5 869.8,29.8 873.2,28.7 876.0,27.6 878.8,26.6 881.3,25.4 883.9,24.3 886.4,23.0 888.5,22.7 890.6,22.6 892.7,22.4 894.7,22.2 896.8,22.2 898.9,22.1 901.0,21.9 903.1,21.6 905.2,21.5 907.3,21.4 909.4,21.3 911.6,21.3 913.7,21.3 915.8,21.4 918.0,21.3 920.1,21.2 922.2,20.9 924.4,20.9 926.5,20.9 928.6,20.9 930.8,20.8 932.9,20.8 935.0,21.0 937.1,21.1 939.1,21.1 941.1,20.8 943.2,20.6 945.2,20.4 947.2,20.4 949.2,20.3 951.3,20.4 953.3,20.5 955.3,20.4 957.4,20.5 959.4,20.5 961.4,20.5 963.5,20.5 965.5,20.5 967.6,20.4 969.7,20.5 971.7,20.6 973.8,20.9 975.9,20.7 977.9,20.6 980.0,20.5 982.1,20.5 984.1,20.7 986.2,20.7 988.3,20.9 990.3,20.6 992.6,20.5 994.8,20.4 997.1,20.7 999.3,20.7 1001.6,20.8 1003.8,20.6" fill="none" stroke="#4C72B0" stroke-width="1.30" stroke-linejoin="round"/>
<polyline points="742.2,190.4 745.6,185.2 747.8,181.8 750.1,178.5 752.3,175.0 754.6,171.8 756.9,168.5 759.1,165.4 761.4,162.4 763.7,159.7 766.0,157.1 768.3,154.6 770.6,152.0 772.8,149.1 775.1,146.5 777.5,144.2 779.8,141.6 782.0,138.9 784.3,136.2 786.6,133.6 788.9,130.6 791.2,127.7 793.5,124.6 795.6,121.8 797.8,118.8 799.9,115.7 801.9,112.8 804.0,110.0 806.0,107.2 808.7,102.8 811.4,98.1 813.8,93.3 816.1,88.3 818.5,83.6 820.9,78.7 823.2,73.9 825.5,69.2 827.9,64.7 830.3,60.2 832.6,55.8 835.0,51.8 837.4,48.5 839.8,45.4 842.1,42.9 844.4,40.3 846.8,37.9 849.1,35.5 851.5,33.8 853.9,32.0 856.2,30.7 858.6,29.4 860.9,28.4 863.2,27.5 865.6,26.5 868.0,26.0 870.3,25.0 872.6,24.1 874.9,23.4 877.2,22.9 879.4,22.5 881.7,21.6 883.9,21.1 886.1,20.4 888.4,20.2 890.6,19.6 892.8,19.2 895.0,18.8 897.2,18.7 899.4,18.5 901.6,17.9 903.8,17.4 905.9,16.9 908.1,16.6 910.3,16.2 912.5,16.0 914.7,16.0 916.8,15.7 919.0,15.4 921.1,15.0 923.3,15.0 925.5,15.0 927.6,14.9 929.8,14.7 931.9,14.6 934.1,14.3 936.2,13.9 938.4,13.5 940.5,13.6 942.6,13.5 944.7,13.5 946.9,13.5 949.0,13.3 951.1,13.1 953.2,13.0 955.4,13.0 957.5,12.8 959.6,12.6 961.7,12.3 963.8,12.5 965.9,12.4 968.0,12.6 970.1,12.5 972.2,12.6 974.3,12.5 976.5,12.4 978.6,12.4 980.7,12.4 982.8,12.2 984.9,11.9 987.0,11.9 989.1,11.7 991.2,12.0 993.3,11.9 995.4,12.1 997.5,12.0 999.6,11.8 1001.7,11.8 1003.8,11.7" fill="none" stroke="#DD8452" stroke-width="1.30" stroke-linejoin="round"/>
</g>
<g>
<text x="742.2" y="227.3" text-anchor="middle" fill="#4a4a4a" font-family="Liberation Serif, serif" font-size="11.5">0</text>
<text x="794.5" y="227.3" text-anchor="middle" fill="#4a4a4a" font-family="Liberation Serif, serif" font-size="11.5">10000</text>
<text x="846.7" y="227.3" text-anchor="middle" fill="#4a4a4a" font-family="Liberation Serif, serif" font-size="11.5">20000</text>
<text x="899.0" y="227.3" text-anchor="middle" fill="#4a4a4a" font-family="Liberation Serif, serif" font-size="11.5">30000</text>
<text x="951.2" y="227.3" text-anchor="middle" fill="#4a4a4a" font-family="Liberation Serif, serif" font-size="11.5">40000</text>
<text x="1003.5" y="227.3" text-anchor="middle" fill="#4a4a4a" font-family="Liberation Serif, serif" font-size="11.5">50000</text>
</g>
<text x="721.3" y="195.4" text-anchor="end" fill="#4a4a4a" font-family="Liberation Serif, serif" font-size="11.5">0</text>
<text x="721.3" y="143.5" text-anchor="end" fill="#4a4a4a" font-family="Liberation Serif, serif" font-size="11.5">100</text>
<text x="721.3" y="91.5" text-anchor="end" fill="#4a4a4a" font-family="Liberation Serif, serif" font-size="11.5">200</text>
<text x="721.3" y="39.6" text-anchor="end" fill="#4a4a4a" font-family="Liberation Serif, serif" font-size="11.5">300</text>
<text x="873.0" y="241.4" text-anchor="middle" fill="#262626" font-family="Liberation Sans, sans-serif" font-size="11.2">timesteps</text>
<text transform="translate(695.6,105.7) rotate(-90)" text-anchor="middle" fill="#262626" font-family="Liberation Sans, sans-serif" font-size="11.2" y="4">reward</text>
<rect x="1066.8" y="7.0" width="279.6" height="202.6" fill="#EAEAF2"/>
<g clip-path="url(#clipd)">
<line x1="1079.5" y1="7.0" x2="1079.5" y2="209.6" stroke="#fff" stroke-width="1.3"/>
<line x1="1130.7" y1="7.0" x2="1130.7" y2="209.6" stroke="#fff" stroke-width="1.3"/>
<line x1="1181.9" y1="7.0" x2="1181.9" y2="209.6" stroke="#fff" stroke-width="1.3"/>
<line x1="1233.1" y1="7.0" x2="1233.1" y2="209.6" stroke="#fff" stroke-width="1.3"/>
<line x1="1284.3" y1="7.0" x2="1284.3" y2="209.6" stroke="#fff" stroke-width="1.3"/>
<line x1="1335.5" y1="7.0" x2="1335.5" y2="209.6" stroke="#fff" stroke-width="1.3"/>
<line x1="1066.8" y1="6.6" x2="1346.4" y2="6.6" stroke="#fff" stroke-width="1.3"/>
<line x1="1066.8" y1="35.7" x2="1346.4" y2="35.7" stroke="#fff" stroke-width="1.3"/>
<line x1="1066.8" y1="64.8" x2="1346.4" y2="64.8" stroke="#fff" stroke-width="1.3"/>
<line x1="1066.8" y1="93.9" x2="1346.4" y2="93.9" stroke="#fff" stroke-width="1.3"/>
<line x1="1066.8" y1="123.0" x2="1346.4" y2="123.0" stroke="#fff" stroke-width="1.3"/>
<line x1="1066.8" y1="152.1" x2="1346.4" y2="152.1" stroke="#fff" stroke-width="1.3"/>
<line x1="1066.8" y1="181.2" x2="1346.4" y2="181.2" stroke="#fff" stroke-width="1.3"/>
<line x1="1066.8" y1="210.3" x2="1346.4" y2="210.3" stroke="#fff" stroke-width="1.3"/>
<polygon points="1079.2,96.4 1081.3,96.6 1083.4,96.6 1085.5,96.5 1087.6,96.5 1089.7,96.5 1091.8,96.6 1093.9,96.6 1096.0,96.7 1098.2,96.6 1100.3,96.4 1102.4,96.4 1104.5,96.4 1106.6,96.6 1108.7,96.7 1110.8,96.8 1112.9,96.8 1115.0,96.7 1117.0,96.1 1119.0,95.5 1121.1,95.0 1123.1,94.4 1125.1,93.8 1127.1,93.2 1129.1,92.7 1131.2,92.1 1133.2,91.7 1135.2,91.1 1137.2,90.5 1139.2,89.8 1141.3,89.2 1143.3,88.7 1145.3,88.2 1147.3,87.6 1149.3,87.1 1151.4,86.4 1153.4,85.9 1155.4,85.4 1157.4,85.4 1159.4,85.3 1161.4,85.1 1163.5,85.2 1165.5,85.2 1167.5,85.2 1169.5,85.0 1171.5,84.9 1173.5,84.9 1175.5,85.0 1177.6,85.0 1179.6,85.1 1181.6,85.0 1183.6,84.8 1185.6,84.7 1187.6,84.6 1189.6,84.7 1191.7,84.6 1193.7,84.6 1195.7,84.4 1197.7,84.5 1199.7,84.4 1201.7,84.4 1203.7,84.2 1205.8,84.3 1207.8,84.2 1209.8,84.3 1211.8,84.3 1213.8,84.3 1215.8,84.2 1217.8,84.0 1219.9,84.0 1221.9,83.9 1223.9,84.0 1225.9,83.9 1227.9,84.0 1229.9,83.8 1231.9,83.7 1234.0,83.6 1236.0,83.7 1238.0,83.6 1240.0,83.5 1242.0,83.4 1244.0,83.5 1246.0,83.6 1248.0,83.5 1250.0,83.6 1252.0,83.5 1254.0,83.5 1256.0,83.4 1258.0,83.3 1260.0,83.3 1262.0,83.3 1264.0,83.3 1266.0,83.3 1268.0,83.2 1270.0,83.1 1272.0,83.0 1274.0,83.0 1276.0,82.9 1278.0,82.9 1280.0,82.9 1282.0,82.9 1284.0,82.8 1286.0,82.8 1288.0,82.9 1290.0,82.9 1292.0,82.8 1294.0,82.8 1296.0,82.7 1298.0,82.6 1300.0,82.4 1302.0,82.5 1304.0,82.4 1306.0,82.4 1308.0,82.2 1310.0,82.2 1312.0,82.2 1314.0,82.3 1316.0,82.3 1318.0,82.2 1320.0,82.1 1322.0,82.1 1324.0,82.0 1326.0,81.9 1328.0,81.9 1330.0,81.9 1332.0,81.9 1334.0,81.8 1334.0,84.9 1332.0,84.7 1330.0,84.7 1328.0,84.7 1326.0,84.8 1324.0,84.8 1322.0,84.7 1320.0,84.7 1318.0,84.8 1316.0,84.8 1314.0,85.0 1312.0,85.0 1310.0,85.2 1308.0,85.2 1306.0,85.2 1304.0,85.2 1302.0,85.3 1300.0,85.4 1298.0,85.3 1296.0,85.3 1294.0,85.3 1292.0,85.2 1290.0,85.3 1288.0,85.3 1286.0,85.3 1284.0,85.3 1282.0,85.5 1280.0,85.7 1278.0,85.8 1276.0,85.8 1274.0,85.8 1272.0,85.8 1270.0,85.8 1268.0,85.9 1266.0,85.8 1264.0,85.9 1262.0,85.8 1260.0,85.9 1258.0,85.9 1256.0,86.0 1254.0,85.9 1252.0,85.9 1250.0,85.9 1248.0,86.1 1246.0,86.1 1244.0,86.2 1242.0,86.2 1240.0,86.4 1238.0,86.4 1236.0,86.4 1234.0,86.5 1231.9,86.5 1229.9,86.4 1227.9,86.4 1225.9,86.4 1223.9,86.7 1221.9,86.8 1219.9,86.7 1217.8,86.6 1215.8,86.6 1213.8,86.7 1211.8,86.9 1209.8,87.0 1207.8,87.0 1205.8,86.9 1203.7,87.0 1201.7,86.9 1199.7,86.9 1197.7,86.9 1195.7,87.1 1193.7,87.2 1191.7,87.2 1189.6,87.2 1187.6,87.3 1185.6,87.5 1183.6,87.5 1181.6,87.5 1179.6,87.6 1177.6,87.7 1175.5,87.8 1173.5,87.7 1171.5,87.8 1169.5,87.7 1167.5,87.8 1165.5,87.8 1163.5,87.8 1161.4,87.9 1159.4,87.8 1157.4,87.9 1155.4,88.0 1153.3,92.4 1151.3,96.8 1149.2,101.0 1147.1,105.4 1145.1,109.5 1143.0,113.9 1140.9,118.3 1138.9,122.8 1136.8,127.1 1134.7,131.4 1132.7,135.7 1130.6,140.0 1128.5,141.4 1126.5,142.6 1124.4,144.0 1122.4,145.4 1120.3,147.0 1118.3,148.4 1116.2,149.9 1114.2,151.3 1112.1,152.7 1110.0,154.2 1108.0,155.6 1105.9,156.9 1103.9,158.3 1101.8,159.6 1099.8,161.1 1097.7,162.5 1095.6,163.8 1093.6,165.2 1091.5,166.5 1089.5,168.0 1087.4,169.4 1085.4,170.9 1083.3,172.3 1081.3,173.6 1079.2,174.9" fill="#8172B3" fill-opacity="0.22"/>
<polygon points="1128.6,212.3 1130.2,208.5 1133.5,201.2 1135.9,195.3 1138.3,189.4 1140.5,183.4 1142.6,178.2 1144.8,173.1 1147.6,166.8 1150.5,160.0 1153.0,154.7 1155.5,148.9 1157.6,144.6 1159.7,140.2 1163.1,134.1 1166.6,129.5 1170.0,125.3 1173.5,123.6 1176.9,122.0 1180.8,120.9 1183.0,119.8 1185.1,118.9 1187.5,117.0 1189.9,115.3 1192.4,113.6 1195.0,112.5 1197.6,111.1 1200.2,110.2 1202.8,108.5 1205.4,107.5 1207.9,105.9 1210.5,105.0 1213.1,104.1 1215.7,103.4 1218.3,103.2 1220.8,103.0 1223.4,102.9 1226.0,102.7 1228.6,102.3 1231.2,102.3 1233.8,101.4 1236.3,100.9 1238.9,99.9 1241.5,99.6 1244.1,99.6 1246.7,99.2 1249.3,98.9 1251.9,97.7 1254.4,97.4 1257.0,96.8 1259.5,96.4 1262.0,95.8 1264.4,95.1 1266.8,93.8 1269.0,92.9 1271.3,91.9 1273.4,90.9 1275.6,89.4 1277.8,88.4 1280.0,88.2 1282.2,87.3 1284.4,87.0 1286.6,86.3 1288.8,86.2 1291.0,85.3 1293.3,84.6 1296.0,83.8 1298.8,83.6 1300.9,83.2 1303.1,83.1 1305.3,82.8 1307.8,81.9 1310.3,80.6 1312.8,80.2 1314.9,79.8 1317.0,80.1 1319.1,79.1 1321.2,78.7 1323.4,77.5 1325.5,77.0 1327.6,76.9 1329.8,76.5 1331.9,75.6 1334.0,74.6 1334.0,82.0 1331.9,82.7 1329.8,83.6 1327.6,83.7 1325.5,84.3 1323.4,83.8 1321.2,84.3 1319.1,84.6 1317.0,85.5 1314.9,86.0 1312.8,85.6 1310.5,85.4 1308.2,85.3 1305.9,86.1 1303.3,86.7 1300.7,87.5 1297.2,87.8 1295.2,89.1 1293.0,91.0 1290.3,95.3 1287.2,99.9 1283.8,105.9 1280.3,111.4 1276.9,118.1 1273.4,125.0 1270.0,132.4 1266.5,138.1 1263.1,143.5 1259.6,148.5 1256.2,153.1 1252.9,157.2 1249.9,159.7 1247.1,161.5 1244.6,162.7 1241.6,164.8 1238.1,166.4 1234.2,167.3 1232.1,167.1 1229.9,167.3 1227.7,167.4 1225.6,168.2 1223.4,168.3 1221.3,169.8 1219.1,169.9 1217.0,171.1 1214.8,171.9 1212.7,173.1 1210.5,174.2 1208.3,175.3 1206.2,176.5 1204.1,177.5 1201.9,178.6 1199.8,180.3 1197.6,181.9 1195.4,183.0 1193.3,184.5 1191.1,186.2 1189.0,188.5 1186.8,191.0 1184.7,193.8 1182.5,196.7 1180.3,199.5 1178.2,203.1 1174.9,208.5 1172.8,211.8 1171.7,213.0" fill="#937860" fill-opacity="0.18"/>
<polygon points="1251.3,210.8 1252.7,210.3 1255.5,209.0 1257.6,207.9 1259.7,206.8 1262.5,205.7 1265.4,204.5 1268.1,203.0 1270.8,201.2 1273.3,199.5 1275.9,198.0 1278.4,196.3 1280.8,194.6 1283.2,192.6 1285.5,190.6 1288.0,188.8 1290.5,187.0 1293.1,185.1 1295.7,183.1 1298.4,181.3 1301.1,179.5 1303.9,177.6 1306.7,175.6 1309.4,173.8 1312.1,171.8 1314.7,169.8 1317.3,167.9 1319.8,166.0 1322.2,164.1 1324.6,161.8 1326.9,159.6 1330.5,156.3 1332.8,154.3 1334.0,153.4 1334.0,173.9 1333.4,174.3 1332.2,175.3 1330.5,176.9 1328.1,178.6 1325.2,180.8 1321.7,183.3 1319.6,185.0 1317.5,186.5 1315.2,188.3 1312.8,189.8 1310.5,191.4 1308.2,193.1 1305.8,195.0 1303.4,196.9 1301.1,199.0 1298.8,200.7 1296.4,202.8 1294.1,204.6 1290.5,207.9 1288.2,209.9 1287.0,211.0" fill="#8C8C8C" fill-opacity="0.18"/>
<polygon points="1094.1,207.3 1094.4,205.8 1095.0,203.0 1095.5,201.1 1096.0,199.1 1096.6,196.5 1097.2,193.6 1097.7,191.7 1098.3,189.3 1098.8,187.3 1099.4,184.5 1100.0,181.9 1100.6,179.3 1101.2,177.0 1101.7,175.0 1102.3,173.0 1102.8,170.6 1103.3,168.8 1103.8,166.9 1104.3,165.2 1104.8,162.7 1105.3,160.6 1105.9,158.1 1106.4,156.1 1107.0,154.0 1107.6,151.9 1108.1,149.6 1108.6,147.1 1109.1,144.7 1109.6,142.4 1110.1,140.1 1110.6,137.8 1111.0,135.6 1111.5,133.4 1111.9,131.6 1112.3,129.5 1112.8,127.8 1113.2,125.8 1113.7,123.4 1114.3,120.8 1114.9,118.3 1115.4,116.6 1116.0,114.8 1116.5,112.7 1117.3,110.1 1118.2,107.2 1119.8,103.2 1122.1,99.7 1125.0,96.5 1128.5,93.8 1130.5,92.5 1132.6,91.5 1134.7,90.5 1136.7,89.5 1138.8,88.5 1140.9,87.5 1143.0,86.9 1145.0,86.2 1147.1,85.7 1149.2,84.8 1151.3,84.2 1153.4,83.6 1155.5,83.1 1157.6,82.6 1159.8,82.4 1161.9,82.0 1164.0,81.9 1166.2,81.7 1168.3,81.3 1170.5,80.6 1172.6,80.2 1174.8,79.9 1176.9,79.9 1179.0,79.6 1181.2,79.6 1183.4,79.5 1185.5,79.1 1187.7,78.3 1190.0,78.0 1192.3,77.8 1194.7,77.8 1197.0,77.6 1199.4,77.6 1201.5,77.4 1203.6,77.3 1205.7,77.1 1207.8,77.1 1210.0,76.7 1212.3,76.5 1214.7,76.5 1217.0,76.7 1219.4,76.7 1221.4,76.6 1223.5,76.4 1225.6,76.4 1227.6,76.6 1230.2,76.6 1232.7,76.6 1235.3,76.5 1237.6,76.6 1240.0,76.6 1242.3,76.5 1244.5,76.4 1246.7,76.1 1248.8,76.2 1251.8,76.1 1254.7,75.9 1257.6,75.7 1260.6,75.7 1263.5,75.9 1266.4,75.6 1269.4,75.0 1272.3,74.6 1275.2,74.7 1278.2,74.9 1281.1,74.9 1284.1,75.1 1287.0,74.9 1289.9,74.7 1292.9,74.2 1295.8,73.9 1298.8,73.5 1301.7,73.0 1304.6,72.9 1307.6,72.6 1310.5,73.0 1313.4,72.7 1316.4,72.9 1319.3,72.8 1322.2,72.6 1325.2,72.5 1327.4,72.5 1329.6,72.7 1332.5,72.9 1334.0,73.0 1334.0,79.0 1332.5,78.8 1329.6,78.5 1327.4,78.4 1325.2,78.6 1322.2,78.8 1319.3,79.0 1316.4,79.1 1313.4,79.0 1310.5,79.2 1307.6,79.1 1304.6,79.5 1301.7,79.6 1298.8,80.2 1295.8,80.5 1292.9,80.6 1289.9,80.9 1287.0,80.9 1284.1,81.1 1281.1,81.0 1278.2,81.4 1275.2,81.4 1272.3,81.6 1269.4,81.8 1266.4,82.1 1263.5,82.5 1260.6,82.4 1257.6,82.8 1254.7,82.8 1251.8,83.1 1248.8,82.9 1246.7,82.8 1244.5,83.2 1242.3,83.3 1240.0,83.5 1237.6,83.2 1235.3,83.4 1232.7,83.3 1230.2,83.5 1227.6,83.8 1225.6,83.6 1223.5,83.6 1221.4,83.3 1219.4,83.2 1217.0,83.3 1214.7,83.3 1212.3,83.5 1210.0,83.5 1207.8,83.8 1205.7,84.1 1203.6,84.3 1201.5,84.3 1199.4,84.6 1197.0,84.9 1194.7,85.5 1192.3,85.4 1190.0,85.7 1187.7,85.7 1185.5,86.1 1183.4,86.3 1181.2,86.6 1179.0,87.2 1176.9,87.6 1174.8,88.0 1172.6,88.0 1170.5,88.5 1168.3,89.0 1166.2,89.2 1164.0,89.2 1161.9,89.4 1159.8,90.1 1157.6,90.5 1155.5,91.1 1153.4,91.5 1151.3,92.0 1149.2,92.4 1147.1,93.0 1145.0,93.7 1143.0,94.4 1140.9,95.3 1138.8,96.1 1136.7,97.2 1134.7,98.0 1132.6,99.3 1130.5,100.5 1128.5,101.9 1125.0,104.5 1122.1,108.1 1119.8,111.7 1118.2,115.9 1117.3,118.8 1116.5,121.6 1116.0,124.0 1115.4,125.7 1114.9,128.0 1114.3,130.3 1113.7,132.7 1113.2,134.8 1112.8,136.9 1112.3,139.2 1111.9,141.6 1111.5,143.6 1111.0,146.0 1110.6,148.1 1110.1,150.3 1109.6,152.2 1109.1,154.4 1108.6,156.9 1108.1,159.4 1107.6,161.9 1107.0,164.3 1106.4,166.5 1105.9,168.7 1105.3,171.0 1104.8,172.9 1104.3,175.3 1103.8,177.3 1103.3,179.7 1102.8,181.5 1102.3,184.0 1101.7,185.9 1101.2,188.1 1100.6,190.1 1100.0,192.9 1099.4,195.7 1098.8,198.4 1098.3,200.8 1097.7,203.3 1097.2,205.5 1096.6,208.4 1096.0,211.2 1095.5,213.3 1095.0,215.1 1094.4,217.8 1094.1,219.2" fill="#DA8BC3" fill-opacity="0.18"/>
<polygon points="1079.2,194.6 1079.6,192.8 1080.0,191.2 1080.4,189.1 1080.8,187.1 1081.2,185.1 1081.6,183.5 1082.0,181.4 1082.4,179.1 1082.8,176.9 1083.2,175.0 1083.6,173.1 1084.0,171.1 1084.4,168.9 1084.8,166.9 1085.2,164.7 1085.6,162.6 1086.0,160.3 1086.4,158.4 1086.8,156.3 1087.2,154.4 1087.6,152.3 1088.0,150.4 1088.4,148.4 1088.8,146.8 1089.2,144.8 1091.4,141.4 1093.6,137.6 1095.8,134.1 1098.0,130.7 1100.2,127.3 1102.4,123.8 1104.6,120.0 1106.8,116.4 1109.0,112.7 1111.2,110.1 1113.4,107.6 1115.7,105.1 1117.9,102.8 1120.1,100.4 1122.3,98.0 1124.5,96.3 1126.7,94.3 1128.9,92.6 1131.1,90.5 1133.3,88.8 1135.5,86.9 1137.6,85.4 1139.6,83.8 1141.7,82.2 1143.8,81.2 1145.9,79.7 1147.9,78.3 1150.0,76.5 1152.0,75.2 1154.0,73.5 1156.0,71.9 1158.0,70.2 1160.0,68.5 1162.0,66.9 1164.0,65.0 1166.0,63.7 1168.0,62.2 1170.0,61.8 1172.0,60.9 1174.0,59.8 1176.0,58.7 1178.0,57.8 1180.0,57.2 1182.0,56.7 1184.0,56.8 1186.0,56.3 1188.0,55.8 1190.0,55.4 1192.0,55.3 1194.0,55.0 1196.0,54.2 1198.0,53.6 1200.0,53.1 1202.0,53.1 1204.0,52.7 1206.0,52.5 1208.0,52.3 1210.0,51.9 1212.0,51.4 1214.0,50.8 1216.0,50.8 1218.0,50.7 1220.0,50.4 1222.0,50.0 1224.0,49.4 1226.0,49.0 1228.0,48.7 1230.0,48.6 1232.0,48.2 1234.0,48.1 1236.0,47.7 1238.0,47.5 1240.0,47.2 1242.0,47.0 1244.0,46.8 1246.0,46.9 1248.0,46.5 1250.0,46.2 1252.0,46.0 1254.0,46.0 1256.0,45.9 1258.0,45.3 1260.0,44.7 1262.0,44.4 1264.0,44.3 1266.0,44.2 1268.0,43.9 1270.0,43.7 1272.0,43.6 1274.0,43.3 1276.0,43.2 1278.0,43.0 1280.0,42.9 1282.0,42.4 1284.0,41.8 1286.0,41.8 1288.0,41.8 1290.0,41.8 1292.0,41.6 1294.0,41.4 1296.0,41.0 1298.0,40.5 1300.0,40.2 1302.0,40.4 1304.0,40.6 1306.0,40.3 1308.0,39.8 1310.0,39.2 1312.0,39.1 1314.0,39.2 1316.0,39.1 1318.0,38.6 1320.0,38.1 1322.0,38.1 1324.0,38.2 1326.0,38.1 1328.0,37.9 1330.0,37.5 1332.0,37.1 1334.0,36.4 1334.0,45.6 1332.0,45.8 1330.0,46.2 1328.0,46.6 1326.0,47.0 1324.0,47.3 1322.0,47.3 1320.0,47.7 1318.0,47.7 1316.0,48.0 1314.0,48.0 1312.0,48.5 1310.0,48.8 1308.0,49.1 1306.0,49.2 1304.0,49.2 1302.0,49.7 1300.0,49.8 1298.0,50.2 1296.0,50.1 1294.0,50.8 1292.0,51.1 1290.0,51.6 1288.0,51.9 1286.0,51.8 1284.0,52.4 1282.0,52.6 1280.0,53.2 1278.0,53.4 1276.0,53.6 1274.0,53.7 1272.0,54.0 1270.0,54.2 1268.0,54.3 1266.0,54.3 1264.0,54.5 1262.0,55.0 1260.0,55.3 1258.0,55.7 1256.0,56.0 1254.0,56.2 1252.0,56.1 1250.0,56.3 1248.0,56.7 1246.0,57.0 1244.0,57.4 1242.0,57.9 1240.0,58.3 1238.0,58.2 1236.0,58.5 1234.0,59.0 1232.0,59.5 1230.0,60.0 1228.0,60.0 1226.0,60.1 1224.0,60.4 1222.0,60.9 1220.0,61.3 1218.0,61.5 1216.0,61.8 1214.0,62.3 1212.0,62.8 1210.0,63.5 1208.0,64.0 1206.0,64.4 1204.0,64.9 1202.0,65.4 1200.0,66.1 1198.0,66.1 1196.0,66.0 1194.0,66.1 1192.0,66.5 1190.0,67.2 1188.0,67.6 1186.0,68.1 1184.0,68.6 1182.0,69.3 1180.0,70.1 1178.0,70.8 1176.0,71.4 1174.0,72.2 1172.0,72.9 1170.0,73.8 1168.0,74.7 1165.8,77.4 1163.7,79.7 1161.5,82.1 1159.3,84.5 1157.2,87.2 1155.0,90.2 1152.9,94.5 1150.7,98.9 1148.6,102.6 1146.5,106.7 1144.3,110.4 1142.2,114.9 1139.9,121.4 1137.6,128.1 1135.2,134.6 1132.9,141.5 1130.6,148.0 1128.4,149.7 1126.3,151.5 1124.1,153.7 1122.0,155.8 1119.8,157.6 1117.6,159.6 1115.5,161.9 1113.3,164.3 1111.2,166.3 1109.0,168.3 1106.8,170.4 1104.6,172.2 1102.4,174.1 1100.2,176.2 1098.0,178.9 1095.8,181.0 1093.6,183.2 1091.4,185.1 1089.2,187.4 1087.2,192.1 1085.2,197.1 1083.2,202.3 1081.2,207.3 1079.2,211.9" fill="#55A868" fill-opacity="0.18"/>
<polygon points="1079.2,188.1 1079.6,186.7 1080.0,185.3 1080.5,184.1 1080.9,182.8 1081.3,181.1 1081.7,178.9 1082.1,177.5 1082.6,176.1 1083.0,175.0 1083.4,172.9 1083.8,171.1 1084.2,169.2 1084.6,167.4 1085.1,166.5 1085.5,165.0 1085.9,163.6 1086.3,161.3 1086.7,159.9 1087.1,158.4 1087.6,157.2 1087.9,155.5 1088.3,154.5 1088.7,153.0 1089.0,151.8 1089.4,149.5 1089.8,148.1 1090.1,146.5 1090.5,145.8 1090.8,144.5 1091.2,143.2 1091.6,141.9 1091.9,140.2 1092.3,138.5 1092.7,136.4 1093.0,134.5 1093.4,132.9 1093.8,132.0 1094.1,130.5 1094.5,129.6 1094.8,127.1 1095.2,126.0 1095.5,123.7 1095.9,122.9 1096.2,121.4 1096.7,119.9 1097.1,117.7 1097.6,115.4 1098.0,113.4 1098.5,112.2 1098.9,110.8 1099.4,109.3 1099.9,107.4 1100.3,105.9 1103.2,102.1 1105.2,100.2 1107.1,99.1 1108.7,97.6 1110.2,96.9 1111.7,95.5 1113.5,93.5 1115.2,91.8 1117.0,90.3 1118.7,88.7 1120.5,87.0 1122.2,84.7 1123.9,81.2 1125.7,77.6 1127.4,74.9 1129.1,72.3 1130.9,70.5 1132.6,68.0 1134.3,66.7 1136.1,64.4 1137.8,62.2 1139.5,61.0 1141.1,60.1 1142.8,59.7 1144.4,58.5 1146.0,57.8 1147.6,57.0 1149.3,55.8 1151.0,54.4 1152.8,52.8 1154.6,52.1 1156.4,50.9 1158.2,50.3 1160.1,49.0 1161.9,47.9 1163.8,46.6 1165.6,45.4 1167.4,44.4 1169.2,42.6 1170.8,41.8 1172.5,40.8 1174.1,40.4 1175.7,39.5 1177.5,39.1 1179.3,37.9 1181.1,37.5 1182.9,37.1 1184.5,36.1 1186.1,34.7 1187.7,33.9 1189.3,34.2 1191.1,34.1 1193.0,33.5 1194.8,32.6 1196.8,32.3 1198.7,32.4 1200.7,32.5 1202.3,32.6 1203.9,32.6 1205.5,32.7 1207.1,32.7 1208.9,32.3 1210.8,32.0 1212.6,32.4 1214.1,31.6 1215.7,31.0 1217.2,30.1 1218.7,29.1 1220.2,28.6 1221.8,27.8 1223.3,29.0 1224.8,29.2 1226.3,29.4 1228.4,29.2 1230.4,29.0 1232.2,29.5 1234.1,29.9 1236.9,31.6 1239.0,33.9 1240.7,34.9 1242.3,35.0 1243.9,34.6 1245.5,34.1 1247.1,34.3 1249.1,34.1 1251.2,33.8 1253.0,34.0 1254.7,33.3 1256.8,33.7 1258.8,33.9 1260.4,34.4 1262.0,34.5 1263.6,34.6 1265.1,35.4 1266.7,35.8 1268.2,36.7 1269.8,37.4 1271.4,38.8 1272.9,38.4 1274.7,39.4 1276.5,40.0 1278.8,42.1 1281.2,41.7 1283.5,40.2 1286.5,40.9 1288.2,42.3 1290.0,43.3 1291.5,44.7 1293.1,46.1 1294.7,47.0 1296.6,48.1 1298.6,49.0 1300.5,50.9 1302.1,50.7 1303.7,51.2 1305.2,51.4 1307.0,50.5 1308.8,49.6 1310.5,48.2 1312.3,46.1 1314.0,42.4 1315.8,39.0 1317.6,37.7 1319.3,35.8 1321.1,34.9 1322.8,34.0 1324.9,34.5 1326.9,34.6 1328.5,35.1 1330.1,36.1 1331.7,37.4 1334.0,38.7 1334.0,51.3 1331.7,49.7 1330.1,48.5 1328.5,47.3 1326.9,47.5 1324.9,47.5 1322.8,46.9 1321.1,47.4 1319.3,48.0 1317.6,50.6 1315.8,51.9 1314.0,55.2 1312.3,58.6 1310.5,61.0 1308.8,63.7 1307.0,65.1 1305.2,67.0 1303.7,67.1 1302.1,66.9 1300.5,66.9 1298.6,64.4 1296.6,63.1 1294.7,61.0 1293.1,60.2 1291.5,58.8 1290.0,57.6 1288.2,56.3 1286.5,54.0 1283.5,52.8 1281.2,53.4 1278.8,54.0 1276.5,52.2 1274.7,51.8 1272.9,50.4 1271.4,50.6 1269.8,49.3 1268.2,48.9 1266.7,48.1 1265.1,48.5 1263.6,47.7 1262.0,47.7 1260.4,47.1 1258.8,46.8 1256.8,46.9 1254.7,46.6 1253.0,47.1 1251.2,47.0 1249.1,47.6 1247.1,48.4 1245.5,48.4 1243.9,47.8 1242.3,47.2 1240.7,46.5 1239.0,45.7 1236.9,43.2 1234.1,40.8 1232.2,39.4 1230.4,38.2 1228.4,37.4 1226.3,37.4 1224.8,36.8 1223.3,37.5 1221.8,36.4 1220.2,37.1 1218.7,37.3 1217.2,38.3 1215.7,39.1 1214.1,39.8 1212.6,40.5 1210.8,40.4 1208.9,40.7 1207.1,40.7 1205.5,40.9 1203.9,40.9 1202.3,41.3 1200.7,40.8 1198.7,40.6 1196.8,40.5 1194.8,40.9 1193.0,41.9 1191.1,42.5 1189.3,42.4 1187.7,42.6 1186.1,43.6 1184.5,44.3 1182.9,44.7 1181.1,44.7 1179.3,45.7 1177.5,46.5 1175.7,47.7 1174.1,48.1 1172.5,48.9 1170.8,49.3 1169.2,50.3 1167.4,52.0 1165.6,53.2 1163.8,54.9 1161.9,55.7 1160.1,56.8 1158.2,57.4 1156.4,58.8 1154.6,60.4 1152.8,61.7 1151.0,62.5 1149.3,63.5 1147.6,64.6 1146.0,65.8 1144.4,66.2 1142.8,66.6 1141.1,67.4 1139.5,69.0 1137.8,71.0 1136.1,73.3 1134.3,75.2 1132.6,76.9 1130.9,79.1 1129.1,81.4 1127.4,83.3 1125.7,85.9 1123.9,89.1 1122.2,92.5 1120.5,94.6 1118.7,96.2 1117.0,98.2 1115.2,99.6 1113.5,101.5 1111.7,103.0 1110.2,104.3 1108.7,105.4 1107.1,107.0 1105.2,108.9 1103.2,110.5 1100.3,114.2 1099.9,115.4 1099.4,117.2 1098.9,119.2 1098.5,121.2 1098.0,122.8 1097.6,124.6 1097.1,126.4 1096.7,128.2 1096.2,129.7 1095.9,131.2 1095.5,132.2 1095.2,133.8 1094.8,134.9 1094.5,137.2 1094.1,138.6 1093.8,140.0 1093.4,141.0 1093.0,142.5 1092.7,144.1 1092.3,146.1 1091.9,147.3 1091.6,149.1 1091.2,150.7 1090.8,152.6 1090.5,154.1 1090.1,154.8 1089.8,156.6 1089.4,158.1 1089.0,159.7 1088.7,161.4 1088.3,162.2 1087.9,163.9 1087.6,164.7 1087.1,166.4 1086.7,167.5 1086.3,169.0 1085.9,170.8 1085.5,172.6 1085.1,174.1 1084.6,175.7 1084.2,178.0 1083.8,180.3 1083.4,181.7 1083.0,183.0 1082.6,184.0 1082.1,185.5 1081.7,187.0 1081.3,189.0 1080.9,191.0 1080.5,192.4 1080.0,193.3 1079.6,194.4 1079.2,195.8" fill="#4C72B0" fill-opacity="0.18"/>
<polygon points="1079.2,190.0 1079.5,188.1 1079.8,186.1 1080.1,185.6 1080.5,184.3 1080.8,182.9 1081.1,180.3 1081.4,178.7 1081.7,177.2 1082.0,176.3 1082.3,174.3 1082.6,172.1 1083.0,170.1 1083.3,169.2 1083.6,168.2 1083.9,166.4 1084.2,165.1 1084.5,163.4 1084.8,161.4 1085.1,159.7 1085.5,158.4 1085.8,157.0 1086.2,155.2 1086.5,153.3 1086.9,151.8 1087.2,149.7 1087.6,148.1 1088.0,146.9 1088.2,145.3 1088.5,143.7 1088.7,141.2 1089.0,140.3 1089.2,138.7 1089.5,137.9 1089.8,135.8 1090.0,134.6 1090.2,133.4 1090.4,132.2 1090.6,130.4 1090.8,127.8 1091.1,126.1 1091.3,124.2 1091.5,123.0 1091.7,120.8 1092.0,119.5 1092.3,117.6 1092.6,116.3 1092.9,114.7 1093.2,112.8 1093.5,111.5 1093.8,109.9 1094.2,108.5 1094.6,106.1 1095.0,103.9 1095.4,102.8 1095.8,101.6 1096.2,100.7 1099.2,93.8 1100.8,91.9 1102.4,90.2 1105.3,88.2 1107.8,88.5 1110.8,87.2 1112.4,86.1 1114.1,85.4 1115.7,83.5 1117.3,82.1 1119.0,78.8 1120.6,75.6 1122.4,73.0 1124.2,69.9 1126.1,67.0 1128.0,63.5 1130.0,60.9 1132.0,58.9 1133.9,56.5 1135.8,53.8 1137.5,51.0 1139.1,48.6 1141.7,44.7 1143.2,43.5 1144.8,42.2 1146.5,41.5 1148.2,41.2 1149.8,40.6 1151.2,39.9 1152.8,39.3 1154.6,37.9 1156.4,36.8 1158.2,36.2 1160.1,36.5 1161.9,36.6 1163.8,36.0 1165.6,36.2 1167.4,36.4 1169.2,36.4 1170.8,35.9 1172.5,35.6 1174.1,35.6 1175.7,35.9 1177.5,35.6 1179.3,35.4 1181.1,35.8 1182.9,35.7 1184.6,35.0 1186.2,33.8 1187.9,33.8 1189.5,33.7 1191.1,33.4 1192.7,32.8 1194.2,32.4 1195.7,32.1 1197.2,31.1 1198.7,30.6 1200.2,30.9 1201.8,31.2 1203.3,30.7 1204.8,30.5 1206.3,30.3 1207.9,30.8 1209.4,30.5 1210.9,30.6 1212.4,30.3 1213.9,29.8 1215.5,28.9 1217.0,28.8 1218.5,28.9 1220.2,29.4 1222.0,29.4 1223.7,29.2 1225.4,29.0 1226.9,29.7 1228.5,30.0 1230.0,30.9 1232.1,29.7 1234.2,29.0 1236.2,26.8 1238.1,26.1 1239.7,26.4 1241.3,26.2 1243.0,25.3 1244.9,25.2 1246.9,25.3 1248.8,25.2 1250.6,25.0 1252.4,25.1 1254.1,25.5 1255.9,26.1 1257.5,26.5 1259.2,27.0 1260.8,26.7 1262.5,26.6 1264.1,26.1 1265.9,26.1 1267.8,26.2 1269.6,26.1 1271.4,26.1 1273.0,26.0 1274.7,26.2 1276.3,25.3 1277.9,24.1 1279.4,23.1 1281.0,22.4 1282.6,21.3 1285.5,19.1 1287.2,18.6 1288.9,18.4 1290.5,18.4 1292.3,18.4 1294.0,19.0 1295.8,18.5 1297.6,18.6 1299.3,18.7 1301.1,19.2 1302.9,19.7 1304.6,19.6 1306.4,19.0 1308.2,18.4 1309.9,17.9 1311.7,18.4 1313.3,18.5 1315.0,18.4 1316.6,17.5 1318.3,17.0 1319.9,17.5 1321.5,17.6 1323.0,18.2 1324.6,17.8 1326.2,18.2 1327.7,18.1 1329.3,18.5 1330.9,18.6 1332.4,18.6 1334.0,17.9 1334.0,24.5 1332.4,25.3 1330.9,25.6 1329.3,25.8 1327.7,25.4 1326.2,25.1 1324.6,24.4 1323.0,24.7 1321.5,24.9 1319.9,25.2 1318.3,24.9 1316.6,25.0 1315.0,25.2 1313.3,25.3 1311.7,25.4 1309.9,24.7 1308.2,25.2 1306.4,25.6 1304.6,26.5 1302.9,26.2 1301.1,25.6 1299.3,25.3 1297.6,25.3 1295.8,25.8 1294.0,26.0 1292.3,25.6 1290.5,25.7 1288.9,26.3 1287.2,26.6 1285.5,26.5 1282.6,28.5 1281.0,29.7 1279.4,30.4 1277.9,31.3 1276.3,32.3 1274.7,33.5 1273.0,33.0 1271.4,33.0 1269.6,32.8 1267.8,33.0 1265.9,33.7 1264.1,33.8 1262.5,34.1 1260.8,34.1 1259.2,34.7 1257.5,34.6 1255.9,34.0 1254.1,32.6 1252.4,32.1 1250.6,31.9 1248.8,32.6 1246.9,33.0 1244.9,33.0 1243.0,32.9 1241.3,33.0 1239.7,33.2 1238.1,32.8 1236.2,33.5 1234.2,34.9 1232.1,36.1 1230.0,37.3 1228.5,37.1 1226.9,36.9 1225.4,37.1 1223.7,37.0 1222.0,36.3 1220.2,36.3 1218.5,36.3 1217.0,36.4 1215.5,35.6 1213.9,36.1 1212.4,36.6 1210.9,37.2 1209.4,37.5 1207.9,38.0 1206.3,37.9 1204.8,38.4 1203.3,38.9 1201.8,38.9 1200.2,38.4 1198.7,38.5 1197.2,39.3 1195.7,39.9 1194.2,40.1 1192.7,40.2 1191.1,40.7 1189.5,40.5 1187.9,40.7 1186.2,40.7 1184.6,41.6 1182.9,42.3 1181.1,42.7 1179.3,42.8 1177.5,42.2 1175.7,42.6 1174.1,42.5 1172.5,42.7 1170.8,42.9 1169.2,43.3 1167.4,43.9 1165.6,43.6 1163.8,43.0 1161.9,43.1 1160.1,43.3 1158.2,43.7 1156.4,44.1 1154.6,44.5 1152.8,45.2 1151.2,46.0 1149.8,47.0 1148.2,48.3 1146.5,48.9 1144.8,49.4 1143.2,50.3 1141.7,51.5 1139.1,55.4 1137.5,58.3 1135.8,61.3 1133.9,64.4 1132.0,66.5 1130.0,68.3 1128.0,70.8 1126.1,74.1 1124.2,76.9 1122.4,80.1 1120.6,82.4 1119.0,85.3 1117.3,87.9 1115.7,89.9 1114.1,92.3 1112.4,93.1 1110.8,93.7 1107.8,94.4 1105.3,94.4 1102.4,96.9 1100.8,98.6 1099.2,100.1 1096.2,106.3 1095.8,108.0 1095.4,109.8 1095.0,111.1 1094.6,113.1 1094.2,114.7 1093.8,117.0 1093.5,118.3 1093.2,120.3 1092.9,121.5 1092.6,123.7 1092.3,125.2 1092.0,127.6 1091.7,128.8 1091.5,130.5 1091.3,131.6 1091.1,133.3 1090.8,135.1 1090.6,137.2 1090.4,139.4 1090.2,140.7 1090.0,142.4 1089.8,143.3 1089.5,144.7 1089.2,145.7 1089.0,147.3 1088.7,149.0 1088.5,150.8 1088.2,152.1 1088.0,153.3 1087.6,155.1 1087.2,157.4 1086.9,160.0 1086.5,161.1 1086.2,162.5 1085.8,164.3 1085.5,166.2 1085.1,167.6 1084.8,168.7 1084.5,169.9 1084.2,172.0 1083.9,173.5 1083.6,176.0 1083.3,176.9 1083.0,178.3 1082.6,179.9 1082.3,181.5 1082.0,182.6 1081.7,183.6 1081.4,185.4 1081.1,187.8 1080.8,190.2 1080.5,192.0 1080.1,193.2 1079.8,194.0 1079.5,195.9 1079.2,198.2" fill="#DD8452" fill-opacity="0.18"/>
<polygon points="1079.2,191.2 1079.5,189.6 1079.8,187.7 1080.1,185.7 1080.5,183.7 1080.8,182.0 1081.1,180.6 1081.4,178.7 1081.7,177.2 1082.0,175.2 1082.3,174.0 1082.6,172.3 1083.0,170.8 1083.3,169.5 1083.6,168.1 1083.9,166.9 1084.2,165.4 1084.5,164.2 1084.8,162.1 1085.1,160.2 1085.5,158.5 1085.8,157.1 1086.2,156.1 1086.5,154.0 1086.9,152.6 1087.2,150.4 1087.6,149.4 1088.0,147.4 1088.2,146.0 1088.5,144.1 1088.8,143.0 1089.1,141.9 1089.3,140.5 1089.6,138.9 1089.9,137.2 1090.2,135.9 1090.4,134.2 1090.6,132.3 1090.9,130.4 1091.1,128.6 1091.3,127.5 1091.6,126.6 1091.8,125.1 1092.0,123.0 1092.4,120.8 1092.7,119.1 1093.0,118.0 1093.3,116.8 1093.6,114.9 1093.9,113.1 1094.2,111.3 1094.7,109.4 1095.1,107.8 1095.5,106.3 1095.9,105.7 1096.3,104.5 1096.8,102.7 1099.5,95.5 1101.0,93.1 1102.6,92.1 1105.3,90.0 1107.8,89.8 1110.8,87.4 1112.4,86.8 1114.1,86.0 1115.7,84.6 1117.3,82.2 1119.0,79.1 1120.6,76.6 1122.7,73.0 1124.8,69.4 1126.5,66.3 1128.3,63.5 1130.0,60.0 1131.8,57.8 1133.6,55.6 1135.5,56.6 1137.2,55.4 1138.8,53.9 1140.3,52.3 1141.9,50.3 1143.4,49.1 1145.1,47.5 1146.8,46.3 1148.9,46.2 1150.6,45.0 1152.3,43.5 1153.8,41.9 1155.3,40.6 1156.8,39.3 1158.3,38.3 1159.9,37.4 1161.4,36.5 1162.9,35.8 1164.5,35.1 1166.0,34.1 1167.5,33.6 1169.0,33.2 1170.6,32.6 1172.1,32.5 1173.6,31.9 1175.1,31.6 1176.7,30.3 1178.2,30.1 1179.7,29.3 1181.2,28.5 1182.8,26.4 1184.3,25.2 1186.0,23.6 1187.8,22.5 1189.5,21.6 1191.5,20.6 1193.5,19.9 1195.5,18.3 1197.0,19.0 1198.5,18.5 1200.0,18.7 1201.6,19.0 1203.2,19.9 1205.1,20.6 1207.1,19.9 1208.6,20.3 1210.2,19.9 1211.7,20.4 1213.2,20.0 1214.8,19.8 1216.3,19.8 1217.8,18.9 1219.3,17.7 1220.8,16.8 1222.5,16.2 1224.2,16.3 1225.8,15.5 1227.7,15.5 1229.5,14.8 1231.3,15.4 1233.5,15.6 1235.6,15.7 1238.5,16.7 1240.4,16.4 1242.3,17.6 1243.9,17.6 1245.5,18.4 1247.1,18.6 1249.0,18.6 1251.0,18.8 1252.9,18.3 1254.7,17.6 1256.5,17.3 1258.2,16.9 1260.0,16.7 1261.6,15.9 1263.2,15.7 1264.8,15.2 1266.5,15.2 1268.4,15.4 1270.4,15.2 1272.3,15.2 1274.3,15.1 1276.3,15.8 1278.2,16.2 1280.2,16.6 1282.1,17.3 1284.1,17.9 1285.7,18.8 1287.3,18.6 1288.9,18.3 1290.5,17.2 1292.3,16.6 1294.0,16.3 1295.8,16.5 1297.6,15.9 1299.5,15.0 1301.5,14.3 1303.4,13.2 1305.0,12.5 1306.6,12.1 1308.2,12.3 1309.9,12.6 1311.7,12.7 1313.5,13.2 1315.4,14.3 1317.4,15.5 1319.3,16.1 1321.3,17.1 1323.3,17.1 1325.2,18.1 1327.2,18.2 1329.1,18.4 1331.1,18.4 1334.0,19.0 1334.0,26.7 1331.1,26.4 1329.1,25.9 1327.2,25.4 1325.2,24.3 1323.3,23.7 1321.3,23.3 1319.3,22.3 1317.4,21.6 1315.4,20.2 1313.5,19.9 1311.7,20.0 1309.9,20.3 1308.2,19.6 1306.6,19.7 1305.0,20.4 1303.4,20.9 1301.5,21.3 1299.5,21.4 1297.6,22.1 1295.8,22.9 1294.0,23.0 1292.3,24.0 1290.5,24.5 1288.9,25.1 1287.3,24.9 1285.7,24.8 1284.1,24.7 1282.1,24.8 1280.2,24.0 1278.2,23.7 1276.3,22.7 1274.3,22.1 1272.3,21.8 1270.4,21.6 1268.4,22.0 1266.5,21.9 1264.8,22.4 1263.2,23.2 1261.6,23.3 1260.0,23.6 1258.2,24.2 1256.5,24.6 1254.7,25.2 1252.9,24.8 1251.0,24.8 1249.0,24.7 1247.1,25.1 1245.5,24.8 1243.9,24.4 1242.3,24.4 1240.4,23.9 1238.5,23.9 1235.6,23.1 1233.5,22.8 1231.3,22.2 1229.5,21.6 1227.7,22.0 1225.8,22.0 1224.2,23.4 1222.5,23.6 1220.8,24.7 1219.3,24.8 1217.8,26.0 1216.3,26.1 1214.8,26.3 1213.2,26.4 1211.7,26.8 1210.2,26.8 1208.6,27.0 1207.1,27.2 1205.1,26.8 1203.2,26.0 1201.6,24.8 1200.0,24.8 1198.5,25.3 1197.0,26.4 1195.5,26.6 1193.5,27.8 1191.5,28.1 1189.5,28.8 1187.8,29.3 1186.0,30.6 1184.3,31.8 1182.8,33.6 1181.2,35.0 1179.7,36.1 1178.2,36.9 1176.7,37.9 1175.1,39.5 1173.6,39.8 1172.1,39.4 1170.6,39.6 1169.0,40.2 1167.5,41.2 1166.0,41.4 1164.5,41.9 1162.9,43.2 1161.4,43.3 1159.9,44.4 1158.3,44.6 1156.8,46.2 1155.3,47.6 1153.8,48.9 1152.3,50.7 1150.6,51.7 1148.9,52.8 1146.8,52.6 1145.1,53.8 1143.4,55.0 1141.9,56.6 1140.3,58.9 1138.8,61.3 1137.2,62.4 1135.5,63.6 1133.6,62.7 1131.8,64.8 1130.0,67.0 1128.3,69.8 1126.5,73.2 1124.8,76.4 1122.7,80.8 1120.6,84.5 1119.0,86.8 1117.3,89.1 1115.7,90.8 1114.1,92.6 1112.4,93.8 1110.8,95.0 1107.8,97.0 1105.3,97.3 1102.6,99.0 1101.0,100.3 1099.5,102.2 1096.8,109.1 1096.3,110.6 1095.9,111.8 1095.5,113.1 1095.1,115.0 1094.7,116.7 1094.2,118.4 1093.9,120.1 1093.6,122.2 1093.3,124.0 1093.0,125.3 1092.7,126.3 1092.4,128.1 1092.0,130.1 1091.8,132.2 1091.6,133.9 1091.3,135.3 1091.1,136.5 1090.9,138.0 1090.6,139.7 1090.4,141.2 1090.2,142.8 1089.9,144.4 1089.6,146.2 1089.3,147.7 1089.1,149.1 1088.8,150.4 1088.5,151.4 1088.2,152.4 1088.0,153.7 1087.6,155.9 1087.2,157.5 1086.9,159.9 1086.5,161.6 1086.2,163.8 1085.8,164.3 1085.5,165.3 1085.1,166.7 1084.8,169.0 1084.5,170.7 1084.2,171.9 1083.9,173.1 1083.6,174.9 1083.3,177.0 1083.0,178.4 1082.6,179.8 1082.3,181.1 1082.0,182.7 1081.7,184.6 1081.4,186.2 1081.1,188.0 1080.8,189.6 1080.5,191.4 1080.1,193.0 1079.8,194.5 1079.5,196.1 1079.2,197.8" fill="#C44E52" fill-opacity="0.18"/>
<polyline points="1079.2,129.8 1081.3,129.2 1083.3,128.6 1085.4,127.9 1087.4,127.3 1089.5,126.7 1091.5,126.1 1093.6,125.5 1095.6,124.9 1097.7,124.3 1099.8,123.8 1101.8,123.1 1103.9,122.6 1105.9,122.0 1108.0,121.4 1110.0,120.8 1112.1,120.2 1114.2,119.5 1116.2,119.0 1118.3,118.4 1120.3,117.9 1122.4,117.2 1124.4,116.6 1126.5,116.0 1128.5,115.4 1130.6,114.8 1132.7,112.4 1134.7,110.2 1136.8,107.8 1138.9,105.5 1140.9,103.2 1143.0,100.8 1145.1,98.4 1147.1,96.0 1149.2,93.7 1151.3,91.4 1153.3,89.1 1155.4,86.7 1157.4,86.7 1159.4,86.6 1161.4,86.6 1163.5,86.5 1165.5,86.5 1167.5,86.5 1169.5,86.4 1171.5,86.3 1173.5,86.3 1175.5,86.3 1177.6,86.3 1179.6,86.2 1181.6,86.2 1183.6,86.2 1185.6,86.1 1187.6,86.0 1189.6,86.0 1191.7,86.0 1193.7,85.9 1195.7,85.9 1197.7,85.8 1199.7,85.7 1201.7,85.7 1203.7,85.7 1205.8,85.6 1207.8,85.6 1209.8,85.6 1211.8,85.6 1213.8,85.5 1215.8,85.4 1217.8,85.4 1219.9,85.4 1221.9,85.3 1223.9,85.3 1225.9,85.2 1227.9,85.1 1229.9,85.1 1231.9,85.1 1234.0,85.1 1236.0,85.0 1238.0,84.9 1240.0,84.8 1242.0,84.8 1244.0,84.8 1246.0,84.8 1248.0,84.7 1250.0,84.7 1252.0,84.7 1254.0,84.6 1256.0,84.6 1258.0,84.6 1260.0,84.6 1262.0,84.6 1264.0,84.5 1266.0,84.4 1268.0,84.4 1270.0,84.4 1272.0,84.4 1274.0,84.4 1276.0,84.4 1278.0,84.2 1280.0,84.3 1282.0,84.2 1284.0,84.2 1286.0,84.2 1288.0,84.2 1290.0,84.1 1292.0,84.0 1294.0,84.0 1296.0,83.9 1298.0,83.9 1300.0,83.9 1302.0,83.8 1304.0,83.8 1306.0,83.8 1308.0,83.7 1310.0,83.6 1312.0,83.6 1314.0,83.5 1316.0,83.5 1318.0,83.6 1320.0,83.6 1322.0,83.5 1324.0,83.4 1326.0,83.4 1328.0,83.4 1330.0,83.4 1332.0,83.3 1334.0,83.2" fill="none" stroke="#8172B3" stroke-width="1.30" stroke-linejoin="round"/>
<polyline points="1145.9,213.2 1146.4,211.4 1147.5,207.7 1148.3,204.8 1149.1,202.1 1149.8,199.7 1150.6,197.0 1151.3,194.4 1152.0,192.1 1152.8,189.9 1153.5,187.6 1155.9,181.3 1158.4,175.5 1160.9,170.4 1163.5,165.6 1166.1,161.4 1168.7,157.5 1171.3,154.3 1173.7,151.6 1175.8,150.2 1177.8,149.6 1179.5,150.1 1181.7,150.0 1184.3,149.6 1187.3,148.8 1190.7,147.4 1194.0,145.8 1197.0,143.9 1199.8,141.8 1202.3,139.1 1205.3,136.8 1208.8,135.2 1212.7,133.8 1214.8,133.4 1217.0,132.9 1219.1,132.6 1221.3,132.2 1223.4,131.8 1225.6,131.6 1227.7,131.6 1229.9,131.5 1232.1,131.3 1234.2,131.1 1236.4,130.7 1238.5,130.5 1240.7,130.1 1242.8,129.6 1245.0,128.7 1247.2,127.8 1249.3,126.8 1251.5,125.9 1253.6,124.6 1255.8,123.3 1257.9,121.4 1260.1,119.6 1262.2,117.3 1264.4,114.7 1266.6,111.7 1268.7,108.9 1270.8,106.4 1272.8,104.1 1276.7,99.4 1280.4,95.4 1283.8,92.0 1287.8,89.3 1290.0,88.3 1292.2,87.2 1294.6,86.4 1297.1,85.6 1299.8,85.1 1302.4,84.9 1305.0,84.6 1307.6,84.2 1310.2,83.6 1312.7,83.0 1315.1,82.5 1317.6,82.0 1319.9,81.3 1322.2,80.7 1326.1,80.1 1329.0,79.6 1331.1,79.5 1332.2,79.7 1333.1,80.0 1333.7,80.2 1334.0,80.4" fill="none" stroke="#937860" stroke-width="1.30" stroke-linejoin="round"/>
<polyline points="1269.1,210.9 1270.2,210.1 1272.5,208.4 1275.8,205.7 1278.0,203.8 1280.3,202.0 1282.6,200.1 1284.8,198.3 1287.1,196.5 1289.4,194.7 1291.7,193.1 1294.1,191.4 1296.4,189.8 1298.8,188.1 1301.0,186.5 1303.3,185.0 1305.6,183.5 1307.8,182.0 1310.0,180.6 1312.1,179.3 1314.2,178.0 1316.4,176.8 1320.2,174.1 1323.8,171.6 1326.9,168.9 1329.8,166.3 1331.9,164.5 1333.3,163.3 1334.0,162.8" fill="none" stroke="#8C8C8C" stroke-width="1.30" stroke-linejoin="round"/>
<polyline points="1094.1,213.0 1094.4,211.7 1095.0,209.1 1095.5,207.1 1096.0,205.0 1096.6,202.2 1097.2,199.4 1097.7,197.2 1098.3,195.1 1098.8,193.0 1099.4,190.2 1100.0,187.5 1100.6,184.7 1101.2,182.7 1101.7,180.6 1102.3,178.6 1102.8,176.2 1103.3,174.2 1103.8,172.0 1104.3,170.0 1104.8,167.8 1105.3,166.0 1105.9,163.6 1106.4,161.4 1107.0,159.1 1107.6,156.7 1108.1,154.3 1108.6,151.7 1109.1,149.6 1109.6,147.4 1110.1,145.4 1110.6,142.9 1111.0,140.7 1111.5,138.3 1111.9,136.6 1112.3,134.5 1112.8,132.5 1113.2,130.3 1113.7,128.1 1114.3,125.6 1114.9,123.3 1115.4,121.2 1116.0,119.4 1116.5,117.1 1117.3,114.5 1118.2,111.6 1119.8,107.5 1122.1,103.8 1125.0,100.4 1128.5,97.7 1130.5,96.5 1132.6,95.5 1134.7,94.4 1136.7,93.5 1138.8,92.3 1140.9,91.3 1143.0,90.5 1145.0,90.0 1147.1,89.3 1149.2,88.6 1151.3,88.2 1153.4,87.7 1155.5,87.2 1157.6,86.8 1159.8,86.4 1161.9,85.9 1164.0,85.6 1166.2,85.4 1168.3,85.2 1170.5,84.7 1172.6,84.2 1174.8,83.9 1176.9,83.6 1179.0,83.4 1181.2,83.0 1183.4,82.9 1185.5,82.5 1187.7,82.0 1190.0,81.8 1192.3,81.5 1194.7,81.4 1197.0,81.1 1199.4,81.0 1201.5,80.7 1203.6,80.7 1205.7,80.5 1207.8,80.6 1210.0,80.2 1212.3,80.1 1214.7,79.8 1217.0,79.9 1219.4,79.9 1221.4,79.9 1223.5,80.0 1225.6,80.0 1227.6,80.1 1230.2,80.0 1232.7,79.9 1235.3,80.1 1237.6,79.9 1240.0,80.2 1242.3,79.9 1244.5,79.8 1246.7,79.6 1248.8,79.6 1251.8,79.5 1254.7,79.2 1257.6,79.3 1260.6,79.2 1263.5,79.2 1266.4,78.9 1269.4,78.5 1272.3,78.3 1275.2,78.2 1278.2,78.3 1281.1,78.1 1284.1,78.2 1287.0,78.0 1289.9,77.8 1292.9,77.5 1295.8,77.2 1298.8,76.7 1301.7,76.2 1304.6,76.0 1307.6,75.9 1310.5,76.0 1313.4,75.8 1316.4,75.6 1319.3,75.6 1322.2,75.6 1325.2,75.5 1327.4,75.5 1329.6,75.6 1332.5,75.9 1334.0,75.9" fill="none" stroke="#DA8BC3" stroke-width="1.30" stroke-linejoin="round"/>
<polyline points="1079.2,205.2 1079.7,203.1 1080.2,201.2 1080.6,199.0 1081.1,196.9 1081.6,194.8 1082.1,192.8 1082.5,191.0 1083.0,188.9 1083.5,186.8 1084.0,184.8 1084.4,182.8 1084.9,180.9 1085.4,178.9 1085.9,176.9 1086.3,174.8 1086.8,172.8 1087.3,170.8 1087.8,168.9 1088.2,166.8 1088.7,164.7 1089.2,162.7 1091.4,160.0 1093.6,157.4 1095.8,154.7 1098.0,151.8 1100.2,149.0 1102.4,146.2 1104.4,144.3 1106.4,142.6 1108.5,140.7 1110.5,139.0 1112.5,137.1 1114.5,135.3 1116.6,133.4 1118.6,131.6 1120.6,129.8 1122.6,127.4 1124.6,125.1 1126.6,122.6 1128.6,120.4 1130.6,118.1 1132.8,112.1 1135.0,105.9 1137.2,99.8 1139.5,96.8 1141.8,93.9 1144.2,91.0 1146.5,87.9 1148.8,84.8 1150.9,82.9 1152.9,81.0 1155.0,79.1 1157.0,76.9 1159.1,74.8 1161.4,73.3 1163.7,71.6 1166.0,69.9 1168.3,68.1 1170.6,67.4 1172.9,66.5 1175.2,65.8 1177.4,65.1 1179.7,64.4 1182.0,63.7 1184.1,63.1 1186.1,62.6 1188.2,62.1 1190.3,61.6 1192.4,61.1 1194.4,60.6 1196.5,60.1 1198.6,59.5 1200.7,59.0 1202.7,58.5 1204.8,58.2 1206.9,57.7 1209.0,57.4 1211.1,56.8 1213.3,56.5 1215.4,56.2 1217.5,55.9 1219.6,55.6 1221.7,55.3 1223.8,55.0 1226.0,54.5 1228.1,54.0 1230.2,53.5 1232.3,53.3 1234.4,53.3 1236.5,53.3 1238.5,53.0 1240.6,52.8 1242.7,52.6 1244.8,52.4 1246.9,52.2 1248.9,52.1 1251.0,52.0 1253.1,51.7 1255.2,51.4 1257.3,51.1 1259.3,51.0 1261.4,50.8 1263.5,50.7 1265.6,50.3 1267.8,49.9 1269.9,49.5 1272.0,49.1 1274.2,48.6 1276.3,48.0 1278.5,47.6 1280.6,47.2 1282.7,46.9 1284.9,46.3 1287.0,46.0 1289.1,45.7 1291.3,45.5 1293.4,45.1 1295.5,44.8 1297.7,44.6 1299.8,44.4 1302.0,44.1 1304.1,43.8 1306.2,43.4 1308.4,43.0 1310.5,42.6 1312.6,42.5 1314.8,42.4 1316.9,42.2 1319.0,42.0 1321.2,42.0 1323.3,42.0 1325.5,41.9 1327.6,41.7 1329.7,41.5 1331.9,41.5 1334.0,41.5" fill="none" stroke="#55A868" stroke-width="1.30" stroke-linejoin="round"/>
<polyline points="1079.2,192.1 1079.6,191.0 1080.0,189.8 1080.5,188.7 1080.9,187.1 1081.3,185.3 1081.7,183.4 1082.1,181.8 1082.6,180.4 1083.0,179.2 1083.4,177.7 1083.8,176.0 1084.2,173.9 1084.6,171.8 1085.1,170.5 1085.5,169.0 1085.9,167.7 1086.3,165.5 1086.7,164.0 1087.1,162.7 1087.6,161.3 1087.9,160.0 1088.3,158.4 1088.7,157.2 1089.0,155.7 1089.4,153.8 1089.8,152.4 1090.1,150.9 1090.5,149.9 1090.8,148.3 1091.2,146.7 1091.6,145.1 1091.9,143.7 1092.3,142.2 1092.7,140.5 1093.0,138.7 1093.4,137.1 1093.8,135.8 1094.1,134.5 1094.5,133.4 1094.8,131.4 1095.2,129.9 1095.5,127.9 1095.9,126.9 1096.2,125.4 1096.7,123.8 1097.1,121.8 1097.6,119.9 1098.0,118.0 1098.5,116.6 1098.9,115.1 1099.4,113.4 1099.9,111.6 1100.3,110.1 1103.2,106.0 1105.2,104.4 1107.1,102.7 1108.7,101.5 1110.2,100.6 1111.7,99.4 1113.5,97.7 1115.2,96.0 1117.0,94.4 1118.7,92.3 1120.5,90.5 1122.2,88.2 1123.9,85.2 1125.7,81.8 1127.4,79.2 1129.1,76.7 1130.9,74.7 1132.6,72.4 1134.3,70.7 1136.1,68.8 1137.8,66.5 1139.5,65.1 1141.1,63.9 1142.8,63.1 1144.4,62.2 1146.0,61.5 1147.6,60.7 1149.3,59.8 1151.0,58.5 1152.8,57.4 1154.6,56.3 1156.4,55.1 1158.2,54.0 1160.1,53.0 1161.9,51.9 1163.8,50.7 1165.6,49.2 1167.4,48.0 1169.2,46.6 1170.8,45.8 1172.5,44.9 1174.1,44.4 1175.7,43.8 1177.5,43.0 1179.3,42.1 1181.1,41.3 1182.9,40.8 1184.5,39.9 1186.1,39.0 1187.7,38.2 1189.3,38.0 1191.1,37.8 1193.0,37.2 1194.8,36.5 1196.8,36.2 1198.7,36.4 1200.7,36.6 1202.3,36.8 1203.9,36.7 1205.5,36.5 1207.1,36.5 1208.9,36.3 1210.8,36.1 1212.6,36.4 1214.1,35.8 1215.7,35.3 1217.2,34.0 1218.7,33.1 1220.2,32.7 1221.8,32.3 1223.3,32.9 1224.8,32.5 1226.3,33.1 1228.4,33.1 1230.4,33.5 1232.2,34.3 1234.1,35.4 1236.9,37.4 1239.0,39.6 1240.7,40.4 1242.3,40.9 1243.9,40.9 1245.5,40.8 1247.1,41.2 1249.1,40.9 1251.2,40.8 1253.0,40.4 1254.7,40.1 1256.8,40.0 1258.8,40.5 1260.4,40.7 1262.0,41.2 1263.6,41.3 1265.1,41.9 1266.7,42.0 1268.2,42.5 1269.8,43.3 1271.4,44.4 1272.9,44.5 1274.7,45.4 1276.5,46.1 1278.8,47.6 1281.2,47.6 1283.5,46.4 1286.5,47.4 1288.2,49.0 1290.0,50.2 1291.5,51.7 1293.1,53.0 1294.7,53.9 1296.6,55.8 1298.6,56.8 1300.5,58.9 1302.1,58.7 1303.7,59.4 1305.2,59.6 1307.0,58.1 1308.8,56.7 1310.5,54.6 1312.3,52.4 1314.0,48.9 1315.8,45.6 1317.6,44.0 1319.3,41.9 1321.1,41.0 1322.8,40.7 1324.9,41.0 1326.9,41.2 1328.5,41.4 1330.1,42.4 1331.7,43.4 1334.0,44.5" fill="none" stroke="#4C72B0" stroke-width="1.30" stroke-linejoin="round"/>
<polyline points="1079.2,194.1 1079.5,192.1 1079.8,190.3 1080.1,189.2 1080.5,187.7 1080.8,186.1 1081.1,184.1 1081.4,182.2 1081.7,180.9 1082.0,179.5 1082.3,178.0 1082.6,175.8 1083.0,174.2 1083.3,173.0 1083.6,172.0 1083.9,170.0 1084.2,168.5 1084.5,166.9 1084.8,165.2 1085.1,163.7 1085.5,162.2 1085.8,160.6 1086.2,158.9 1086.5,157.2 1086.9,155.8 1087.2,153.5 1087.6,151.6 1088.0,150.1 1088.2,148.5 1088.5,146.9 1088.7,144.8 1089.0,143.7 1089.2,142.1 1089.5,141.1 1089.8,139.4 1090.0,138.4 1090.2,136.8 1090.4,135.5 1090.6,133.4 1090.8,131.4 1091.1,129.6 1091.3,128.0 1091.5,126.8 1091.7,124.8 1092.0,123.4 1092.3,121.2 1092.6,119.8 1092.9,117.9 1093.2,116.4 1093.5,114.7 1093.8,113.5 1094.2,111.6 1094.6,109.5 1095.0,107.4 1095.4,106.2 1095.8,104.9 1096.2,103.7 1099.2,97.1 1100.8,95.1 1102.4,93.3 1105.3,91.1 1107.8,91.2 1110.8,90.3 1112.4,89.5 1114.1,88.9 1115.7,86.7 1117.3,84.8 1119.0,81.8 1120.6,78.9 1122.4,76.3 1124.2,73.3 1126.1,70.6 1128.0,67.6 1130.0,65.0 1132.0,62.8 1133.9,60.3 1135.8,57.5 1137.5,54.9 1139.1,52.5 1141.7,48.6 1143.2,47.4 1144.8,46.0 1146.5,45.0 1148.2,44.3 1149.8,43.4 1151.2,42.8 1152.8,42.3 1154.6,41.5 1156.4,40.9 1158.2,40.3 1160.1,40.0 1161.9,39.9 1163.8,39.6 1165.6,39.9 1167.4,39.9 1169.2,39.8 1170.8,39.6 1172.5,39.3 1174.1,39.2 1175.7,39.1 1177.5,38.7 1179.3,38.8 1181.1,39.1 1182.9,39.3 1184.6,38.5 1186.2,37.5 1187.9,37.2 1189.5,37.1 1191.1,37.1 1192.7,36.6 1194.2,36.5 1195.7,36.1 1197.2,35.4 1198.7,34.8 1200.2,34.8 1201.8,35.1 1203.3,34.9 1204.8,34.3 1206.3,33.8 1207.9,33.7 1209.4,33.7 1210.9,33.5 1212.4,33.3 1213.9,32.9 1215.5,32.7 1217.0,32.9 1218.5,32.8 1220.2,32.8 1222.0,32.7 1223.7,33.0 1225.4,32.8 1226.9,33.0 1228.5,33.3 1230.0,34.0 1232.1,33.0 1234.2,32.3 1236.2,30.7 1238.1,29.9 1239.7,29.7 1241.3,29.5 1243.0,28.9 1244.9,29.3 1246.9,29.4 1248.8,29.3 1250.6,28.9 1252.4,29.0 1254.1,29.1 1255.9,29.9 1257.5,30.2 1259.2,30.8 1260.8,30.6 1262.5,30.7 1264.1,30.4 1265.9,30.5 1267.8,30.2 1269.6,30.1 1271.4,29.8 1273.0,29.5 1274.7,29.4 1276.3,28.6 1277.9,27.7 1279.4,26.9 1281.0,26.1 1282.6,25.3 1285.5,23.2 1287.2,22.8 1288.9,22.6 1290.5,22.5 1292.3,22.5 1294.0,22.8 1295.8,22.4 1297.6,22.3 1299.3,22.3 1301.1,22.6 1302.9,23.0 1304.6,22.8 1306.4,22.2 1308.2,21.9 1309.9,21.9 1311.7,22.2 1313.3,22.2 1315.0,22.0 1316.6,21.5 1318.3,21.1 1319.9,21.2 1321.5,21.1 1323.0,21.2 1324.6,20.9 1326.2,21.4 1327.7,21.7 1329.3,22.1 1330.9,22.2 1332.4,21.9 1334.0,21.5" fill="none" stroke="#DD8452" stroke-width="1.30" stroke-linejoin="round"/>
<polyline points="1079.2,194.8 1079.5,192.8 1079.8,190.8 1080.1,188.9 1080.5,187.2 1080.8,185.8 1081.1,184.5 1081.4,182.7 1081.7,181.0 1082.0,178.8 1082.3,177.2 1082.6,175.7 1083.0,174.6 1083.3,173.3 1083.6,171.8 1083.9,170.1 1084.2,168.8 1084.5,167.6 1084.8,165.9 1085.1,163.8 1085.5,162.3 1085.8,160.9 1086.2,159.9 1086.5,157.8 1086.9,156.4 1087.2,154.2 1087.6,152.7 1088.0,150.6 1088.2,149.3 1088.5,148.0 1088.8,146.9 1089.1,145.8 1089.3,144.4 1089.6,142.8 1089.9,140.9 1090.2,139.4 1090.4,137.6 1090.6,135.6 1090.9,133.9 1091.1,132.6 1091.3,131.6 1091.6,130.3 1091.8,128.4 1092.0,126.5 1092.4,124.5 1092.7,122.7 1093.0,121.5 1093.3,120.2 1093.6,118.6 1093.9,116.7 1094.2,114.9 1094.7,113.2 1095.1,111.4 1095.5,109.7 1095.9,108.5 1096.3,107.2 1096.8,105.4 1099.5,98.6 1101.0,96.6 1102.6,95.6 1105.3,93.6 1107.8,93.3 1110.8,91.4 1112.4,90.6 1114.1,89.6 1115.7,87.7 1117.3,85.6 1119.0,82.9 1120.6,80.5 1122.7,76.8 1124.8,72.8 1126.5,69.5 1128.3,66.4 1130.0,63.3 1131.8,61.3 1133.6,59.0 1135.5,60.0 1137.2,58.7 1138.8,57.3 1140.3,55.3 1141.9,53.3 1143.4,52.0 1145.1,50.7 1146.8,49.4 1148.9,49.4 1150.6,48.0 1152.3,47.0 1153.8,45.7 1155.3,44.5 1156.8,43.2 1158.3,41.7 1159.9,41.0 1161.4,39.6 1162.9,39.3 1164.5,38.6 1166.0,37.9 1167.5,37.4 1169.0,36.4 1170.6,35.9 1172.1,35.9 1173.6,35.7 1175.1,35.7 1176.7,34.2 1178.2,33.8 1179.7,32.9 1181.2,31.9 1182.8,29.9 1184.3,28.4 1186.0,26.8 1187.8,25.9 1189.5,24.9 1191.5,24.4 1193.5,23.6 1195.5,22.6 1197.0,22.7 1198.5,22.0 1200.0,21.7 1201.6,21.9 1203.2,23.1 1205.1,23.8 1207.1,23.7 1208.6,23.7 1210.2,23.4 1211.7,23.6 1213.2,23.1 1214.8,22.9 1216.3,22.8 1217.8,22.4 1219.3,21.6 1220.8,21.0 1222.5,20.2 1224.2,20.0 1225.8,19.1 1227.7,19.2 1229.5,18.8 1231.3,19.2 1233.5,19.3 1235.6,19.5 1238.5,20.3 1240.4,20.4 1242.3,21.1 1243.9,21.3 1245.5,21.6 1247.1,21.8 1249.0,21.3 1251.0,21.9 1252.9,21.5 1254.7,21.5 1256.5,20.7 1258.2,20.3 1260.0,20.1 1261.6,19.9 1263.2,20.0 1264.8,19.3 1266.5,18.8 1268.4,18.5 1270.4,18.4 1272.3,18.4 1274.3,18.8 1276.3,19.4 1278.2,20.1 1280.2,20.4 1282.1,20.9 1284.1,21.3 1285.7,21.6 1287.3,21.6 1288.9,21.3 1290.5,20.8 1292.3,20.2 1294.0,19.8 1295.8,19.7 1297.6,19.0 1299.5,18.4 1301.5,17.8 1303.4,17.2 1305.0,16.6 1306.6,16.4 1308.2,16.5 1309.9,16.9 1311.7,16.6 1313.5,16.5 1315.4,17.2 1317.4,18.3 1319.3,19.4 1321.3,20.4 1323.3,20.7 1325.2,21.2 1327.2,21.8 1329.1,22.0 1331.1,22.2 1334.0,22.6" fill="none" stroke="#C44E52" stroke-width="1.30" stroke-linejoin="round"/>
</g>
<g>
<text x="1079.5" y="227.2" text-anchor="middle" fill="#4a4a4a" font-family="Liberation Serif, serif" font-size="11.5">0</text>
<text x="1130.7" y="227.2" text-anchor="middle" fill="#4a4a4a" font-family="Liberation Serif, serif" font-size="11.5">10000</text>
<text x="1181.9" y="227.2" text-anchor="middle" fill="#4a4a4a" font-family="Liberation Serif, serif" font-size="11.5">20000</text>
<text x="1233.1" y="227.2" text-anchor="middle" fill="#4a4a4a" font-family="Liberation Serif, serif" font-size="11.5">30000</text>
<text x="1284.3" y="227.2" text-anchor="middle" fill="#4a4a4a" font-family="Liberation Serif, serif" font-size="11.5">40000</text>
<text x="1335.5" y="227.2" text-anchor="middle" fill="#4a4a4a" font-family="Liberation Serif, serif" font-size="11.5">50000</text>
</g>
<text x="1059.3" y="10.6" text-anchor="end" fill="#4a4a4a" font-family="Liberation Serif, serif" font-size="11.5">50</text>
<text x="1059.3" y="39.7" text-anchor="end" fill="#4a4a4a" font-family="Liberation Serif, serif" font-size="11.5">0</text>
<text x="1059.3" y="68.8" text-anchor="end" fill="#4a4a4a" font-family="Liberation Serif, serif" font-size="11.5">−50</text>
<text x="1059.3" y="97.9" text-anchor="end" fill="#4a4a4a" font-family="Liberation Serif, serif" font-size="11.5">−100</text>
<text x="1059.3" y="127.0" text-anchor="end" fill="#4a4a4a" font-family="Liberation Serif, serif" font-size="11.5">−150</text>
<text x="1059.3" y="156.1" text-anchor="end" fill="#4a4a4a" font-family="Liberation Serif, serif" font-size="11.5">−200</text>
<text x="1059.3" y="185.2" text-anchor="end" fill="#4a4a4a" font-family="Liberation Serif, serif" font-size="11.5">−250</text>
<text x="1059.3" y="214.3" text-anchor="end" fill="#4a4a4a" font-family="Liberation Serif, serif" font-size="11.5">−300</text>
<text x="1206.7" y="241.2" text-anchor="middle" fill="#262626" font-family="Liberation Sans, sans-serif" font-size="11.2">timesteps</text>
<text transform="translate(1024.6,108.0) rotate(-90)" text-anchor="middle" fill="#262626" font-family="Liberation Sans, sans-serif" font-size="11.2" y="4">reward</text>
<text x="111.6" y="278.4" fill="#000" font-family="Liberation Serif, serif" font-size="34" textLength="159.5" lengthAdjust="spacingAndGlyphs">(a) Cheetah</text>
<text x="470.8" y="279.1" fill="#000" font-family="Liberation Serif, serif" font-size="34" textLength="101.1" lengthAdjust="spacingAndGlyphs">(b) Ant</text>
<text x="761.0" y="282.1" fill="#000" font-family="Liberation Serif, serif" font-size="34" textLength="181.7" lengthAdjust="spacingAndGlyphs">(c) Swimmer</text>
<text x="1100.1" y="280.2" fill="#000" font-family="Liberation Serif, serif" font-size="34" textLength="162.8" lengthAdjust="spacingAndGlyphs">(d) Acrobot</text>
<rect x="0" y="300.2" width="1374" height="1.8" fill="#858585"/>
<rect x="0" y="376.9" width="1374" height="1.9" fill="#858585"/>
<rect x="0" y="300.2" width="1.1" height="78.6" fill="#111"/>
<rect x="1372.8" y="300.2" width="1.2" height="78.6" fill="#222"/>
<rect x="45.9" y="317.9" width="83.5" height="6.6" fill="#C44E52"/>
<rect x="45.9" y="352.4" width="83.5" height="6.7" fill="#55A868"/>
<text x="154.0" y="331.0" fill="#000" font-family="Liberation Serif, serif" font-size="30.3" textLength="135.5" lengthAdjust="spacingAndGlyphs">POPLIN-P</text>
<text x="154.0" y="366.0" fill="#000" font-family="Liberation Serif, serif" font-size="30.3" textLength="34.9" lengthAdjust="spacingAndGlyphs">RS</text>
<rect x="398.8" y="317.9" width="83.5" height="6.6" fill="#DD8452"/>
<rect x="398.8" y="352.4" width="83.5" height="6.7" fill="#937860"/>
<text x="506.3" y="331.0" fill="#000" font-family="Liberation Serif, serif" font-size="30.3" textLength="138.2" lengthAdjust="spacingAndGlyphs">POPLIN-A</text>
<text x="506.3" y="366.0" fill="#000" font-family="Liberation Serif, serif" font-size="30.3" textLength="55.9" lengthAdjust="spacingAndGlyphs">TD3</text>
<rect x="782.0" y="317.9" width="87.2" height="6.6" fill="#DA8BC3"/>
<rect x="782.0" y="352.4" width="87.2" height="6.7" fill="#4C72B0"/>
<text x="893.0" y="331.0" fill="#000" font-family="Liberation Serif, serif" font-size="30.3" textLength="53.6" lengthAdjust="spacingAndGlyphs">SAC</text>
<text x="893.0" y="366.0" fill="#000" font-family="Liberation Serif, serif" font-size="30.3" textLength="74.1" lengthAdjust="spacingAndGlyphs">PETS</text>
<rect x="1136.6" y="317.9" width="84.7" height="6.6" fill="#8172B3"/>
<rect x="1136.6" y="352.4" width="84.7" height="6.7" fill="#8C8C8C"/>
<text x="1245.5" y="331.0" fill="#000" font-family="Liberation Serif, serif" font-size="30.3" textLength="119.0" lengthAdjust="spacingAndGlyphs">METRPO</text>
<text x="1245.5" y="366.0" fill="#000" font-family="Liberation Serif, serif" font-size="30.3" textLength="56.6" lengthAdjust="spacingAndGlyphs">PPO</text></svg>
</body></html>
